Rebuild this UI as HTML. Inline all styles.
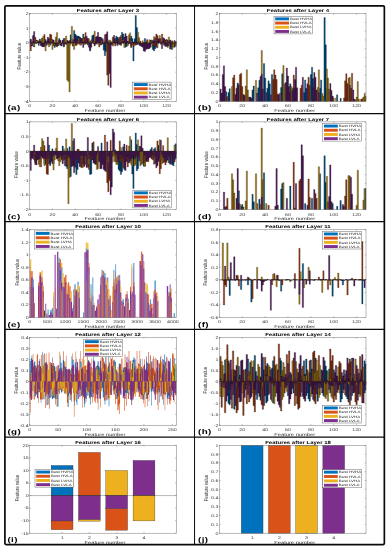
<!DOCTYPE html><html><head><meta charset="utf-8"><title>Features after layers</title>
<style>html,body{margin:0;padding:0;background:#fff}svg{display:block}text{font-family:'Liberation Sans',Arial,Helvetica,sans-serif;text-rendering:geometricPrecision}</style></head><body>
<svg width="390" height="550" viewBox="0 0 390 550">
<rect width="390" height="550" fill="#fff"/>
<g>
<path d="M30.1 42.9V39.9H31.4V42.9ZM31.2 42.9V45.4H32.5V42.9ZM32.4 42.9V42.4H33.7V42.9ZM33.5 42.9V47.0H34.8V42.9ZM34.7 42.9V42.1H36.0V42.9ZM35.8 42.9V40.0H37.1V42.9ZM36.9 42.9V42.4H38.2V42.9ZM38.1 42.9V45.4H39.4V42.9ZM39.2 42.9V38.9H40.5V42.9ZM40.4 42.9V41.3H41.7V42.9ZM41.5 42.9V38.2H42.8V42.9ZM42.6 42.9V43.5H44.0V42.9ZM43.8 42.9V41.2H45.1V42.9ZM44.9 42.9V39.5H46.2V42.9ZM46.1 42.9V41.2H47.4V42.9ZM47.2 42.9V41.5H48.5V42.9ZM48.3 42.9V44.6H49.7V42.9ZM49.5 42.9V45.2H50.8V42.9ZM50.6 42.9V39.4H51.9V42.9ZM51.8 42.9V44.0H53.1V42.9ZM52.9 42.9V42.5H54.2V42.9ZM54.1 42.9V47.5H55.4V42.9ZM55.2 42.9V45.8H56.5V42.9ZM56.3 42.9V45.8H57.7V42.9ZM57.5 42.9V45.5H58.8V42.9ZM58.6 42.9V38.4H59.9V42.9ZM59.8 42.9V45.6H61.1V42.9ZM60.9 42.9V46.0H62.2V42.9ZM62.0 42.9V41.2H63.4V42.9ZM63.2 42.9V38.2H64.5V42.9ZM64.3 42.9V43.0H65.6V42.9ZM65.5 42.9V42.5H66.8V42.9ZM66.6 42.9V40.3H67.9V42.9ZM67.8 42.9V41.3H69.1V42.9ZM68.9 42.9V43.5H70.2V42.9ZM70.0 42.9V34.8H71.4V42.9ZM71.2 42.9V39.0H72.5V42.9ZM72.3 42.9V46.3H73.6V42.9ZM73.5 42.9V30.4H74.8V42.9ZM74.6 42.9V34.1H75.9V42.9ZM75.7 42.9V35.5H77.1V42.9ZM76.9 42.9V36.3H78.2V42.9ZM78.0 42.9V36.1H79.3V42.9ZM79.2 42.9V37.0H80.5V42.9ZM80.3 42.9V43.0H81.6V42.9ZM81.5 42.9V42.4H82.8V42.9ZM82.6 42.9V34.1H83.9V42.9ZM83.7 42.9V43.7H85.0V42.9ZM84.9 42.9V41.9H86.2V42.9ZM86.0 42.9V40.1H87.3V42.9ZM87.2 42.9V45.0H88.5V42.9ZM88.3 42.9V42.2H89.6V42.9ZM89.4 42.9V51.1H90.8V42.9ZM90.6 42.9V40.9H91.9V42.9ZM91.7 42.9V35.5H93.0V42.9ZM92.9 42.9V34.8H94.2V42.9ZM94.0 42.9V42.7H95.3V42.9ZM95.2 42.9V43.9H96.5V42.9ZM96.3 42.9V38.2H97.6V42.9ZM97.4 42.9V42.3H98.7V42.9ZM98.6 42.9V41.8H99.9V42.9ZM99.7 42.9V42.4H101.0V42.9ZM100.9 42.9V37.7H102.2V42.9ZM102.0 42.9V40.6H103.3V42.9ZM103.1 42.9V50.2H104.5V42.9ZM104.3 42.9V55.7H105.6V42.9ZM105.4 42.9V51.6H106.7V42.9ZM106.6 42.9V42.7H107.9V42.9ZM107.7 42.9V47.3H109.0V42.9ZM108.9 42.9V42.9H110.2V42.9ZM110.0 42.9V42.5H111.3V42.9ZM111.1 42.9V45.0H112.4V42.9ZM112.3 42.9V37.6H113.6V42.9ZM113.4 42.9V42.2H114.7V42.9ZM114.6 42.9V44.2H115.9V42.9ZM115.7 42.9V36.3H117.0V42.9ZM116.8 42.9V37.0H118.2V42.9ZM118.0 42.9V40.7H119.3V42.9ZM119.1 42.9V44.7H120.4V42.9ZM120.3 42.9V44.4H121.6V42.9ZM121.4 42.9V32.2H122.7V42.9ZM122.5 42.9V34.1H123.9V42.9ZM123.7 42.9V43.9H125.0V42.9ZM124.8 42.9V47.3H126.1V42.9ZM126.0 42.9V46.5H127.3V42.9ZM127.1 42.9V42.0H128.4V42.9ZM128.3 42.9V41.2H129.6V42.9ZM129.4 42.9V42.4H130.7V42.9ZM130.5 42.9V36.1H131.9V42.9ZM131.7 42.9V38.5H133.0V42.9ZM132.8 42.9V61.0H134.1V42.9ZM134.0 42.9V38.7H135.3V42.9ZM135.1 42.9V15.4H136.4V42.9ZM136.2 42.9V27.5H137.6V42.9ZM137.4 42.9V43.6H138.7V42.9ZM138.5 42.9V41.6H139.8V42.9ZM139.7 42.9V45.5H141.0V42.9ZM140.8 42.9V45.6H142.1V42.9ZM142.0 42.9V44.3H143.3V42.9ZM143.1 42.9V44.5H144.4V42.9ZM144.2 42.9V38.5H145.6V42.9ZM145.4 42.9V42.0H146.7V42.9ZM146.5 42.9V40.7H147.8V42.9ZM147.7 42.9V44.5H149.0V42.9ZM148.8 42.9V43.1H150.1V42.9ZM149.9 42.9V39.9H151.3V42.9ZM151.1 42.9V42.3H152.4V42.9ZM152.2 42.9V49.5H153.5V42.9ZM153.4 42.9V50.9H154.7V42.9ZM154.5 42.9V48.7H155.8V42.9ZM155.7 42.9V41.6H157.0V42.9ZM156.8 42.9V44.8H158.1V42.9ZM157.9 42.9V40.6H159.2V42.9ZM159.1 42.9V41.8H160.4V42.9ZM160.2 42.9V41.7H161.5V42.9ZM161.4 42.9V41.4H162.7V42.9ZM162.5 42.9V41.3H163.8V42.9ZM163.6 42.9V45.1H165.0V42.9ZM164.8 42.9V43.5H166.1V42.9ZM167.1 42.9V40.0H168.4V42.9ZM168.2 42.9V42.5H169.5V42.9ZM169.4 42.9V48.9H170.7V42.9ZM170.5 42.9V47.3H171.8V42.9ZM171.6 42.9V41.1H172.9V42.9ZM172.8 42.9V45.1H174.1V42.9ZM173.9 42.9V47.3H175.2V42.9ZM175.1 42.9V42.1H176.4V42.9Z" fill="#005084"/>
<path d="M30.1 42.9V39.9H31.4V42.9M31.2 42.9V45.4H32.5V42.9M32.4 42.9V42.4H33.7V42.9M33.5 42.9V47.0H34.8V42.9M34.7 42.9V42.1H36.0V42.9M35.8 42.9V40.0H37.1V42.9M36.9 42.9V42.4H38.2V42.9M38.1 42.9V45.4H39.4V42.9M39.2 42.9V38.9H40.5V42.9M40.4 42.9V41.3H41.7V42.9M41.5 42.9V38.2H42.8V42.9M42.6 42.9V43.5H44.0V42.9M43.8 42.9V41.2H45.1V42.9M44.9 42.9V39.5H46.2V42.9M46.1 42.9V41.2H47.4V42.9M47.2 42.9V41.5H48.5V42.9M48.3 42.9V44.6H49.7V42.9M49.5 42.9V45.2H50.8V42.9M50.6 42.9V39.4H51.9V42.9M51.8 42.9V44.0H53.1V42.9M52.9 42.9V42.5H54.2V42.9M54.1 42.9V47.5H55.4V42.9M55.2 42.9V45.8H56.5V42.9M56.3 42.9V45.8H57.7V42.9M57.5 42.9V45.5H58.8V42.9M58.6 42.9V38.4H59.9V42.9M59.8 42.9V45.6H61.1V42.9M60.9 42.9V46.0H62.2V42.9M62.0 42.9V41.2H63.4V42.9M63.2 42.9V38.2H64.5V42.9M64.3 42.9V43.0H65.6V42.9M65.5 42.9V42.5H66.8V42.9M66.6 42.9V40.3H67.9V42.9M67.8 42.9V41.3H69.1V42.9M68.9 42.9V43.5H70.2V42.9M70.0 42.9V34.8H71.4V42.9M71.2 42.9V39.0H72.5V42.9M72.3 42.9V46.3H73.6V42.9M73.5 42.9V30.4H74.8V42.9M74.6 42.9V34.1H75.9V42.9M75.7 42.9V35.5H77.1V42.9M76.9 42.9V36.3H78.2V42.9M78.0 42.9V36.1H79.3V42.9M79.2 42.9V37.0H80.5V42.9M80.3 42.9V43.0H81.6V42.9M81.5 42.9V42.4H82.8V42.9M82.6 42.9V34.1H83.9V42.9M83.7 42.9V43.7H85.0V42.9M84.9 42.9V41.9H86.2V42.9M86.0 42.9V40.1H87.3V42.9M87.2 42.9V45.0H88.5V42.9M88.3 42.9V42.2H89.6V42.9M89.4 42.9V51.1H90.8V42.9M90.6 42.9V40.9H91.9V42.9M91.7 42.9V35.5H93.0V42.9M92.9 42.9V34.8H94.2V42.9M94.0 42.9V42.7H95.3V42.9M95.2 42.9V43.9H96.5V42.9M96.3 42.9V38.2H97.6V42.9M97.4 42.9V42.3H98.7V42.9M98.6 42.9V41.8H99.9V42.9M99.7 42.9V42.4H101.0V42.9M100.9 42.9V37.7H102.2V42.9M102.0 42.9V40.6H103.3V42.9M103.1 42.9V50.2H104.5V42.9M104.3 42.9V55.7H105.6V42.9M105.4 42.9V51.6H106.7V42.9M106.6 42.9V42.7H107.9V42.9M107.7 42.9V47.3H109.0V42.9M108.9 42.9V42.9H110.2V42.9M110.0 42.9V42.5H111.3V42.9M111.1 42.9V45.0H112.4V42.9M112.3 42.9V37.6H113.6V42.9M113.4 42.9V42.2H114.7V42.9M114.6 42.9V44.2H115.9V42.9M115.7 42.9V36.3H117.0V42.9M116.8 42.9V37.0H118.2V42.9M118.0 42.9V40.7H119.3V42.9M119.1 42.9V44.7H120.4V42.9M120.3 42.9V44.4H121.6V42.9M121.4 42.9V32.2H122.7V42.9M122.5 42.9V34.1H123.9V42.9M123.7 42.9V43.9H125.0V42.9M124.8 42.9V47.3H126.1V42.9M126.0 42.9V46.5H127.3V42.9M127.1 42.9V42.0H128.4V42.9M128.3 42.9V41.2H129.6V42.9M129.4 42.9V42.4H130.7V42.9M130.5 42.9V36.1H131.9V42.9M131.7 42.9V38.5H133.0V42.9M132.8 42.9V61.0H134.1V42.9M134.0 42.9V38.7H135.3V42.9M135.1 42.9V15.4H136.4V42.9M136.2 42.9V27.5H137.6V42.9M137.4 42.9V43.6H138.7V42.9M138.5 42.9V41.6H139.8V42.9M139.7 42.9V45.5H141.0V42.9M140.8 42.9V45.6H142.1V42.9M142.0 42.9V44.3H143.3V42.9M143.1 42.9V44.5H144.4V42.9M144.2 42.9V38.5H145.6V42.9M145.4 42.9V42.0H146.7V42.9M146.5 42.9V40.7H147.8V42.9M147.7 42.9V44.5H149.0V42.9M148.8 42.9V43.1H150.1V42.9M149.9 42.9V39.9H151.3V42.9M151.1 42.9V42.3H152.4V42.9M152.2 42.9V49.5H153.5V42.9M153.4 42.9V50.9H154.7V42.9M154.5 42.9V48.7H155.8V42.9M155.7 42.9V41.6H157.0V42.9M156.8 42.9V44.8H158.1V42.9M157.9 42.9V40.6H159.2V42.9M159.1 42.9V41.8H160.4V42.9M160.2 42.9V41.7H161.5V42.9M161.4 42.9V41.4H162.7V42.9M162.5 42.9V41.3H163.8V42.9M163.6 42.9V45.1H165.0V42.9M164.8 42.9V43.5H166.1V42.9M167.1 42.9V40.0H168.4V42.9M168.2 42.9V42.5H169.5V42.9M169.4 42.9V48.9H170.7V42.9M170.5 42.9V47.3H171.8V42.9M171.6 42.9V41.1H172.9V42.9M172.8 42.9V45.1H174.1V42.9M173.9 42.9V47.3H175.2V42.9M175.1 42.9V42.1H176.4V42.9" fill="none" stroke="#000" stroke-opacity="0.55" stroke-width="0.4"/>
<path d="M30.1 42.9V50.9H31.4V42.9ZM31.2 42.9V42.8H32.5V42.9ZM32.4 42.9V42.6H33.7V42.9ZM33.5 42.9V43.0H34.8V42.9ZM34.7 42.9V37.3H36.0V42.9ZM35.8 42.9V42.4H37.1V42.9ZM36.9 42.9V40.5H38.2V42.9ZM38.1 42.9V41.8H39.4V42.9ZM39.2 42.9V40.3H40.5V42.9ZM40.4 42.9V45.4H41.7V42.9ZM41.5 42.9V43.1H42.8V42.9ZM42.6 42.9V46.5H44.0V42.9ZM43.8 42.9V34.4H45.1V42.9ZM44.9 42.9V45.9H46.2V42.9ZM46.1 42.9V42.5H47.4V42.9ZM47.2 42.9V40.3H48.5V42.9ZM48.3 42.9V41.1H49.7V42.9ZM49.5 42.9V34.1H50.8V42.9ZM50.6 42.9V34.8H51.9V42.9ZM51.8 42.9V42.0H53.1V42.9ZM52.9 42.9V45.8H54.2V42.9ZM54.1 42.9V43.4H55.4V42.9ZM55.2 42.9V39.9H56.5V42.9ZM56.3 42.9V47.1H57.7V42.9ZM57.5 42.9V45.5H58.8V42.9ZM58.6 42.9V41.2H59.9V42.9ZM59.8 42.9V42.9H61.1V42.9ZM60.9 42.9V43.7H62.2V42.9ZM62.0 42.9V42.6H63.4V42.9ZM63.2 42.9V46.1H64.5V42.9ZM64.3 42.9V38.4H65.6V42.9ZM65.5 42.9V42.8H66.8V42.9ZM66.6 42.9V40.8H67.9V42.9ZM67.8 42.9V47.3H69.1V42.9ZM68.9 42.9V45.4H70.2V42.9ZM70.0 42.9V42.5H71.4V42.9ZM71.2 42.9V39.7H72.5V42.9ZM72.3 42.9V45.5H73.6V42.9ZM73.5 42.9V39.9H74.8V42.9ZM74.6 42.9V45.5H75.9V42.9ZM75.7 42.9V45.6H77.1V42.9ZM76.9 42.9V41.0H78.2V42.9ZM78.0 42.9V42.2H79.3V42.9ZM79.2 42.9V38.5H80.5V42.9ZM80.3 42.9V45.3H81.6V42.9ZM81.5 42.9V43.3H82.8V42.9ZM82.6 42.9V43.5H83.9V42.9ZM83.7 42.9V37.0H85.0V42.9ZM84.9 42.9V32.6H86.2V42.9ZM86.0 42.9V40.8H87.3V42.9ZM87.2 42.9V38.6H88.5V42.9ZM88.3 42.9V40.9H89.6V42.9ZM89.4 42.9V41.5H90.8V42.9ZM90.6 42.9V43.8H91.9V42.9ZM91.7 42.9V42.2H93.0V42.9ZM92.9 42.9V42.1H94.2V42.9ZM94.0 42.9V46.0H95.3V42.9ZM95.2 42.9V41.2H96.5V42.9ZM96.3 42.9V44.3H97.6V42.9ZM97.4 42.9V42.5H98.7V42.9ZM98.6 42.9V47.1H99.9V42.9ZM99.7 42.9V45.1H101.0V42.9ZM100.9 42.9V42.0H102.2V42.9ZM102.0 42.9V44.0H103.3V42.9ZM103.1 42.9V43.2H104.5V42.9ZM104.3 42.9V34.8H105.6V42.9ZM105.4 42.9V43.0H106.7V42.9ZM106.6 42.9V75.1H107.9V42.9ZM107.7 42.9V85.3H109.0V42.9ZM108.9 42.9V40.2H110.2V42.9ZM110.0 42.9V42.8H111.3V42.9ZM111.1 42.9V44.3H112.4V42.9ZM112.3 42.9V46.1H113.6V42.9ZM113.4 42.9V39.7H114.7V42.9ZM114.6 42.9V46.1H115.9V42.9ZM115.7 42.9V41.2H117.0V42.9ZM116.8 42.9V43.1H118.2V42.9ZM118.0 42.9V43.7H119.3V42.9ZM119.1 42.9V37.0H120.4V42.9ZM120.3 42.9V35.5H121.6V42.9ZM121.4 42.9V42.4H122.7V42.9ZM122.5 42.9V43.2H123.9V42.9ZM123.7 42.9V38.9H125.0V42.9ZM124.8 42.9V40.6H126.1V42.9ZM126.0 42.9V43.3H127.3V42.9ZM127.1 42.9V44.7H128.4V42.9ZM128.3 42.9V43.8H129.6V42.9ZM129.4 42.9V43.2H130.7V42.9ZM130.5 42.9V47.7H131.9V42.9ZM131.7 42.9V44.2H133.0V42.9ZM132.8 42.9V46.3H134.1V42.9ZM134.0 42.9V43.8H135.3V42.9ZM135.1 42.9V44.9H136.4V42.9ZM136.2 42.9V42.3H137.6V42.9ZM137.4 42.9V43.2H138.7V42.9ZM138.5 42.9V41.6H139.8V42.9ZM139.7 42.9V41.0H141.0V42.9ZM140.8 42.9V43.4H142.1V42.9ZM142.0 42.9V46.4H143.3V42.9ZM143.1 42.9V42.6H144.4V42.9ZM144.2 42.9V45.8H145.6V42.9ZM145.4 42.9V42.6H146.7V42.9ZM146.5 42.9V39.5H147.8V42.9ZM147.7 42.9V47.1H149.0V42.9ZM148.8 42.9V46.0H150.1V42.9ZM149.9 42.9V43.6H151.3V42.9ZM151.1 42.9V39.9H152.4V42.9ZM152.2 42.9V46.2H153.5V42.9ZM153.4 42.9V39.6H154.7V42.9ZM154.5 42.9V45.9H155.8V42.9ZM155.7 42.9V34.1H157.0V42.9ZM156.8 42.9V35.5H158.1V42.9ZM157.9 42.9V43.3H159.2V42.9ZM159.1 42.9V41.1H160.4V42.9ZM160.2 42.9V43.2H161.5V42.9ZM161.4 42.9V34.1H162.7V42.9ZM162.5 42.9V42.8H163.8V42.9ZM163.6 42.9V45.2H165.0V42.9ZM164.8 42.9V40.0H166.1V42.9ZM165.9 42.9V39.3H167.2V42.9ZM167.1 42.9V43.4H168.4V42.9ZM168.2 42.9V45.9H169.5V42.9ZM169.4 42.9V40.2H170.7V42.9ZM170.5 42.9V44.6H171.8V42.9ZM171.6 42.9V40.8H172.9V42.9ZM172.8 42.9V42.9H174.1V42.9ZM173.9 42.9V42.0H175.2V42.9ZM175.1 42.9V46.3H176.4V42.9Z" fill="#983a12"/>
<path d="M30.1 42.9V50.9H31.4V42.9M31.2 42.9V42.8H32.5V42.9M32.4 42.9V42.6H33.7V42.9M33.5 42.9V43.0H34.8V42.9M34.7 42.9V37.3H36.0V42.9M35.8 42.9V42.4H37.1V42.9M36.9 42.9V40.5H38.2V42.9M38.1 42.9V41.8H39.4V42.9M39.2 42.9V40.3H40.5V42.9M40.4 42.9V45.4H41.7V42.9M41.5 42.9V43.1H42.8V42.9M42.6 42.9V46.5H44.0V42.9M43.8 42.9V34.4H45.1V42.9M44.9 42.9V45.9H46.2V42.9M46.1 42.9V42.5H47.4V42.9M47.2 42.9V40.3H48.5V42.9M48.3 42.9V41.1H49.7V42.9M49.5 42.9V34.1H50.8V42.9M50.6 42.9V34.8H51.9V42.9M51.8 42.9V42.0H53.1V42.9M52.9 42.9V45.8H54.2V42.9M54.1 42.9V43.4H55.4V42.9M55.2 42.9V39.9H56.5V42.9M56.3 42.9V47.1H57.7V42.9M57.5 42.9V45.5H58.8V42.9M58.6 42.9V41.2H59.9V42.9M59.8 42.9V42.9H61.1V42.9M60.9 42.9V43.7H62.2V42.9M62.0 42.9V42.6H63.4V42.9M63.2 42.9V46.1H64.5V42.9M64.3 42.9V38.4H65.6V42.9M65.5 42.9V42.8H66.8V42.9M66.6 42.9V40.8H67.9V42.9M67.8 42.9V47.3H69.1V42.9M68.9 42.9V45.4H70.2V42.9M70.0 42.9V42.5H71.4V42.9M71.2 42.9V39.7H72.5V42.9M72.3 42.9V45.5H73.6V42.9M73.5 42.9V39.9H74.8V42.9M74.6 42.9V45.5H75.9V42.9M75.7 42.9V45.6H77.1V42.9M76.9 42.9V41.0H78.2V42.9M78.0 42.9V42.2H79.3V42.9M79.2 42.9V38.5H80.5V42.9M80.3 42.9V45.3H81.6V42.9M81.5 42.9V43.3H82.8V42.9M82.6 42.9V43.5H83.9V42.9M83.7 42.9V37.0H85.0V42.9M84.9 42.9V32.6H86.2V42.9M86.0 42.9V40.8H87.3V42.9M87.2 42.9V38.6H88.5V42.9M88.3 42.9V40.9H89.6V42.9M89.4 42.9V41.5H90.8V42.9M90.6 42.9V43.8H91.9V42.9M91.7 42.9V42.2H93.0V42.9M92.9 42.9V42.1H94.2V42.9M94.0 42.9V46.0H95.3V42.9M95.2 42.9V41.2H96.5V42.9M96.3 42.9V44.3H97.6V42.9M97.4 42.9V42.5H98.7V42.9M98.6 42.9V47.1H99.9V42.9M99.7 42.9V45.1H101.0V42.9M100.9 42.9V42.0H102.2V42.9M102.0 42.9V44.0H103.3V42.9M103.1 42.9V43.2H104.5V42.9M104.3 42.9V34.8H105.6V42.9M105.4 42.9V43.0H106.7V42.9M106.6 42.9V75.1H107.9V42.9M107.7 42.9V85.3H109.0V42.9M108.9 42.9V40.2H110.2V42.9M110.0 42.9V42.8H111.3V42.9M111.1 42.9V44.3H112.4V42.9M112.3 42.9V46.1H113.6V42.9M113.4 42.9V39.7H114.7V42.9M114.6 42.9V46.1H115.9V42.9M115.7 42.9V41.2H117.0V42.9M116.8 42.9V43.1H118.2V42.9M118.0 42.9V43.7H119.3V42.9M119.1 42.9V37.0H120.4V42.9M120.3 42.9V35.5H121.6V42.9M121.4 42.9V42.4H122.7V42.9M122.5 42.9V43.2H123.9V42.9M123.7 42.9V38.9H125.0V42.9M124.8 42.9V40.6H126.1V42.9M126.0 42.9V43.3H127.3V42.9M127.1 42.9V44.7H128.4V42.9M128.3 42.9V43.8H129.6V42.9M129.4 42.9V43.2H130.7V42.9M130.5 42.9V47.7H131.9V42.9M131.7 42.9V44.2H133.0V42.9M132.8 42.9V46.3H134.1V42.9M134.0 42.9V43.8H135.3V42.9M135.1 42.9V44.9H136.4V42.9M136.2 42.9V42.3H137.6V42.9M137.4 42.9V43.2H138.7V42.9M138.5 42.9V41.6H139.8V42.9M139.7 42.9V41.0H141.0V42.9M140.8 42.9V43.4H142.1V42.9M142.0 42.9V46.4H143.3V42.9M143.1 42.9V42.6H144.4V42.9M144.2 42.9V45.8H145.6V42.9M145.4 42.9V42.6H146.7V42.9M146.5 42.9V39.5H147.8V42.9M147.7 42.9V47.1H149.0V42.9M148.8 42.9V46.0H150.1V42.9M149.9 42.9V43.6H151.3V42.9M151.1 42.9V39.9H152.4V42.9M152.2 42.9V46.2H153.5V42.9M153.4 42.9V39.6H154.7V42.9M154.5 42.9V45.9H155.8V42.9M155.7 42.9V34.1H157.0V42.9M156.8 42.9V35.5H158.1V42.9M157.9 42.9V43.3H159.2V42.9M159.1 42.9V41.1H160.4V42.9M160.2 42.9V43.2H161.5V42.9M161.4 42.9V34.1H162.7V42.9M162.5 42.9V42.8H163.8V42.9M163.6 42.9V45.2H165.0V42.9M164.8 42.9V40.0H166.1V42.9M165.9 42.9V39.3H167.2V42.9M167.1 42.9V43.4H168.4V42.9M168.2 42.9V45.9H169.5V42.9M169.4 42.9V40.2H170.7V42.9M170.5 42.9V44.6H171.8V42.9M171.6 42.9V40.8H172.9V42.9M172.8 42.9V42.9H174.1V42.9M173.9 42.9V42.0H175.2V42.9M175.1 42.9V46.3H176.4V42.9" fill="none" stroke="#000" stroke-opacity="0.55" stroke-width="0.4"/>
<path d="M30.1 42.9V42.7H31.4V42.9ZM31.2 42.9V45.3H32.5V42.9ZM32.4 42.9V41.6H33.7V42.9ZM33.5 42.9V46.4H34.8V42.9ZM34.7 42.9V42.4H36.0V42.9ZM35.8 42.9V40.7H37.1V42.9ZM36.9 42.9V41.2H38.2V42.9ZM38.1 42.9V42.7H39.4V42.9ZM39.2 42.9V43.0H40.5V42.9ZM40.4 42.9V43.8H41.7V42.9ZM41.5 42.9V38.5H42.8V42.9ZM42.6 42.9V36.3H44.0V42.9ZM43.8 42.9V43.9H45.1V42.9ZM44.9 42.9V50.9H46.2V42.9ZM46.1 42.9V42.2H47.4V42.9ZM47.2 42.9V43.9H48.5V42.9ZM48.3 42.9V46.9H49.7V42.9ZM49.5 42.9V43.4H50.8V42.9ZM50.6 42.9V39.7H51.9V42.9ZM51.8 42.9V49.5H53.1V42.9ZM52.9 42.9V41.8H54.2V42.9ZM54.1 42.9V45.2H55.4V42.9ZM55.2 42.9V37.0H56.5V42.9ZM56.3 42.9V32.6H57.7V42.9ZM57.5 42.9V45.2H58.8V42.9ZM58.6 42.9V44.3H59.9V42.9ZM59.8 42.9V44.2H61.1V42.9ZM60.9 42.9V44.8H62.2V42.9ZM62.0 42.9V41.5H63.4V42.9ZM63.2 42.9V41.6H64.5V42.9ZM64.3 42.9V43.3H65.6V42.9ZM65.5 42.9V36.1H66.8V42.9ZM66.6 42.9V80.2H67.9V42.9ZM67.8 42.9V81.6H69.1V42.9ZM68.9 42.9V91.9H70.2V42.9ZM70.0 42.9V44.2H71.4V42.9ZM71.2 42.9V26.3H72.5V42.9ZM72.3 42.9V42.4H73.6V42.9ZM73.5 42.9V49.6H74.8V42.9ZM74.6 42.9V41.7H75.9V42.9ZM75.7 42.9V42.3H77.1V42.9ZM76.9 42.9V44.3H78.2V42.9ZM78.0 42.9V38.2H79.3V42.9ZM79.2 42.9V44.9H80.5V42.9ZM81.5 42.9V40.3H82.8V42.9ZM82.6 42.9V38.6H83.9V42.9ZM83.7 42.9V44.4H85.0V42.9ZM84.9 42.9V44.3H86.2V42.9ZM86.0 42.9V43.7H87.3V42.9ZM87.2 42.9V42.5H88.5V42.9ZM88.3 42.9V38.8H89.6V42.9ZM89.4 42.9V44.9H90.8V42.9ZM90.6 42.9V40.2H91.9V42.9ZM91.7 42.9V42.5H93.0V42.9ZM92.9 42.9V41.5H94.2V42.9ZM94.0 42.9V31.2H95.3V42.9ZM95.2 42.9V40.7H96.5V42.9ZM96.3 42.9V40.9H97.6V42.9ZM97.4 42.9V38.7H98.7V42.9ZM98.6 42.9V44.6H99.9V42.9ZM99.7 42.9V44.4H101.0V42.9ZM100.9 42.9V40.5H102.2V42.9ZM102.0 42.9V43.6H103.3V42.9ZM103.1 42.9V43.4H104.5V42.9ZM104.3 42.9V41.2H105.6V42.9ZM105.4 42.9V41.8H106.7V42.9ZM106.6 42.9V38.8H107.9V42.9ZM107.7 42.9V41.2H109.0V42.9ZM108.9 42.9V40.1H110.2V42.9ZM110.0 42.9V40.9H111.3V42.9ZM111.1 42.9V43.2H112.4V42.9ZM112.3 42.9V37.0H113.6V42.9ZM113.4 42.9V40.0H114.7V42.9ZM114.6 42.9V43.0H115.9V42.9ZM115.7 42.9V41.2H117.0V42.9ZM116.8 42.9V44.8H118.2V42.9ZM118.0 42.9V43.6H119.3V42.9ZM119.1 42.9V41.3H120.4V42.9ZM120.3 42.9V45.6H121.6V42.9ZM121.4 42.9V42.8H122.7V42.9ZM122.5 42.9V39.9H123.9V42.9ZM123.7 42.9V47.5H125.0V42.9ZM124.8 42.9V42.6H126.1V42.9ZM126.0 42.9V41.8H127.3V42.9ZM127.1 42.9V45.8H128.4V42.9ZM128.3 42.9V34.8H129.6V42.9ZM129.4 42.9V32.8H130.7V42.9ZM130.5 42.9V40.8H131.9V42.9ZM131.7 42.9V44.1H133.0V42.9ZM134.0 42.9V45.7H135.3V42.9ZM135.1 42.9V44.6H136.4V42.9ZM136.2 42.9V44.3H137.6V42.9ZM137.4 42.9V32.2H138.7V42.9ZM138.5 42.9V37.7H139.8V42.9ZM139.7 42.9V42.8H141.0V42.9ZM140.8 42.9V44.4H142.1V42.9ZM142.0 42.9V40.7H143.3V42.9ZM143.1 42.9V45.4H144.4V42.9ZM144.2 42.9V43.4H145.6V42.9ZM145.4 42.9V47.7H146.7V42.9ZM146.5 42.9V41.4H147.8V42.9ZM147.7 42.9V45.4H149.0V42.9ZM148.8 42.9V39.8H150.1V42.9ZM149.9 42.9V42.1H151.3V42.9ZM151.1 42.9V42.8H152.4V42.9ZM152.2 42.9V44.5H153.5V42.9ZM153.4 42.9V36.5H154.7V42.9ZM154.5 42.9V43.4H155.8V42.9ZM155.7 42.9V42.1H157.0V42.9ZM156.8 42.9V47.9H158.1V42.9ZM157.9 42.9V42.1H159.2V42.9ZM159.1 42.9V35.5H160.4V42.9ZM160.2 42.9V38.5H161.5V42.9ZM161.4 42.9V42.8H162.7V42.9ZM162.5 42.9V43.3H163.8V42.9ZM163.6 42.9V42.1H165.0V42.9ZM164.8 42.9V43.3H166.1V42.9ZM165.9 42.9V41.8H167.2V42.9ZM167.1 42.9V47.5H168.4V42.9ZM168.2 42.9V36.9H169.5V42.9ZM169.4 42.9V40.0H170.7V42.9ZM170.5 42.9V42.4H171.8V42.9ZM171.6 42.9V49.6H172.9V42.9ZM172.8 42.9V47.3H174.1V42.9ZM173.9 42.9V43.7H175.2V42.9ZM175.1 42.9V41.4H176.4V42.9Z" fill="#a67c16"/>
<path d="M30.1 42.9V42.7H31.4V42.9M31.2 42.9V45.3H32.5V42.9M32.4 42.9V41.6H33.7V42.9M33.5 42.9V46.4H34.8V42.9M34.7 42.9V42.4H36.0V42.9M35.8 42.9V40.7H37.1V42.9M36.9 42.9V41.2H38.2V42.9M38.1 42.9V42.7H39.4V42.9M39.2 42.9V43.0H40.5V42.9M40.4 42.9V43.8H41.7V42.9M41.5 42.9V38.5H42.8V42.9M42.6 42.9V36.3H44.0V42.9M43.8 42.9V43.9H45.1V42.9M44.9 42.9V50.9H46.2V42.9M46.1 42.9V42.2H47.4V42.9M47.2 42.9V43.9H48.5V42.9M48.3 42.9V46.9H49.7V42.9M49.5 42.9V43.4H50.8V42.9M50.6 42.9V39.7H51.9V42.9M51.8 42.9V49.5H53.1V42.9M52.9 42.9V41.8H54.2V42.9M54.1 42.9V45.2H55.4V42.9M55.2 42.9V37.0H56.5V42.9M56.3 42.9V32.6H57.7V42.9M57.5 42.9V45.2H58.8V42.9M58.6 42.9V44.3H59.9V42.9M59.8 42.9V44.2H61.1V42.9M60.9 42.9V44.8H62.2V42.9M62.0 42.9V41.5H63.4V42.9M63.2 42.9V41.6H64.5V42.9M64.3 42.9V43.3H65.6V42.9M65.5 42.9V36.1H66.8V42.9M66.6 42.9V80.2H67.9V42.9M67.8 42.9V81.6H69.1V42.9M68.9 42.9V91.9H70.2V42.9M70.0 42.9V44.2H71.4V42.9M71.2 42.9V26.3H72.5V42.9M72.3 42.9V42.4H73.6V42.9M73.5 42.9V49.6H74.8V42.9M74.6 42.9V41.7H75.9V42.9M75.7 42.9V42.3H77.1V42.9M76.9 42.9V44.3H78.2V42.9M78.0 42.9V38.2H79.3V42.9M79.2 42.9V44.9H80.5V42.9M81.5 42.9V40.3H82.8V42.9M82.6 42.9V38.6H83.9V42.9M83.7 42.9V44.4H85.0V42.9M84.9 42.9V44.3H86.2V42.9M86.0 42.9V43.7H87.3V42.9M87.2 42.9V42.5H88.5V42.9M88.3 42.9V38.8H89.6V42.9M89.4 42.9V44.9H90.8V42.9M90.6 42.9V40.2H91.9V42.9M91.7 42.9V42.5H93.0V42.9M92.9 42.9V41.5H94.2V42.9M94.0 42.9V31.2H95.3V42.9M95.2 42.9V40.7H96.5V42.9M96.3 42.9V40.9H97.6V42.9M97.4 42.9V38.7H98.7V42.9M98.6 42.9V44.6H99.9V42.9M99.7 42.9V44.4H101.0V42.9M100.9 42.9V40.5H102.2V42.9M102.0 42.9V43.6H103.3V42.9M103.1 42.9V43.4H104.5V42.9M104.3 42.9V41.2H105.6V42.9M105.4 42.9V41.8H106.7V42.9M106.6 42.9V38.8H107.9V42.9M107.7 42.9V41.2H109.0V42.9M108.9 42.9V40.1H110.2V42.9M110.0 42.9V40.9H111.3V42.9M111.1 42.9V43.2H112.4V42.9M112.3 42.9V37.0H113.6V42.9M113.4 42.9V40.0H114.7V42.9M114.6 42.9V43.0H115.9V42.9M115.7 42.9V41.2H117.0V42.9M116.8 42.9V44.8H118.2V42.9M118.0 42.9V43.6H119.3V42.9M119.1 42.9V41.3H120.4V42.9M120.3 42.9V45.6H121.6V42.9M121.4 42.9V42.8H122.7V42.9M122.5 42.9V39.9H123.9V42.9M123.7 42.9V47.5H125.0V42.9M124.8 42.9V42.6H126.1V42.9M126.0 42.9V41.8H127.3V42.9M127.1 42.9V45.8H128.4V42.9M128.3 42.9V34.8H129.6V42.9M129.4 42.9V32.8H130.7V42.9M130.5 42.9V40.8H131.9V42.9M131.7 42.9V44.1H133.0V42.9M134.0 42.9V45.7H135.3V42.9M135.1 42.9V44.6H136.4V42.9M136.2 42.9V44.3H137.6V42.9M137.4 42.9V32.2H138.7V42.9M138.5 42.9V37.7H139.8V42.9M139.7 42.9V42.8H141.0V42.9M140.8 42.9V44.4H142.1V42.9M142.0 42.9V40.7H143.3V42.9M143.1 42.9V45.4H144.4V42.9M144.2 42.9V43.4H145.6V42.9M145.4 42.9V47.7H146.7V42.9M146.5 42.9V41.4H147.8V42.9M147.7 42.9V45.4H149.0V42.9M148.8 42.9V39.8H150.1V42.9M149.9 42.9V42.1H151.3V42.9M151.1 42.9V42.8H152.4V42.9M152.2 42.9V44.5H153.5V42.9M153.4 42.9V36.5H154.7V42.9M154.5 42.9V43.4H155.8V42.9M155.7 42.9V42.1H157.0V42.9M156.8 42.9V47.9H158.1V42.9M157.9 42.9V42.1H159.2V42.9M159.1 42.9V35.5H160.4V42.9M160.2 42.9V38.5H161.5V42.9M161.4 42.9V42.8H162.7V42.9M162.5 42.9V43.3H163.8V42.9M163.6 42.9V42.1H165.0V42.9M164.8 42.9V43.3H166.1V42.9M165.9 42.9V41.8H167.2V42.9M167.1 42.9V47.5H168.4V42.9M168.2 42.9V36.9H169.5V42.9M169.4 42.9V40.0H170.7V42.9M170.5 42.9V42.4H171.8V42.9M171.6 42.9V49.6H172.9V42.9M172.8 42.9V47.3H174.1V42.9M173.9 42.9V43.7H175.2V42.9M175.1 42.9V41.4H176.4V42.9" fill="none" stroke="#000" stroke-opacity="0.55" stroke-width="0.4"/>
<path d="M30.1 42.9V38.9H31.4V42.9ZM31.2 42.9V46.2H32.5V42.9ZM32.4 42.9V35.5H33.7V42.9ZM33.5 42.9V31.5H34.8V42.9ZM34.7 42.9V43.2H36.0V42.9ZM35.8 42.9V43.7H37.1V42.9ZM36.9 42.9V42.6H38.2V42.9ZM38.1 42.9V41.2H39.4V42.9ZM39.2 42.9V42.4H40.5V42.9ZM40.4 42.9V45.8H41.7V42.9ZM41.5 42.9V46.5H42.8V42.9ZM42.6 42.9V47.0H44.0V42.9ZM43.8 42.9V46.5H45.1V42.9ZM44.9 42.9V43.0H46.2V42.9ZM46.1 42.9V45.2H47.4V42.9ZM47.2 42.9V37.0H48.5V42.9ZM48.3 42.9V38.5H49.7V42.9ZM49.5 42.9V42.8H50.8V42.9ZM50.6 42.9V43.2H51.9V42.9ZM51.8 42.9V39.5H53.1V42.9ZM52.9 42.9V39.9H54.2V42.9ZM54.1 42.9V44.1H55.4V42.9ZM55.2 42.9V42.9H56.5V42.9ZM56.3 42.9V45.4H57.7V42.9ZM57.5 42.9V43.8H58.8V42.9ZM58.6 42.9V39.9H59.9V42.9ZM59.8 42.9V40.2H61.1V42.9ZM60.9 42.9V44.5H62.2V42.9ZM62.0 42.9V40.1H63.4V42.9ZM63.2 42.9V47.0H64.5V42.9ZM64.3 42.9V43.7H65.6V42.9ZM65.5 42.9V44.6H66.8V42.9ZM66.6 42.9V42.1H67.9V42.9ZM67.8 42.9V41.2H69.1V42.9ZM68.9 42.9V40.5H70.2V42.9ZM70.0 42.9V42.1H71.4V42.9ZM71.2 42.9V43.0H72.5V42.9ZM72.3 42.9V42.8H73.6V42.9ZM73.5 42.9V39.8H74.8V42.9ZM74.6 42.9V36.6H75.9V42.9ZM75.7 42.9V39.5H77.1V42.9ZM76.9 42.9V39.9H78.2V42.9ZM78.0 42.9V43.8H79.3V42.9ZM79.2 42.9V37.7H80.5V42.9ZM80.3 42.9V38.2H81.6V42.9ZM81.5 42.9V38.5H82.8V42.9ZM82.6 42.9V47.5H83.9V42.9ZM83.7 42.9V41.4H85.0V42.9ZM84.9 42.9V42.2H86.2V42.9ZM86.0 42.9V36.3H87.3V42.9ZM87.2 42.9V38.5H88.5V42.9ZM88.3 42.9V47.3H89.6V42.9ZM89.4 42.9V49.5H90.8V42.9ZM90.6 42.9V47.3H91.9V42.9ZM91.7 42.9V39.1H93.0V42.9ZM92.9 42.9V43.7H94.2V42.9ZM94.0 42.9V44.8H95.3V42.9ZM95.2 42.9V37.0H96.5V42.9ZM96.3 42.9V36.3H97.6V42.9ZM97.4 42.9V32.2H98.7V42.9ZM98.6 42.9V37.0H99.9V42.9ZM99.7 42.9V37.0H101.0V42.9ZM100.9 42.9V44.8H102.2V42.9ZM102.0 42.9V38.8H103.3V42.9ZM103.1 42.9V43.8H104.5V42.9ZM104.3 42.9V42.4H105.6V42.9ZM105.4 42.9V34.1H106.7V42.9ZM106.6 42.9V31.7H107.9V42.9ZM107.7 42.9V43.9H109.0V42.9ZM108.9 42.9V73.6H110.2V42.9ZM110.0 42.9V87.5H111.3V42.9ZM111.1 42.9V42.1H112.4V42.9ZM112.3 42.9V43.1H113.6V42.9ZM113.4 42.9V35.3H114.7V42.9ZM114.6 42.9V38.5H115.9V42.9ZM115.7 42.9V41.9H117.0V42.9ZM116.8 42.9V45.6H118.2V42.9ZM118.0 42.9V38.5H119.3V42.9ZM119.1 42.9V44.1H120.4V42.9ZM120.3 42.9V44.4H121.6V42.9ZM121.4 42.9V42.0H122.7V42.9ZM122.5 42.9V41.4H123.9V42.9ZM123.7 42.9V37.0H125.0V42.9ZM124.8 42.9V33.5H126.1V42.9ZM126.0 42.9V36.1H127.3V42.9ZM127.1 42.9V41.1H128.4V42.9ZM128.3 42.9V43.7H129.6V42.9ZM129.4 42.9V38.2H130.7V42.9ZM130.5 42.9V46.1H131.9V42.9ZM131.7 42.9V42.3H133.0V42.9ZM132.8 42.9V42.0H134.1V42.9ZM134.0 42.9V43.8H135.3V42.9ZM135.1 42.9V41.6H136.4V42.9ZM136.2 42.9V44.8H137.6V42.9ZM137.4 42.9V41.9H138.7V42.9ZM138.5 42.9V44.9H139.8V42.9ZM139.7 42.9V45.8H141.0V42.9ZM140.8 42.9V46.5H142.1V42.9ZM142.0 42.9V47.3H143.3V42.9ZM143.1 42.9V50.9H144.4V42.9ZM144.2 42.9V51.6H145.6V42.9ZM145.4 42.9V49.5H146.7V42.9ZM146.5 42.9V48.7H147.8V42.9ZM147.7 42.9V49.0H149.0V42.9ZM148.8 42.9V48.4H150.1V42.9ZM149.9 42.9V47.3H151.3V42.9ZM151.1 42.9V43.6H152.4V42.9ZM152.2 42.9V40.6H153.5V42.9ZM153.4 42.9V41.2H154.7V42.9ZM154.5 42.9V37.7H155.8V42.9ZM155.7 42.9V47.3H157.0V42.9ZM156.8 42.9V41.1H158.1V42.9ZM157.9 42.9V38.5H159.2V42.9ZM159.1 42.9V39.2H160.4V42.9ZM160.2 42.9V44.3H161.5V42.9ZM161.4 42.9V48.7H162.7V42.9ZM162.5 42.9V37.7H163.8V42.9ZM163.6 42.9V38.5H165.0V42.9ZM164.8 42.9V46.5H166.1V42.9ZM165.9 42.9V46.5H167.2V42.9ZM167.1 42.9V45.8H168.4V42.9ZM168.2 42.9V41.6H169.5V42.9ZM169.4 42.9V40.2H170.7V42.9ZM170.5 42.9V49.2H171.8V42.9ZM171.6 42.9V43.8H172.9V42.9ZM173.9 42.9V40.6H175.2V42.9ZM175.1 42.9V42.7H176.4V42.9Z" fill="#582163"/>
<path d="M30.1 42.9V38.9H31.4V42.9M31.2 42.9V46.2H32.5V42.9M32.4 42.9V35.5H33.7V42.9M33.5 42.9V31.5H34.8V42.9M34.7 42.9V43.2H36.0V42.9M35.8 42.9V43.7H37.1V42.9M36.9 42.9V42.6H38.2V42.9M38.1 42.9V41.2H39.4V42.9M39.2 42.9V42.4H40.5V42.9M40.4 42.9V45.8H41.7V42.9M41.5 42.9V46.5H42.8V42.9M42.6 42.9V47.0H44.0V42.9M43.8 42.9V46.5H45.1V42.9M44.9 42.9V43.0H46.2V42.9M46.1 42.9V45.2H47.4V42.9M47.2 42.9V37.0H48.5V42.9M48.3 42.9V38.5H49.7V42.9M49.5 42.9V42.8H50.8V42.9M50.6 42.9V43.2H51.9V42.9M51.8 42.9V39.5H53.1V42.9M52.9 42.9V39.9H54.2V42.9M54.1 42.9V44.1H55.4V42.9M55.2 42.9V42.9H56.5V42.9M56.3 42.9V45.4H57.7V42.9M57.5 42.9V43.8H58.8V42.9M58.6 42.9V39.9H59.9V42.9M59.8 42.9V40.2H61.1V42.9M60.9 42.9V44.5H62.2V42.9M62.0 42.9V40.1H63.4V42.9M63.2 42.9V47.0H64.5V42.9M64.3 42.9V43.7H65.6V42.9M65.5 42.9V44.6H66.8V42.9M66.6 42.9V42.1H67.9V42.9M67.8 42.9V41.2H69.1V42.9M68.9 42.9V40.5H70.2V42.9M70.0 42.9V42.1H71.4V42.9M71.2 42.9V43.0H72.5V42.9M72.3 42.9V42.8H73.6V42.9M73.5 42.9V39.8H74.8V42.9M74.6 42.9V36.6H75.9V42.9M75.7 42.9V39.5H77.1V42.9M76.9 42.9V39.9H78.2V42.9M78.0 42.9V43.8H79.3V42.9M79.2 42.9V37.7H80.5V42.9M80.3 42.9V38.2H81.6V42.9M81.5 42.9V38.5H82.8V42.9M82.6 42.9V47.5H83.9V42.9M83.7 42.9V41.4H85.0V42.9M84.9 42.9V42.2H86.2V42.9M86.0 42.9V36.3H87.3V42.9M87.2 42.9V38.5H88.5V42.9M88.3 42.9V47.3H89.6V42.9M89.4 42.9V49.5H90.8V42.9M90.6 42.9V47.3H91.9V42.9M91.7 42.9V39.1H93.0V42.9M92.9 42.9V43.7H94.2V42.9M94.0 42.9V44.8H95.3V42.9M95.2 42.9V37.0H96.5V42.9M96.3 42.9V36.3H97.6V42.9M97.4 42.9V32.2H98.7V42.9M98.6 42.9V37.0H99.9V42.9M99.7 42.9V37.0H101.0V42.9M100.9 42.9V44.8H102.2V42.9M102.0 42.9V38.8H103.3V42.9M103.1 42.9V43.8H104.5V42.9M104.3 42.9V42.4H105.6V42.9M105.4 42.9V34.1H106.7V42.9M106.6 42.9V31.7H107.9V42.9M107.7 42.9V43.9H109.0V42.9M108.9 42.9V73.6H110.2V42.9M110.0 42.9V87.5H111.3V42.9M111.1 42.9V42.1H112.4V42.9M112.3 42.9V43.1H113.6V42.9M113.4 42.9V35.3H114.7V42.9M114.6 42.9V38.5H115.9V42.9M115.7 42.9V41.9H117.0V42.9M116.8 42.9V45.6H118.2V42.9M118.0 42.9V38.5H119.3V42.9M119.1 42.9V44.1H120.4V42.9M120.3 42.9V44.4H121.6V42.9M121.4 42.9V42.0H122.7V42.9M122.5 42.9V41.4H123.9V42.9M123.7 42.9V37.0H125.0V42.9M124.8 42.9V33.5H126.1V42.9M126.0 42.9V36.1H127.3V42.9M127.1 42.9V41.1H128.4V42.9M128.3 42.9V43.7H129.6V42.9M129.4 42.9V38.2H130.7V42.9M130.5 42.9V46.1H131.9V42.9M131.7 42.9V42.3H133.0V42.9M132.8 42.9V42.0H134.1V42.9M134.0 42.9V43.8H135.3V42.9M135.1 42.9V41.6H136.4V42.9M136.2 42.9V44.8H137.6V42.9M137.4 42.9V41.9H138.7V42.9M138.5 42.9V44.9H139.8V42.9M139.7 42.9V45.8H141.0V42.9M140.8 42.9V46.5H142.1V42.9M142.0 42.9V47.3H143.3V42.9M143.1 42.9V50.9H144.4V42.9M144.2 42.9V51.6H145.6V42.9M145.4 42.9V49.5H146.7V42.9M146.5 42.9V48.7H147.8V42.9M147.7 42.9V49.0H149.0V42.9M148.8 42.9V48.4H150.1V42.9M149.9 42.9V47.3H151.3V42.9M151.1 42.9V43.6H152.4V42.9M152.2 42.9V40.6H153.5V42.9M153.4 42.9V41.2H154.7V42.9M154.5 42.9V37.7H155.8V42.9M155.7 42.9V47.3H157.0V42.9M156.8 42.9V41.1H158.1V42.9M157.9 42.9V38.5H159.2V42.9M159.1 42.9V39.2H160.4V42.9M160.2 42.9V44.3H161.5V42.9M161.4 42.9V48.7H162.7V42.9M162.5 42.9V37.7H163.8V42.9M163.6 42.9V38.5H165.0V42.9M164.8 42.9V46.5H166.1V42.9M165.9 42.9V46.5H167.2V42.9M167.1 42.9V45.8H168.4V42.9M168.2 42.9V41.6H169.5V42.9M169.4 42.9V40.2H170.7V42.9M170.5 42.9V49.2H171.8V42.9M171.6 42.9V43.8H172.9V42.9M173.9 42.9V40.6H175.2V42.9M175.1 42.9V42.7H176.4V42.9" fill="none" stroke="#000" stroke-opacity="0.55" stroke-width="0.4"/>
</g>
<line x1="29.6" x2="176.4" y1="42.87" y2="42.87" stroke="#111" stroke-width="0.35"/>
<rect x="29.6" y="13.6" width="146.80" height="87.80" fill="none" stroke="#666" stroke-width="0.45"/>
<path d="M29.60 101.39999999999999v-1.2M29.60 13.6v1.2" stroke="#555" stroke-width="0.4"/>
<text transform="translate(29.60 107.30) scale(1.32 1)" font-size="4.0" text-anchor="middle" font-weight="normal" fill="#383838">0</text>
<path d="M52.43 101.39999999999999v-1.2M52.43 13.6v1.2" stroke="#555" stroke-width="0.4"/>
<text transform="translate(52.43 107.30) scale(1.32 1)" font-size="4.0" text-anchor="middle" font-weight="normal" fill="#383838">20</text>
<path d="M75.26 101.39999999999999v-1.2M75.26 13.6v1.2" stroke="#555" stroke-width="0.4"/>
<text transform="translate(75.26 107.30) scale(1.32 1)" font-size="4.0" text-anchor="middle" font-weight="normal" fill="#383838">40</text>
<path d="M98.09 101.39999999999999v-1.2M98.09 13.6v1.2" stroke="#555" stroke-width="0.4"/>
<text transform="translate(98.09 107.30) scale(1.32 1)" font-size="4.0" text-anchor="middle" font-weight="normal" fill="#383838">60</text>
<path d="M120.92 101.39999999999999v-1.2M120.92 13.6v1.2" stroke="#555" stroke-width="0.4"/>
<text transform="translate(120.92 107.30) scale(1.32 1)" font-size="4.0" text-anchor="middle" font-weight="normal" fill="#383838">80</text>
<path d="M143.75 101.39999999999999v-1.2M143.75 13.6v1.2" stroke="#555" stroke-width="0.4"/>
<text transform="translate(143.75 107.30) scale(1.32 1)" font-size="4.0" text-anchor="middle" font-weight="normal" fill="#383838">100</text>
<path d="M166.58 101.39999999999999v-1.2M166.58 13.6v1.2" stroke="#555" stroke-width="0.4"/>
<text transform="translate(166.58 107.30) scale(1.32 1)" font-size="4.0" text-anchor="middle" font-weight="normal" fill="#383838">120</text>
<path d="M29.6 101.40h1.2M176.4 101.40h-1.2" stroke="#555" stroke-width="0.4"/>
<text transform="translate(28.60 102.75) scale(1.32 1)" font-size="4.0" text-anchor="end" font-weight="normal" fill="#383838">-4</text>
<path d="M29.6 86.77h1.2M176.4 86.77h-1.2" stroke="#555" stroke-width="0.4"/>
<text transform="translate(28.60 88.12) scale(1.32 1)" font-size="4.0" text-anchor="end" font-weight="normal" fill="#383838">-3</text>
<path d="M29.6 72.13h1.2M176.4 72.13h-1.2" stroke="#555" stroke-width="0.4"/>
<text transform="translate(28.60 73.48) scale(1.32 1)" font-size="4.0" text-anchor="end" font-weight="normal" fill="#383838">-2</text>
<path d="M29.6 57.50h1.2M176.4 57.50h-1.2" stroke="#555" stroke-width="0.4"/>
<text transform="translate(28.60 58.85) scale(1.32 1)" font-size="4.0" text-anchor="end" font-weight="normal" fill="#383838">-1</text>
<path d="M29.6 42.87h1.2M176.4 42.87h-1.2" stroke="#555" stroke-width="0.4"/>
<text transform="translate(28.60 44.22) scale(1.32 1)" font-size="4.0" text-anchor="end" font-weight="normal" fill="#383838">0</text>
<path d="M29.6 28.23h1.2M176.4 28.23h-1.2" stroke="#555" stroke-width="0.4"/>
<text transform="translate(28.60 29.58) scale(1.32 1)" font-size="4.0" text-anchor="end" font-weight="normal" fill="#383838">1</text>
<path d="M29.6 13.60h1.2M176.4 13.60h-1.2" stroke="#555" stroke-width="0.4"/>
<text transform="translate(28.60 14.95) scale(1.32 1)" font-size="4.0" text-anchor="end" font-weight="normal" fill="#383838">2</text>
<text transform="translate(105.00 112.00) scale(1.32 1)" font-size="4.35" text-anchor="middle" font-weight="normal" fill="#333">Feature number</text>
<text transform="translate(21.40 56.20) rotate(-90) scale(1 1.32)" font-size="4.35" text-anchor="middle" font-weight="normal" fill="#333">Feature value</text>
<text transform="translate(108.00 12.30) scale(1.32 1)" font-size="4.55" text-anchor="middle" font-weight="bold" fill="#000">Features after Layer 3</text>
<text transform="translate(7.40 110.45) scale(1.4 1)" font-size="7.0" text-anchor="start" font-weight="bold" fill="#000" font-family="'DejaVu Sans','Liberation Sans',sans-serif" letter-spacing="0.3">(a)</text>
<rect x="132.7" y="82.1" width="38.4" height="17.5" fill="#fff" stroke="#444" stroke-width="0.4"/>
<rect x="133.89999999999998" y="83.10" width="13.8" height="2.9" fill="#0072bd"/>
<text transform="translate(148.60 85.75) scale(1.32 1)" font-size="3.4" text-anchor="start" font-weight="normal" fill="#222">Best HVHA</text>
<rect x="133.89999999999998" y="87.30" width="13.8" height="2.9" fill="#d95319"/>
<text transform="translate(148.60 89.95) scale(1.32 1)" font-size="3.4" text-anchor="start" font-weight="normal" fill="#222">Best HVLA</text>
<rect x="133.89999999999998" y="91.50" width="13.8" height="2.9" fill="#edb120"/>
<text transform="translate(148.60 94.15) scale(1.32 1)" font-size="3.4" text-anchor="start" font-weight="normal" fill="#222">Best LVHA</text>
<rect x="133.89999999999998" y="95.70" width="13.8" height="2.9" fill="#7e2f8e"/>
<text transform="translate(148.60 98.35) scale(1.32 1)" font-size="3.4" text-anchor="start" font-weight="normal" fill="#222">Best LVLA</text>
<g>
<path d="M225.6 101.4V91.7H226.9V101.4ZM227.9 101.4V92.6H229.2V101.4ZM229.0 101.4V88.7H230.3V101.4ZM237.0 101.4V83.0H238.4V101.4ZM238.2 101.4V84.7H239.5V101.4ZM251.9 101.4V90.0H253.2V101.4ZM253.0 101.4V86.0H254.4V101.4ZM257.6 101.4V87.8H258.9V101.4ZM258.8 101.4V80.3H260.1V101.4ZM263.3 101.4V63.6H264.7V101.4ZM264.5 101.4V78.1H265.8V101.4ZM266.8 101.4V88.2H268.1V101.4ZM267.9 101.4V80.8H269.2V101.4ZM269.1 101.4V83.8H270.4V101.4ZM271.3 101.4V74.6H272.7V101.4ZM280.5 101.4V87.4H281.8V101.4ZM281.6 101.4V73.7H283.0V101.4ZM289.6 101.4V83.8H291.0V101.4ZM303.4 101.4V92.6H304.7V101.4ZM304.5 101.4V79.9H305.8V101.4ZM305.7 101.4V88.2H307.0V101.4ZM310.2 101.4V74.6H311.5V101.4ZM311.4 101.4V67.2H312.7V101.4ZM312.5 101.4V78.6H313.8V101.4ZM319.4 101.4V88.2H320.7V101.4ZM320.5 101.4V79.9H321.8V101.4ZM323.9 101.4V17.6H325.3V101.4ZM325.1 101.4V44.8H326.4V101.4ZM326.2 101.4V88.2H327.5V101.4ZM336.5 101.4V94.8H337.8V101.4ZM340.0 101.4V98.3H341.3V101.4Z" fill="#005084"/>
<path d="M225.6 101.4V91.7H226.9V101.4M227.9 101.4V92.6H229.2V101.4M229.0 101.4V88.7H230.3V101.4M237.0 101.4V83.0H238.4V101.4M238.2 101.4V84.7H239.5V101.4M251.9 101.4V90.0H253.2V101.4M253.0 101.4V86.0H254.4V101.4M257.6 101.4V87.8H258.9V101.4M258.8 101.4V80.3H260.1V101.4M263.3 101.4V63.6H264.7V101.4M264.5 101.4V78.1H265.8V101.4M266.8 101.4V88.2H268.1V101.4M267.9 101.4V80.8H269.2V101.4M269.1 101.4V83.8H270.4V101.4M271.3 101.4V74.6H272.7V101.4M280.5 101.4V87.4H281.8V101.4M281.6 101.4V73.7H283.0V101.4M289.6 101.4V83.8H291.0V101.4M303.4 101.4V92.6H304.7V101.4M304.5 101.4V79.9H305.8V101.4M305.7 101.4V88.2H307.0V101.4M310.2 101.4V74.6H311.5V101.4M311.4 101.4V67.2H312.7V101.4M312.5 101.4V78.6H313.8V101.4M319.4 101.4V88.2H320.7V101.4M320.5 101.4V79.9H321.8V101.4M323.9 101.4V17.6H325.3V101.4M325.1 101.4V44.8H326.4V101.4M326.2 101.4V88.2H327.5V101.4M336.5 101.4V94.8H337.8V101.4M340.0 101.4V98.3H341.3V101.4" fill="none" stroke="#000" stroke-opacity="0.55" stroke-width="0.4"/>
<path d="M226.7 101.4V96.6H228.1V101.4ZM232.5 101.4V77.7H233.8V101.4ZM233.6 101.4V75.1H234.9V101.4ZM239.3 101.4V74.6H240.6V101.4ZM240.5 101.4V73.3H241.8V101.4ZM241.6 101.4V86.5H242.9V101.4ZM272.5 101.4V79.4H273.8V101.4ZM273.6 101.4V69.8H274.9V101.4ZM274.8 101.4V75.1H276.1V101.4ZM275.9 101.4V79.4H277.2V101.4ZM279.3 101.4V93.1H280.7V101.4ZM293.1 101.4V75.1H294.4V101.4ZM299.9 101.4V88.2H301.2V101.4ZM301.1 101.4V85.2H302.4V101.4ZM307.9 101.4V77.3H309.3V101.4ZM309.1 101.4V85.2H310.4V101.4ZM343.4 101.4V97.9H344.7V101.4ZM344.5 101.4V80.8H345.8V101.4ZM345.7 101.4V73.7H347.0V101.4ZM346.8 101.4V83.4H348.1V101.4ZM350.2 101.4V88.2H351.6V101.4ZM351.4 101.4V73.3H352.7V101.4ZM360.5 101.4V99.2H361.9V101.4ZM361.7 101.4V98.8H363.0V101.4Z" fill="#983a12"/>
<path d="M226.7 101.4V96.6H228.1V101.4M232.5 101.4V77.7H233.8V101.4M233.6 101.4V75.1H234.9V101.4M239.3 101.4V74.6H240.6V101.4M240.5 101.4V73.3H241.8V101.4M241.6 101.4V86.5H242.9V101.4M272.5 101.4V79.4H273.8V101.4M273.6 101.4V69.8H274.9V101.4M274.8 101.4V75.1H276.1V101.4M275.9 101.4V79.4H277.2V101.4M279.3 101.4V93.1H280.7V101.4M293.1 101.4V75.1H294.4V101.4M299.9 101.4V88.2H301.2V101.4M301.1 101.4V85.2H302.4V101.4M307.9 101.4V77.3H309.3V101.4M309.1 101.4V85.2H310.4V101.4M343.4 101.4V97.9H344.7V101.4M344.5 101.4V80.8H345.8V101.4M345.7 101.4V73.7H347.0V101.4M346.8 101.4V83.4H348.1V101.4M350.2 101.4V88.2H351.6V101.4M351.4 101.4V73.3H352.7V101.4M360.5 101.4V99.2H361.9V101.4M361.7 101.4V98.8H363.0V101.4" fill="none" stroke="#000" stroke-opacity="0.55" stroke-width="0.4"/>
<path d="M231.3 101.4V86.5H232.6V101.4ZM245.0 101.4V86.0H246.4V101.4ZM246.2 101.4V69.8H247.5V101.4ZM247.3 101.4V90.0H248.6V101.4ZM255.3 101.4V80.3H256.7V101.4ZM261.1 101.4V50.5H262.4V101.4ZM282.8 101.4V65.4H284.1V101.4ZM283.9 101.4V83.8H285.2V101.4ZM290.8 101.4V86.5H292.1V101.4ZM291.9 101.4V88.2H293.2V101.4ZM317.1 101.4V87.4H318.4V101.4ZM318.2 101.4V69.8H319.5V101.4ZM321.7 101.4V93.5H323.0V101.4ZM322.8 101.4V96.1H324.1V101.4ZM326.2 101.4V68.9H327.5V101.4ZM327.4 101.4V78.1H328.7V101.4ZM328.5 101.4V89.1H329.8V101.4ZM333.1 101.4V97.9H334.4V101.4ZM335.4 101.4V97.9H336.7V101.4ZM348.0 101.4V78.1H349.3V101.4ZM349.1 101.4V77.3H350.4V101.4ZM354.8 101.4V99.6H356.1V101.4ZM356.0 101.4V97.0H357.3V101.4ZM357.1 101.4V81.6H358.4V101.4ZM358.3 101.4V99.2H359.6V101.4ZM362.8 101.4V97.0H364.1V101.4ZM364.0 101.4V93.5H365.3V101.4ZM365.1 101.4V96.1H366.0V101.4Z" fill="#a67c16"/>
<path d="M231.3 101.4V86.5H232.6V101.4M245.0 101.4V86.0H246.4V101.4M246.2 101.4V69.8H247.5V101.4M247.3 101.4V90.0H248.6V101.4M255.3 101.4V80.3H256.7V101.4M261.1 101.4V50.5H262.4V101.4M282.8 101.4V65.4H284.1V101.4M283.9 101.4V83.8H285.2V101.4M290.8 101.4V86.5H292.1V101.4M291.9 101.4V88.2H293.2V101.4M317.1 101.4V87.4H318.4V101.4M318.2 101.4V69.8H319.5V101.4M321.7 101.4V93.5H323.0V101.4M322.8 101.4V96.1H324.1V101.4M326.2 101.4V68.9H327.5V101.4M327.4 101.4V78.1H328.7V101.4M328.5 101.4V89.1H329.8V101.4M333.1 101.4V97.9H334.4V101.4M335.4 101.4V97.9H336.7V101.4M348.0 101.4V78.1H349.3V101.4M349.1 101.4V77.3H350.4V101.4M354.8 101.4V99.6H356.1V101.4M356.0 101.4V97.0H357.3V101.4M357.1 101.4V81.6H358.4V101.4M358.3 101.4V99.2H359.6V101.4M362.8 101.4V97.0H364.1V101.4M364.0 101.4V93.5H365.3V101.4M365.1 101.4V96.1H366.0V101.4" fill="none" stroke="#000" stroke-opacity="0.55" stroke-width="0.4"/>
<path d="M219.9 101.4V89.1H221.2V101.4ZM221.0 101.4V93.1H222.3V101.4ZM222.2 101.4V74.6H223.5V101.4ZM223.3 101.4V65.8H224.6V101.4ZM224.5 101.4V86.5H225.8V101.4ZM234.8 101.4V94.4H236.1V101.4ZM235.9 101.4V88.2H237.2V101.4ZM237.0 101.4V86.0H238.4V101.4ZM242.8 101.4V94.4H244.1V101.4ZM243.9 101.4V95.3H245.2V101.4ZM248.5 101.4V97.0H249.8V101.4ZM249.6 101.4V97.0H250.9V101.4ZM250.8 101.4V97.9H252.1V101.4ZM256.5 101.4V93.1H257.8V101.4ZM259.9 101.4V76.4H261.2V101.4ZM261.1 101.4V74.2H262.4V101.4ZM262.2 101.4V89.1H263.5V101.4ZM265.6 101.4V92.6H266.9V101.4ZM270.2 101.4V94.8H271.5V101.4ZM277.1 101.4V93.9H278.4V101.4ZM278.2 101.4V94.8H279.5V101.4ZM285.1 101.4V82.5H286.4V101.4ZM286.2 101.4V68.0H287.5V101.4ZM287.4 101.4V75.9H288.7V101.4ZM288.5 101.4V86.5H289.8V101.4ZM289.6 101.4V92.6H291.0V101.4ZM291.9 101.4V90.4H293.2V101.4ZM293.1 101.4V88.2H294.4V101.4ZM294.2 101.4V79.4H295.5V101.4ZM295.4 101.4V67.2H296.7V101.4ZM296.5 101.4V87.8H297.8V101.4ZM302.2 101.4V77.3H303.5V101.4ZM306.8 101.4V83.8H308.1V101.4ZM312.5 101.4V88.2H313.8V101.4ZM313.7 101.4V72.4H315.0V101.4ZM314.8 101.4V77.3H316.1V101.4ZM315.9 101.4V90.0H317.3V101.4ZM318.2 101.4V92.6H319.5V101.4ZM329.7 101.4V83.4H331.0V101.4ZM330.8 101.4V90.4H332.1V101.4ZM332.0 101.4V96.1H333.3V101.4ZM349.1 101.4V85.2H350.4V101.4ZM352.5 101.4V90.0H353.9V101.4ZM353.7 101.4V99.2H355.0V101.4Z" fill="#582163"/>
<path d="M219.9 101.4V89.1H221.2V101.4M221.0 101.4V93.1H222.3V101.4M222.2 101.4V74.6H223.5V101.4M223.3 101.4V65.8H224.6V101.4M224.5 101.4V86.5H225.8V101.4M234.8 101.4V94.4H236.1V101.4M235.9 101.4V88.2H237.2V101.4M237.0 101.4V86.0H238.4V101.4M242.8 101.4V94.4H244.1V101.4M243.9 101.4V95.3H245.2V101.4M248.5 101.4V97.0H249.8V101.4M249.6 101.4V97.0H250.9V101.4M250.8 101.4V97.9H252.1V101.4M256.5 101.4V93.1H257.8V101.4M259.9 101.4V76.4H261.2V101.4M261.1 101.4V74.2H262.4V101.4M262.2 101.4V89.1H263.5V101.4M265.6 101.4V92.6H266.9V101.4M270.2 101.4V94.8H271.5V101.4M277.1 101.4V93.9H278.4V101.4M278.2 101.4V94.8H279.5V101.4M285.1 101.4V82.5H286.4V101.4M286.2 101.4V68.0H287.5V101.4M287.4 101.4V75.9H288.7V101.4M288.5 101.4V86.5H289.8V101.4M289.6 101.4V92.6H291.0V101.4M291.9 101.4V90.4H293.2V101.4M293.1 101.4V88.2H294.4V101.4M294.2 101.4V79.4H295.5V101.4M295.4 101.4V67.2H296.7V101.4M296.5 101.4V87.8H297.8V101.4M302.2 101.4V77.3H303.5V101.4M306.8 101.4V83.8H308.1V101.4M312.5 101.4V88.2H313.8V101.4M313.7 101.4V72.4H315.0V101.4M314.8 101.4V77.3H316.1V101.4M315.9 101.4V90.0H317.3V101.4M318.2 101.4V92.6H319.5V101.4M329.7 101.4V83.4H331.0V101.4M330.8 101.4V90.4H332.1V101.4M332.0 101.4V96.1H333.3V101.4M349.1 101.4V85.2H350.4V101.4M352.5 101.4V90.0H353.9V101.4M353.7 101.4V99.2H355.0V101.4" fill="none" stroke="#000" stroke-opacity="0.55" stroke-width="0.4"/>
</g>
<rect x="219.4" y="13.6" width="146.60" height="87.80" fill="none" stroke="#666" stroke-width="0.45"/>
<path d="M219.40 101.39999999999999v-1.2M219.40 13.6v1.2" stroke="#555" stroke-width="0.4"/>
<text transform="translate(219.40 107.30) scale(1.32 1)" font-size="4.0" text-anchor="middle" font-weight="normal" fill="#383838">0</text>
<path d="M242.27 101.39999999999999v-1.2M242.27 13.6v1.2" stroke="#555" stroke-width="0.4"/>
<text transform="translate(242.27 107.30) scale(1.32 1)" font-size="4.0" text-anchor="middle" font-weight="normal" fill="#383838">20</text>
<path d="M265.14 101.39999999999999v-1.2M265.14 13.6v1.2" stroke="#555" stroke-width="0.4"/>
<text transform="translate(265.14 107.30) scale(1.32 1)" font-size="4.0" text-anchor="middle" font-weight="normal" fill="#383838">40</text>
<path d="M288.01 101.39999999999999v-1.2M288.01 13.6v1.2" stroke="#555" stroke-width="0.4"/>
<text transform="translate(288.01 107.30) scale(1.32 1)" font-size="4.0" text-anchor="middle" font-weight="normal" fill="#383838">60</text>
<path d="M310.88 101.39999999999999v-1.2M310.88 13.6v1.2" stroke="#555" stroke-width="0.4"/>
<text transform="translate(310.88 107.30) scale(1.32 1)" font-size="4.0" text-anchor="middle" font-weight="normal" fill="#383838">80</text>
<path d="M333.75 101.39999999999999v-1.2M333.75 13.6v1.2" stroke="#555" stroke-width="0.4"/>
<text transform="translate(333.75 107.30) scale(1.32 1)" font-size="4.0" text-anchor="middle" font-weight="normal" fill="#383838">100</text>
<path d="M356.62 101.39999999999999v-1.2M356.62 13.6v1.2" stroke="#555" stroke-width="0.4"/>
<text transform="translate(356.62 107.30) scale(1.32 1)" font-size="4.0" text-anchor="middle" font-weight="normal" fill="#383838">120</text>
<path d="M219.4 101.40h1.2M366.0 101.40h-1.2" stroke="#555" stroke-width="0.4"/>
<text transform="translate(218.40 102.75) scale(1.32 1)" font-size="4.0" text-anchor="end" font-weight="normal" fill="#383838">0</text>
<path d="M219.4 92.62h1.2M366.0 92.62h-1.2" stroke="#555" stroke-width="0.4"/>
<text transform="translate(218.40 93.97) scale(1.32 1)" font-size="4.0" text-anchor="end" font-weight="normal" fill="#383838">0.2</text>
<path d="M219.4 83.84h1.2M366.0 83.84h-1.2" stroke="#555" stroke-width="0.4"/>
<text transform="translate(218.40 85.19) scale(1.32 1)" font-size="4.0" text-anchor="end" font-weight="normal" fill="#383838">0.4</text>
<path d="M219.4 75.06h1.2M366.0 75.06h-1.2" stroke="#555" stroke-width="0.4"/>
<text transform="translate(218.40 76.41) scale(1.32 1)" font-size="4.0" text-anchor="end" font-weight="normal" fill="#383838">0.6</text>
<path d="M219.4 66.28h1.2M366.0 66.28h-1.2" stroke="#555" stroke-width="0.4"/>
<text transform="translate(218.40 67.63) scale(1.32 1)" font-size="4.0" text-anchor="end" font-weight="normal" fill="#383838">0.8</text>
<path d="M219.4 57.50h1.2M366.0 57.50h-1.2" stroke="#555" stroke-width="0.4"/>
<text transform="translate(218.40 58.85) scale(1.32 1)" font-size="4.0" text-anchor="end" font-weight="normal" fill="#383838">1</text>
<path d="M219.4 48.72h1.2M366.0 48.72h-1.2" stroke="#555" stroke-width="0.4"/>
<text transform="translate(218.40 50.07) scale(1.32 1)" font-size="4.0" text-anchor="end" font-weight="normal" fill="#383838">1.2</text>
<path d="M219.4 39.94h1.2M366.0 39.94h-1.2" stroke="#555" stroke-width="0.4"/>
<text transform="translate(218.40 41.29) scale(1.32 1)" font-size="4.0" text-anchor="end" font-weight="normal" fill="#383838">1.4</text>
<path d="M219.4 31.16h1.2M366.0 31.16h-1.2" stroke="#555" stroke-width="0.4"/>
<text transform="translate(218.40 32.51) scale(1.32 1)" font-size="4.0" text-anchor="end" font-weight="normal" fill="#383838">1.6</text>
<path d="M219.4 22.38h1.2M366.0 22.38h-1.2" stroke="#555" stroke-width="0.4"/>
<text transform="translate(218.40 23.73) scale(1.32 1)" font-size="4.0" text-anchor="end" font-weight="normal" fill="#383838">1.8</text>
<path d="M219.4 13.60h1.2M366.0 13.60h-1.2" stroke="#555" stroke-width="0.4"/>
<text transform="translate(218.40 14.95) scale(1.32 1)" font-size="4.0" text-anchor="end" font-weight="normal" fill="#383838">2</text>
<text transform="translate(294.70 112.00) scale(1.32 1)" font-size="4.35" text-anchor="middle" font-weight="normal" fill="#333">Feature number</text>
<text transform="translate(208.10 56.20) rotate(-90) scale(1 1.32)" font-size="4.35" text-anchor="middle" font-weight="normal" fill="#333">Feature value</text>
<text transform="translate(298.00 12.30) scale(1.32 1)" font-size="4.55" text-anchor="middle" font-weight="bold" fill="#000">Features after Layer 4</text>
<text transform="translate(198.00 110.45) scale(1.4 1)" font-size="7.0" text-anchor="start" font-weight="bold" fill="#000" font-family="'DejaVu Sans','Liberation Sans',sans-serif" letter-spacing="0.3">(b)</text>
<rect x="274.0" y="16.4" width="38.4" height="17.5" fill="#fff" stroke="#444" stroke-width="0.4"/>
<rect x="275.2" y="17.40" width="13.8" height="2.9" fill="#0072bd"/>
<text transform="translate(289.90 20.05) scale(1.32 1)" font-size="3.4" text-anchor="start" font-weight="normal" fill="#222">Best HVHA</text>
<rect x="275.2" y="21.60" width="13.8" height="2.9" fill="#d95319"/>
<text transform="translate(289.90 24.25) scale(1.32 1)" font-size="3.4" text-anchor="start" font-weight="normal" fill="#222">Best HVLA</text>
<rect x="275.2" y="25.80" width="13.8" height="2.9" fill="#edb120"/>
<text transform="translate(289.90 28.45) scale(1.32 1)" font-size="3.4" text-anchor="start" font-weight="normal" fill="#222">Best LVHA</text>
<rect x="275.2" y="30.00" width="13.8" height="2.9" fill="#7e2f8e"/>
<text transform="translate(289.90 32.65) scale(1.32 1)" font-size="3.4" text-anchor="start" font-weight="normal" fill="#222">Best LVLA</text>
<g>
<path d="M30.1 151.2V155.5H31.4V151.2ZM31.2 151.2V151.8H32.5V151.2ZM32.4 151.2V156.0H33.7V151.2ZM33.5 151.2V156.0H34.8V151.2ZM34.7 151.2V161.3H36.0V151.2ZM35.8 151.2V156.8H37.1V151.2ZM36.9 151.2V156.2H38.2V151.2ZM38.1 151.2V159.3H39.4V151.2ZM39.2 151.2V161.7H40.5V151.2ZM40.4 151.2V152.6H41.7V151.2ZM41.5 151.2V151.6H42.8V151.2ZM42.6 151.2V158.3H44.0V151.2ZM43.8 151.2V163.5H45.1V151.2ZM44.9 151.2V164.4H46.2V151.2ZM47.2 151.2V158.8H48.5V151.2ZM48.3 151.2V145.0H49.7V151.2ZM48.3 151.2V163.8H49.7V151.2ZM49.5 151.2V165.7H50.8V151.2ZM50.6 151.2V157.8H51.9V151.2ZM51.8 151.2V148.8H53.1V151.2ZM54.1 151.2V156.4H55.4V151.2ZM55.2 151.2V154.5H56.5V151.2ZM56.3 151.2V158.5H57.7V151.2ZM57.5 151.2V157.6H58.8V151.2ZM58.6 151.2V154.6H59.9V151.2ZM59.8 151.2V159.7H61.1V151.2ZM60.9 151.2V158.5H62.2V151.2ZM62.0 151.2V145.9H63.4V151.2ZM63.2 151.2V153.1H64.5V151.2ZM64.3 151.2V159.0H65.6V151.2ZM65.5 151.2V166.4H66.8V151.2ZM66.6 151.2V168.7H67.9V151.2ZM66.6 151.2V148.2H67.9V151.2ZM67.8 151.2V151.3H69.1V151.2ZM68.9 151.2V146.8H70.2V151.2ZM70.0 151.2V176.6H71.4V151.2ZM71.2 151.2V156.9H72.5V151.2ZM72.3 151.2V140.9H73.6V151.2ZM73.5 151.2V157.5H74.8V151.2ZM74.6 151.2V159.7H75.9V151.2ZM75.7 151.2V174.6H77.1V151.2ZM76.9 151.2V169.6H78.2V151.2ZM78.0 151.2V154.5H79.3V151.2ZM79.2 151.2V164.3H80.5V151.2ZM80.3 151.2V155.0H81.6V151.2ZM81.5 151.2V152.3H82.8V151.2ZM83.7 151.2V164.1H85.0V151.2ZM84.9 151.2V156.1H86.2V151.2ZM86.0 151.2V160.1H87.3V151.2ZM87.2 151.2V158.7H88.5V151.2ZM88.3 151.2V157.0H89.6V151.2ZM89.4 151.2V174.6H90.8V151.2ZM90.6 151.2V174.0H91.9V151.2ZM91.7 151.2V143.0H93.0V151.2ZM92.9 151.2V158.3H94.2V151.2ZM94.0 151.2V157.5H95.3V151.2ZM95.2 151.2V157.5H96.5V151.2ZM96.3 151.2V155.6H97.6V151.2ZM97.4 151.2V161.8H98.7V151.2ZM98.6 151.2V160.0H99.9V151.2ZM99.7 151.2V156.1H101.0V151.2ZM100.9 151.2V143.0H102.2V151.2ZM102.0 151.2V153.4H103.3V151.2ZM103.1 151.2V159.2H104.5V151.2ZM104.3 151.2V152.4H105.6V151.2ZM105.4 151.2V153.6H106.7V151.2ZM106.6 151.2V151.9H107.9V151.2ZM107.7 151.2V159.4H109.0V151.2ZM108.9 151.2V155.7H110.2V151.2ZM110.0 151.2V162.0H111.3V151.2ZM111.1 151.2V154.0H112.4V151.2ZM113.4 151.2V151.3H114.7V151.2ZM114.6 151.2V149.7H115.9V151.2ZM115.7 151.2V161.1H117.0V151.2ZM116.8 151.2V155.7H118.2V151.2ZM118.0 151.2V169.6H119.3V151.2ZM119.1 151.2V171.1H120.4V151.2ZM120.3 151.2V174.6H121.6V151.2ZM121.4 151.2V171.7H122.7V151.2ZM122.5 151.2V146.8H123.9V151.2ZM123.7 151.2V162.9H125.0V151.2ZM124.8 151.2V153.3H126.1V151.2ZM126.0 151.2V158.6H127.3V151.2ZM127.1 151.2V162.9H128.4V151.2ZM128.3 151.2V155.9H129.6V151.2ZM129.4 151.2V162.3H130.7V151.2ZM130.5 151.2V139.8H131.9V151.2ZM131.7 151.2V174.0H133.0V151.2ZM132.8 151.2V188.6H134.1V151.2ZM135.1 151.2V133.0H136.4V151.2ZM136.2 151.2V144.4H137.6V151.2ZM136.2 151.2V170.8H137.6V151.2ZM137.4 151.2V168.7H138.7V151.2ZM138.5 151.2V145.9H139.8V151.2ZM139.7 151.2V161.3H141.0V151.2ZM140.8 151.2V154.3H142.1V151.2ZM142.0 151.2V153.3H143.3V151.2ZM143.1 151.2V166.2H144.4V151.2ZM144.2 151.2V160.5H145.6V151.2ZM145.4 151.2V158.3H146.7V151.2ZM149.9 151.2V149.4H151.3V151.2ZM151.1 151.2V147.4H152.4V151.2ZM151.1 151.2V156.4H152.4V151.2ZM153.4 151.2V156.8H154.7V151.2ZM154.5 151.2V163.8H155.8V151.2ZM154.5 151.2V147.7H155.8V151.2ZM155.7 151.2V154.9H157.0V151.2ZM157.9 151.2V145.3H159.2V151.2ZM159.1 151.2V156.3H160.4V151.2ZM160.2 151.2V158.2H161.5V151.2ZM161.4 151.2V160.4H162.7V151.2ZM162.5 151.2V153.8H163.8V151.2ZM164.8 151.2V156.8H166.1V151.2ZM165.9 151.2V153.1H167.2V151.2ZM167.1 151.2V156.2H168.4V151.2ZM168.2 151.2V162.9H169.5V151.2ZM169.4 151.2V157.9H170.7V151.2ZM170.5 151.2V157.7H171.8V151.2ZM171.6 151.2V164.9H172.9V151.2ZM172.8 151.2V165.8H174.1V151.2ZM173.9 151.2V153.1H175.2V151.2ZM175.1 151.2V143.8H176.4V151.2Z" fill="#005084"/>
<path d="M30.1 151.2V155.5H31.4V151.2M31.2 151.2V151.8H32.5V151.2M32.4 151.2V156.0H33.7V151.2M33.5 151.2V156.0H34.8V151.2M34.7 151.2V161.3H36.0V151.2M35.8 151.2V156.8H37.1V151.2M36.9 151.2V156.2H38.2V151.2M38.1 151.2V159.3H39.4V151.2M39.2 151.2V161.7H40.5V151.2M40.4 151.2V152.6H41.7V151.2M41.5 151.2V151.6H42.8V151.2M42.6 151.2V158.3H44.0V151.2M43.8 151.2V163.5H45.1V151.2M44.9 151.2V164.4H46.2V151.2M47.2 151.2V158.8H48.5V151.2M48.3 151.2V145.0H49.7V151.2M48.3 151.2V163.8H49.7V151.2M49.5 151.2V165.7H50.8V151.2M50.6 151.2V157.8H51.9V151.2M51.8 151.2V148.8H53.1V151.2M54.1 151.2V156.4H55.4V151.2M55.2 151.2V154.5H56.5V151.2M56.3 151.2V158.5H57.7V151.2M57.5 151.2V157.6H58.8V151.2M58.6 151.2V154.6H59.9V151.2M59.8 151.2V159.7H61.1V151.2M60.9 151.2V158.5H62.2V151.2M62.0 151.2V145.9H63.4V151.2M63.2 151.2V153.1H64.5V151.2M64.3 151.2V159.0H65.6V151.2M65.5 151.2V166.4H66.8V151.2M66.6 151.2V168.7H67.9V151.2M66.6 151.2V148.2H67.9V151.2M67.8 151.2V151.3H69.1V151.2M68.9 151.2V146.8H70.2V151.2M70.0 151.2V176.6H71.4V151.2M71.2 151.2V156.9H72.5V151.2M72.3 151.2V140.9H73.6V151.2M73.5 151.2V157.5H74.8V151.2M74.6 151.2V159.7H75.9V151.2M75.7 151.2V174.6H77.1V151.2M76.9 151.2V169.6H78.2V151.2M78.0 151.2V154.5H79.3V151.2M79.2 151.2V164.3H80.5V151.2M80.3 151.2V155.0H81.6V151.2M81.5 151.2V152.3H82.8V151.2M83.7 151.2V164.1H85.0V151.2M84.9 151.2V156.1H86.2V151.2M86.0 151.2V160.1H87.3V151.2M87.2 151.2V158.7H88.5V151.2M88.3 151.2V157.0H89.6V151.2M89.4 151.2V174.6H90.8V151.2M90.6 151.2V174.0H91.9V151.2M91.7 151.2V143.0H93.0V151.2M92.9 151.2V158.3H94.2V151.2M94.0 151.2V157.5H95.3V151.2M95.2 151.2V157.5H96.5V151.2M96.3 151.2V155.6H97.6V151.2M97.4 151.2V161.8H98.7V151.2M98.6 151.2V160.0H99.9V151.2M99.7 151.2V156.1H101.0V151.2M100.9 151.2V143.0H102.2V151.2M102.0 151.2V153.4H103.3V151.2M103.1 151.2V159.2H104.5V151.2M104.3 151.2V152.4H105.6V151.2M105.4 151.2V153.6H106.7V151.2M106.6 151.2V151.9H107.9V151.2M107.7 151.2V159.4H109.0V151.2M108.9 151.2V155.7H110.2V151.2M110.0 151.2V162.0H111.3V151.2M111.1 151.2V154.0H112.4V151.2M113.4 151.2V151.3H114.7V151.2M114.6 151.2V149.7H115.9V151.2M115.7 151.2V161.1H117.0V151.2M116.8 151.2V155.7H118.2V151.2M118.0 151.2V169.6H119.3V151.2M119.1 151.2V171.1H120.4V151.2M120.3 151.2V174.6H121.6V151.2M121.4 151.2V171.7H122.7V151.2M122.5 151.2V146.8H123.9V151.2M123.7 151.2V162.9H125.0V151.2M124.8 151.2V153.3H126.1V151.2M126.0 151.2V158.6H127.3V151.2M127.1 151.2V162.9H128.4V151.2M128.3 151.2V155.9H129.6V151.2M129.4 151.2V162.3H130.7V151.2M130.5 151.2V139.8H131.9V151.2M131.7 151.2V174.0H133.0V151.2M132.8 151.2V188.6H134.1V151.2M135.1 151.2V133.0H136.4V151.2M136.2 151.2V144.4H137.6V151.2M136.2 151.2V170.8H137.6V151.2M137.4 151.2V168.7H138.7V151.2M138.5 151.2V145.9H139.8V151.2M139.7 151.2V161.3H141.0V151.2M140.8 151.2V154.3H142.1V151.2M142.0 151.2V153.3H143.3V151.2M143.1 151.2V166.2H144.4V151.2M144.2 151.2V160.5H145.6V151.2M145.4 151.2V158.3H146.7V151.2M149.9 151.2V149.4H151.3V151.2M151.1 151.2V147.4H152.4V151.2M151.1 151.2V156.4H152.4V151.2M153.4 151.2V156.8H154.7V151.2M154.5 151.2V163.8H155.8V151.2M154.5 151.2V147.7H155.8V151.2M155.7 151.2V154.9H157.0V151.2M157.9 151.2V145.3H159.2V151.2M159.1 151.2V156.3H160.4V151.2M160.2 151.2V158.2H161.5V151.2M161.4 151.2V160.4H162.7V151.2M162.5 151.2V153.8H163.8V151.2M164.8 151.2V156.8H166.1V151.2M165.9 151.2V153.1H167.2V151.2M167.1 151.2V156.2H168.4V151.2M168.2 151.2V162.9H169.5V151.2M169.4 151.2V157.9H170.7V151.2M170.5 151.2V157.7H171.8V151.2M171.6 151.2V164.9H172.9V151.2M172.8 151.2V165.8H174.1V151.2M173.9 151.2V153.1H175.2V151.2M175.1 151.2V143.8H176.4V151.2" fill="none" stroke="#000" stroke-opacity="0.55" stroke-width="0.4"/>
<path d="M31.2 151.2V155.2H32.5V151.2ZM32.4 151.2V152.9H33.7V151.2ZM33.5 151.2V159.9H34.8V151.2ZM34.7 151.2V162.0H36.0V151.2ZM36.9 151.2V154.9H38.2V151.2ZM39.2 151.2V151.3H40.5V151.2ZM40.4 151.2V167.0H41.7V151.2ZM40.4 151.2V147.1H41.7V151.2ZM41.5 151.2V156.8H42.8V151.2ZM42.6 151.2V158.7H44.0V151.2ZM43.8 151.2V145.6H45.1V151.2ZM46.1 151.2V174.0H47.4V151.2ZM47.2 151.2V174.6H48.5V151.2ZM48.3 151.2V154.4H49.7V151.2ZM49.5 151.2V154.5H50.8V151.2ZM52.9 151.2V163.7H54.2V151.2ZM55.2 151.2V151.9H56.5V151.2ZM56.3 151.2V153.5H57.7V151.2ZM57.5 151.2V158.3H58.8V151.2ZM58.6 151.2V160.2H59.9V151.2ZM59.8 151.2V157.6H61.1V151.2ZM60.9 151.2V159.4H62.2V151.2ZM62.0 151.2V156.0H63.4V151.2ZM63.2 151.2V159.9H64.5V151.2ZM64.3 151.2V159.1H65.6V151.2ZM65.5 151.2V155.9H66.8V151.2ZM66.6 151.2V165.3H67.9V151.2ZM67.8 151.2V157.5H69.1V151.2ZM68.9 151.2V151.8H70.2V151.2ZM71.2 151.2V153.1H72.5V151.2ZM72.3 151.2V161.7H73.6V151.2ZM73.5 151.2V152.5H74.8V151.2ZM74.6 151.2V154.0H75.9V151.2ZM75.7 151.2V158.8H77.1V151.2ZM76.9 151.2V149.1H78.2V151.2ZM78.0 151.2V149.4H79.3V151.2ZM79.2 151.2V157.1H80.5V151.2ZM80.3 151.2V167.3H81.6V151.2ZM81.5 151.2V167.8H82.8V151.2ZM82.6 151.2V155.6H83.9V151.2ZM84.9 151.2V163.6H86.2V151.2ZM86.0 151.2V157.4H87.3V151.2ZM87.2 151.2V167.3H88.5V151.2ZM88.3 151.2V169.6H89.6V151.2ZM89.4 151.2V159.0H90.8V151.2ZM90.6 151.2V157.7H91.9V151.2ZM92.9 151.2V141.8H94.2V151.2ZM94.0 151.2V153.7H95.3V151.2ZM95.2 151.2V153.5H96.5V151.2ZM96.3 151.2V156.3H97.6V151.2ZM97.4 151.2V156.3H98.7V151.2ZM98.6 151.2V153.7H99.9V151.2ZM99.7 151.2V154.4H101.0V151.2ZM100.9 151.2V157.1H102.2V151.2ZM102.0 151.2V157.4H103.3V151.2ZM103.1 151.2V157.9H104.5V151.2ZM104.3 151.2V135.1H105.6V151.2ZM105.4 151.2V154.6H106.7V151.2ZM106.6 151.2V182.8H107.9V151.2ZM107.7 151.2V191.8H109.0V151.2ZM108.9 151.2V180.4H110.2V151.2ZM110.0 151.2V140.3H111.3V151.2ZM112.3 151.2V155.6H113.6V151.2ZM113.4 151.2V155.6H114.7V151.2ZM114.6 151.2V161.7H115.9V151.2ZM115.7 151.2V156.2H117.0V151.2ZM116.8 151.2V157.1H118.2V151.2ZM118.0 151.2V155.5H119.3V151.2ZM119.1 151.2V140.9H120.4V151.2ZM120.3 151.2V162.3H121.6V151.2ZM121.4 151.2V160.7H122.7V151.2ZM122.5 151.2V167.8H123.9V151.2ZM123.7 151.2V158.9H125.0V151.2ZM124.8 151.2V161.0H126.1V151.2ZM126.0 151.2V145.3H127.3V151.2ZM127.1 151.2V166.9H128.4V151.2ZM128.3 151.2V158.3H129.6V151.2ZM129.4 151.2V160.5H130.7V151.2ZM130.5 151.2V157.2H131.9V151.2ZM131.7 151.2V160.3H133.0V151.2ZM132.8 151.2V152.9H134.1V151.2ZM134.0 151.2V155.2H135.3V151.2ZM136.2 151.2V156.2H137.6V151.2ZM137.4 151.2V155.3H138.7V151.2ZM138.5 151.2V155.5H139.8V151.2ZM139.7 151.2V155.1H141.0V151.2ZM140.8 151.2V160.2H142.1V151.2ZM142.0 151.2V159.1H143.3V151.2ZM143.1 151.2V155.5H144.4V151.2ZM144.2 151.2V166.4H145.6V151.2ZM145.4 151.2V161.7H146.7V151.2ZM146.5 151.2V161.4H147.8V151.2ZM147.7 151.2V161.7H149.0V151.2ZM148.8 151.2V151.6H150.1V151.2ZM149.9 151.2V156.1H151.3V151.2ZM151.1 151.2V154.0H152.4V151.2ZM152.2 151.2V159.8H153.5V151.2ZM153.4 151.2V164.3H154.7V151.2ZM155.7 151.2V162.7H157.0V151.2ZM156.8 151.2V140.9H158.1V151.2ZM157.9 151.2V157.3H159.2V151.2ZM159.1 151.2V173.7H160.4V151.2ZM160.2 151.2V168.7H161.5V151.2ZM161.4 151.2V151.2H162.7V151.2ZM162.5 151.2V145.6H163.8V151.2ZM163.6 151.2V161.4H165.0V151.2ZM164.8 151.2V164.9H166.1V151.2ZM165.9 151.2V162.3H167.2V151.2ZM167.1 151.2V151.8H168.4V151.2ZM168.2 151.2V155.7H169.5V151.2ZM169.4 151.2V152.2H170.7V151.2ZM170.5 151.2V154.7H171.8V151.2ZM171.6 151.2V154.7H172.9V151.2ZM172.8 151.2V154.3H174.1V151.2ZM173.9 151.2V162.1H175.2V151.2ZM175.1 151.2V154.1H176.4V151.2Z" fill="#983a12"/>
<path d="M31.2 151.2V155.2H32.5V151.2M32.4 151.2V152.9H33.7V151.2M33.5 151.2V159.9H34.8V151.2M34.7 151.2V162.0H36.0V151.2M36.9 151.2V154.9H38.2V151.2M39.2 151.2V151.3H40.5V151.2M40.4 151.2V167.0H41.7V151.2M40.4 151.2V147.1H41.7V151.2M41.5 151.2V156.8H42.8V151.2M42.6 151.2V158.7H44.0V151.2M43.8 151.2V145.6H45.1V151.2M46.1 151.2V174.0H47.4V151.2M47.2 151.2V174.6H48.5V151.2M48.3 151.2V154.4H49.7V151.2M49.5 151.2V154.5H50.8V151.2M52.9 151.2V163.7H54.2V151.2M55.2 151.2V151.9H56.5V151.2M56.3 151.2V153.5H57.7V151.2M57.5 151.2V158.3H58.8V151.2M58.6 151.2V160.2H59.9V151.2M59.8 151.2V157.6H61.1V151.2M60.9 151.2V159.4H62.2V151.2M62.0 151.2V156.0H63.4V151.2M63.2 151.2V159.9H64.5V151.2M64.3 151.2V159.1H65.6V151.2M65.5 151.2V155.9H66.8V151.2M66.6 151.2V165.3H67.9V151.2M67.8 151.2V157.5H69.1V151.2M68.9 151.2V151.8H70.2V151.2M71.2 151.2V153.1H72.5V151.2M72.3 151.2V161.7H73.6V151.2M73.5 151.2V152.5H74.8V151.2M74.6 151.2V154.0H75.9V151.2M75.7 151.2V158.8H77.1V151.2M76.9 151.2V149.1H78.2V151.2M78.0 151.2V149.4H79.3V151.2M79.2 151.2V157.1H80.5V151.2M80.3 151.2V167.3H81.6V151.2M81.5 151.2V167.8H82.8V151.2M82.6 151.2V155.6H83.9V151.2M84.9 151.2V163.6H86.2V151.2M86.0 151.2V157.4H87.3V151.2M87.2 151.2V167.3H88.5V151.2M88.3 151.2V169.6H89.6V151.2M89.4 151.2V159.0H90.8V151.2M90.6 151.2V157.7H91.9V151.2M92.9 151.2V141.8H94.2V151.2M94.0 151.2V153.7H95.3V151.2M95.2 151.2V153.5H96.5V151.2M96.3 151.2V156.3H97.6V151.2M97.4 151.2V156.3H98.7V151.2M98.6 151.2V153.7H99.9V151.2M99.7 151.2V154.4H101.0V151.2M100.9 151.2V157.1H102.2V151.2M102.0 151.2V157.4H103.3V151.2M103.1 151.2V157.9H104.5V151.2M104.3 151.2V135.1H105.6V151.2M105.4 151.2V154.6H106.7V151.2M106.6 151.2V182.8H107.9V151.2M107.7 151.2V191.8H109.0V151.2M108.9 151.2V180.4H110.2V151.2M110.0 151.2V140.3H111.3V151.2M112.3 151.2V155.6H113.6V151.2M113.4 151.2V155.6H114.7V151.2M114.6 151.2V161.7H115.9V151.2M115.7 151.2V156.2H117.0V151.2M116.8 151.2V157.1H118.2V151.2M118.0 151.2V155.5H119.3V151.2M119.1 151.2V140.9H120.4V151.2M120.3 151.2V162.3H121.6V151.2M121.4 151.2V160.7H122.7V151.2M122.5 151.2V167.8H123.9V151.2M123.7 151.2V158.9H125.0V151.2M124.8 151.2V161.0H126.1V151.2M126.0 151.2V145.3H127.3V151.2M127.1 151.2V166.9H128.4V151.2M128.3 151.2V158.3H129.6V151.2M129.4 151.2V160.5H130.7V151.2M130.5 151.2V157.2H131.9V151.2M131.7 151.2V160.3H133.0V151.2M132.8 151.2V152.9H134.1V151.2M134.0 151.2V155.2H135.3V151.2M136.2 151.2V156.2H137.6V151.2M137.4 151.2V155.3H138.7V151.2M138.5 151.2V155.5H139.8V151.2M139.7 151.2V155.1H141.0V151.2M140.8 151.2V160.2H142.1V151.2M142.0 151.2V159.1H143.3V151.2M143.1 151.2V155.5H144.4V151.2M144.2 151.2V166.4H145.6V151.2M145.4 151.2V161.7H146.7V151.2M146.5 151.2V161.4H147.8V151.2M147.7 151.2V161.7H149.0V151.2M148.8 151.2V151.6H150.1V151.2M149.9 151.2V156.1H151.3V151.2M151.1 151.2V154.0H152.4V151.2M152.2 151.2V159.8H153.5V151.2M153.4 151.2V164.3H154.7V151.2M155.7 151.2V162.7H157.0V151.2M156.8 151.2V140.9H158.1V151.2M157.9 151.2V157.3H159.2V151.2M159.1 151.2V173.7H160.4V151.2M160.2 151.2V168.7H161.5V151.2M161.4 151.2V151.2H162.7V151.2M162.5 151.2V145.6H163.8V151.2M163.6 151.2V161.4H165.0V151.2M164.8 151.2V164.9H166.1V151.2M165.9 151.2V162.3H167.2V151.2M167.1 151.2V151.8H168.4V151.2M168.2 151.2V155.7H169.5V151.2M169.4 151.2V152.2H170.7V151.2M170.5 151.2V154.7H171.8V151.2M171.6 151.2V154.7H172.9V151.2M172.8 151.2V154.3H174.1V151.2M173.9 151.2V162.1H175.2V151.2M175.1 151.2V154.1H176.4V151.2" fill="none" stroke="#000" stroke-opacity="0.55" stroke-width="0.4"/>
<path d="M30.1 151.2V159.7H31.4V151.2ZM31.2 151.2V155.6H32.5V151.2ZM32.4 151.2V151.2H33.7V151.2ZM33.5 151.2V155.0H34.8V151.2ZM34.7 151.2V162.5H36.0V151.2ZM35.8 151.2V153.1H37.1V151.2ZM36.9 151.2V152.8H38.2V151.2ZM38.1 151.2V164.6H39.4V151.2ZM39.2 151.2V166.7H40.5V151.2ZM40.4 151.2V154.6H41.7V151.2ZM41.5 151.2V138.6H42.8V151.2ZM42.6 151.2V140.9H44.0V151.2ZM43.8 151.2V165.8H45.1V151.2ZM44.9 151.2V156.2H46.2V151.2ZM46.1 151.2V151.5H47.4V151.2ZM49.5 151.2V159.9H50.8V151.2ZM50.6 151.2V155.0H51.9V151.2ZM51.8 151.2V154.0H53.1V151.2ZM52.9 151.2V169.9H54.2V151.2ZM54.1 151.2V159.9H55.4V151.2ZM55.2 151.2V148.2H56.5V151.2ZM56.3 151.2V138.0H57.7V151.2ZM57.5 151.2V160.7H58.8V151.2ZM58.6 151.2V165.8H59.9V151.2ZM59.8 151.2V161.8H61.1V151.2ZM62.0 151.2V160.5H63.4V151.2ZM63.2 151.2V148.8H64.5V151.2ZM64.3 151.2V157.5H65.6V151.2ZM65.5 151.2V138.9H66.8V151.2ZM66.6 151.2V155.9H67.9V151.2ZM67.8 151.2V203.8H69.1V151.2ZM68.9 151.2V177.5H70.2V151.2ZM70.0 151.2V155.0H71.4V151.2ZM71.2 151.2V123.4H72.5V151.2ZM72.3 151.2V153.3H73.6V151.2ZM73.5 151.2V165.8H74.8V151.2ZM74.6 151.2V152.6H75.9V151.2ZM75.7 151.2V155.5H77.1V151.2ZM78.0 151.2V153.8H79.3V151.2ZM79.2 151.2V154.1H80.5V151.2ZM80.3 151.2V158.3H81.6V151.2ZM82.6 151.2V167.3H83.9V151.2ZM83.7 151.2V158.7H85.0V151.2ZM84.9 151.2V164.3H86.2V151.2ZM86.0 151.2V165.8H87.3V151.2ZM87.2 151.2V155.4H88.5V151.2ZM88.3 151.2V164.6H89.6V151.2ZM91.7 151.2V158.7H93.0V151.2ZM92.9 151.2V159.4H94.2V151.2ZM94.0 151.2V163.2H95.3V151.2ZM95.2 151.2V164.8H96.5V151.2ZM96.3 151.2V169.6H97.6V151.2ZM97.4 151.2V168.7H98.7V151.2ZM98.6 151.2V155.8H99.9V151.2ZM99.7 151.2V154.3H101.0V151.2ZM100.9 151.2V151.7H102.2V151.2ZM102.0 151.2V152.3H103.3V151.2ZM103.1 151.2V154.5H104.5V151.2ZM104.3 151.2V158.1H105.6V151.2ZM105.4 151.2V159.8H106.7V151.2ZM107.7 151.2V162.2H109.0V151.2ZM108.9 151.2V160.1H110.2V151.2ZM110.0 151.2V152.0H111.3V151.2ZM111.1 151.2V162.4H112.4V151.2ZM112.3 151.2V156.2H113.6V151.2ZM113.4 151.2V161.4H114.7V151.2ZM114.6 151.2V156.4H115.9V151.2ZM115.7 151.2V164.3H117.0V151.2ZM116.8 151.2V164.6H118.2V151.2ZM118.0 151.2V155.0H119.3V151.2ZM119.1 151.2V159.5H120.4V151.2ZM120.3 151.2V147.7H121.6V151.2ZM121.4 151.2V156.3H122.7V151.2ZM122.5 151.2V156.4H123.9V151.2ZM123.7 151.2V155.7H125.0V151.2ZM124.8 151.2V160.4H126.1V151.2ZM126.0 151.2V158.4H127.3V151.2ZM127.1 151.2V155.9H128.4V151.2ZM128.3 151.2V145.9H129.6V151.2ZM129.4 151.2V136.5H130.7V151.2ZM130.5 151.2V164.3H131.9V151.2ZM131.7 151.2V165.8H133.0V151.2ZM132.8 151.2V154.1H134.1V151.2ZM134.0 151.2V165.8H135.3V151.2ZM135.1 151.2V164.6H136.4V151.2ZM136.2 151.2V153.0H137.6V151.2ZM137.4 151.2V139.8H138.7V151.2ZM138.5 151.2V158.1H139.8V151.2ZM139.7 151.2V165.8H141.0V151.2ZM140.8 151.2V164.6H142.1V151.2ZM142.0 151.2V163.8H143.3V151.2ZM143.1 151.2V152.9H144.4V151.2ZM144.2 151.2V165.8H145.6V151.2ZM145.4 151.2V153.2H146.7V151.2ZM146.5 151.2V156.1H147.8V151.2ZM147.7 151.2V152.8H149.0V151.2ZM148.8 151.2V156.8H150.1V151.2ZM149.9 151.2V156.3H151.3V151.2ZM151.1 151.2V154.5H152.4V151.2ZM152.2 151.2V154.1H153.5V151.2ZM155.7 151.2V157.6H157.0V151.2ZM156.8 151.2V158.9H158.1V151.2ZM157.9 151.2V157.8H159.2V151.2ZM159.1 151.2V139.8H160.4V151.2ZM160.2 151.2V159.4H161.5V151.2ZM161.4 151.2V163.8H162.7V151.2ZM162.5 151.2V162.9H163.8V151.2ZM163.6 151.2V157.9H165.0V151.2ZM165.9 151.2V157.6H167.2V151.2ZM167.1 151.2V137.7H168.4V151.2ZM169.4 151.2V162.7H170.7V151.2ZM170.5 151.2V157.5H171.8V151.2ZM171.6 151.2V154.7H172.9V151.2ZM172.8 151.2V151.9H174.1V151.2ZM173.9 151.2V145.0H175.2V151.2Z" fill="#a67c16"/>
<path d="M30.1 151.2V159.7H31.4V151.2M31.2 151.2V155.6H32.5V151.2M32.4 151.2V151.2H33.7V151.2M33.5 151.2V155.0H34.8V151.2M34.7 151.2V162.5H36.0V151.2M35.8 151.2V153.1H37.1V151.2M36.9 151.2V152.8H38.2V151.2M38.1 151.2V164.6H39.4V151.2M39.2 151.2V166.7H40.5V151.2M40.4 151.2V154.6H41.7V151.2M41.5 151.2V138.6H42.8V151.2M42.6 151.2V140.9H44.0V151.2M43.8 151.2V165.8H45.1V151.2M44.9 151.2V156.2H46.2V151.2M46.1 151.2V151.5H47.4V151.2M49.5 151.2V159.9H50.8V151.2M50.6 151.2V155.0H51.9V151.2M51.8 151.2V154.0H53.1V151.2M52.9 151.2V169.9H54.2V151.2M54.1 151.2V159.9H55.4V151.2M55.2 151.2V148.2H56.5V151.2M56.3 151.2V138.0H57.7V151.2M57.5 151.2V160.7H58.8V151.2M58.6 151.2V165.8H59.9V151.2M59.8 151.2V161.8H61.1V151.2M62.0 151.2V160.5H63.4V151.2M63.2 151.2V148.8H64.5V151.2M64.3 151.2V157.5H65.6V151.2M65.5 151.2V138.9H66.8V151.2M66.6 151.2V155.9H67.9V151.2M67.8 151.2V203.8H69.1V151.2M68.9 151.2V177.5H70.2V151.2M70.0 151.2V155.0H71.4V151.2M71.2 151.2V123.4H72.5V151.2M72.3 151.2V153.3H73.6V151.2M73.5 151.2V165.8H74.8V151.2M74.6 151.2V152.6H75.9V151.2M75.7 151.2V155.5H77.1V151.2M78.0 151.2V153.8H79.3V151.2M79.2 151.2V154.1H80.5V151.2M80.3 151.2V158.3H81.6V151.2M82.6 151.2V167.3H83.9V151.2M83.7 151.2V158.7H85.0V151.2M84.9 151.2V164.3H86.2V151.2M86.0 151.2V165.8H87.3V151.2M87.2 151.2V155.4H88.5V151.2M88.3 151.2V164.6H89.6V151.2M91.7 151.2V158.7H93.0V151.2M92.9 151.2V159.4H94.2V151.2M94.0 151.2V163.2H95.3V151.2M95.2 151.2V164.8H96.5V151.2M96.3 151.2V169.6H97.6V151.2M97.4 151.2V168.7H98.7V151.2M98.6 151.2V155.8H99.9V151.2M99.7 151.2V154.3H101.0V151.2M100.9 151.2V151.7H102.2V151.2M102.0 151.2V152.3H103.3V151.2M103.1 151.2V154.5H104.5V151.2M104.3 151.2V158.1H105.6V151.2M105.4 151.2V159.8H106.7V151.2M107.7 151.2V162.2H109.0V151.2M108.9 151.2V160.1H110.2V151.2M110.0 151.2V152.0H111.3V151.2M111.1 151.2V162.4H112.4V151.2M112.3 151.2V156.2H113.6V151.2M113.4 151.2V161.4H114.7V151.2M114.6 151.2V156.4H115.9V151.2M115.7 151.2V164.3H117.0V151.2M116.8 151.2V164.6H118.2V151.2M118.0 151.2V155.0H119.3V151.2M119.1 151.2V159.5H120.4V151.2M120.3 151.2V147.7H121.6V151.2M121.4 151.2V156.3H122.7V151.2M122.5 151.2V156.4H123.9V151.2M123.7 151.2V155.7H125.0V151.2M124.8 151.2V160.4H126.1V151.2M126.0 151.2V158.4H127.3V151.2M127.1 151.2V155.9H128.4V151.2M128.3 151.2V145.9H129.6V151.2M129.4 151.2V136.5H130.7V151.2M130.5 151.2V164.3H131.9V151.2M131.7 151.2V165.8H133.0V151.2M132.8 151.2V154.1H134.1V151.2M134.0 151.2V165.8H135.3V151.2M135.1 151.2V164.6H136.4V151.2M136.2 151.2V153.0H137.6V151.2M137.4 151.2V139.8H138.7V151.2M138.5 151.2V158.1H139.8V151.2M139.7 151.2V165.8H141.0V151.2M140.8 151.2V164.6H142.1V151.2M142.0 151.2V163.8H143.3V151.2M143.1 151.2V152.9H144.4V151.2M144.2 151.2V165.8H145.6V151.2M145.4 151.2V153.2H146.7V151.2M146.5 151.2V156.1H147.8V151.2M147.7 151.2V152.8H149.0V151.2M148.8 151.2V156.8H150.1V151.2M149.9 151.2V156.3H151.3V151.2M151.1 151.2V154.5H152.4V151.2M152.2 151.2V154.1H153.5V151.2M155.7 151.2V157.6H157.0V151.2M156.8 151.2V158.9H158.1V151.2M157.9 151.2V157.8H159.2V151.2M159.1 151.2V139.8H160.4V151.2M160.2 151.2V159.4H161.5V151.2M161.4 151.2V163.8H162.7V151.2M162.5 151.2V162.9H163.8V151.2M163.6 151.2V157.9H165.0V151.2M165.9 151.2V157.6H167.2V151.2M167.1 151.2V137.7H168.4V151.2M169.4 151.2V162.7H170.7V151.2M170.5 151.2V157.5H171.8V151.2M171.6 151.2V154.7H172.9V151.2M172.8 151.2V151.9H174.1V151.2M173.9 151.2V145.0H175.2V151.2" fill="none" stroke="#000" stroke-opacity="0.55" stroke-width="0.4"/>
<path d="M30.1 151.2V170.5H31.4V151.2ZM31.2 151.2V158.2H32.5V151.2ZM32.4 151.2V158.8H33.7V151.2ZM33.5 151.2V145.0H34.8V151.2ZM34.7 151.2V164.6H36.0V151.2ZM35.8 151.2V164.9H37.1V151.2ZM36.9 151.2V159.9H38.2V151.2ZM38.1 151.2V158.9H39.4V151.2ZM39.2 151.2V158.7H40.5V151.2ZM40.4 151.2V155.2H41.7V151.2ZM41.5 151.2V156.8H42.8V151.2ZM42.6 151.2V157.2H44.0V151.2ZM43.8 151.2V158.6H45.1V151.2ZM44.9 151.2V159.9H46.2V151.2ZM46.1 151.2V157.9H47.4V151.2ZM47.2 151.2V137.1H48.5V151.2ZM48.3 151.2V154.6H49.7V151.2ZM49.5 151.2V163.8H50.8V151.2ZM50.6 151.2V161.4H51.9V151.2ZM51.8 151.2V163.8H53.1V151.2ZM52.9 151.2V155.7H54.2V151.2ZM54.1 151.2V154.3H55.4V151.2ZM55.2 151.2V154.3H56.5V151.2ZM56.3 151.2V159.1H57.7V151.2ZM57.5 151.2V157.5H58.8V151.2ZM58.6 151.2V157.4H59.9V151.2ZM59.8 151.2V155.3H61.1V151.2ZM60.9 151.2V156.8H62.2V151.2ZM62.0 151.2V163.8H63.4V151.2ZM63.2 151.2V154.4H64.5V151.2ZM64.3 151.2V165.8H65.6V151.2ZM65.5 151.2V154.4H66.8V151.2ZM66.6 151.2V157.2H67.9V151.2ZM67.8 151.2V155.7H69.1V151.2ZM68.9 151.2V158.2H70.2V151.2ZM70.0 151.2V165.8H71.4V151.2ZM71.2 151.2V166.7H72.5V151.2ZM72.3 151.2V165.8H73.6V151.2ZM73.5 151.2V138.6H74.8V151.2ZM73.5 151.2V172.8H74.8V151.2ZM74.6 151.2V167.3H75.9V151.2ZM75.7 151.2V156.9H77.1V151.2ZM76.9 151.2V158.5H78.2V151.2ZM78.0 151.2V162.9H79.3V151.2ZM79.2 151.2V166.7H80.5V151.2ZM80.3 151.2V156.3H81.6V151.2ZM81.5 151.2V154.9H82.8V151.2ZM82.6 151.2V164.3H83.9V151.2ZM83.7 151.2V166.4H85.0V151.2ZM84.9 151.2V155.6H86.2V151.2ZM86.0 151.2V167.6H87.3V151.2ZM87.2 151.2V137.4H88.5V151.2ZM88.3 151.2V158.8H89.6V151.2ZM89.4 151.2V155.0H90.8V151.2ZM90.6 151.2V156.9H91.9V151.2ZM91.7 151.2V159.9H93.0V151.2ZM92.9 151.2V162.9H94.2V151.2ZM94.0 151.2V163.8H95.3V151.2ZM95.2 151.2V163.8H96.5V151.2ZM96.3 151.2V154.4H97.6V151.2ZM97.4 151.2V146.5H98.7V151.2ZM98.6 151.2V161.7H99.9V151.2ZM99.7 151.2V168.7H101.0V151.2ZM100.9 151.2V168.7H102.2V151.2ZM102.0 151.2V164.6H103.3V151.2ZM103.1 151.2V169.6H104.5V151.2ZM104.3 151.2V170.8H105.6V151.2ZM105.4 151.2V171.7H106.7V151.2ZM106.6 151.2V141.8H107.9V151.2ZM107.7 151.2V156.3H109.0V151.2ZM108.9 151.2V177.5H110.2V151.2ZM110.0 151.2V194.8H111.3V151.2ZM111.1 151.2V186.9H112.4V151.2ZM112.3 151.2V128.9H113.6V151.2ZM113.4 151.2V132.4H114.7V151.2ZM114.6 151.2V154.1H115.9V151.2ZM115.7 151.2V154.8H117.0V151.2ZM116.8 151.2V161.7H118.2V151.2ZM118.0 151.2V158.5H119.3V151.2ZM119.1 151.2V159.1H120.4V151.2ZM120.3 151.2V154.3H121.6V151.2ZM121.4 151.2V158.0H122.7V151.2ZM122.5 151.2V155.8H123.9V151.2ZM123.7 151.2V144.1H125.0V151.2ZM123.7 151.2V169.6H125.0V151.2ZM124.8 151.2V170.5H126.1V151.2ZM126.0 151.2V161.4H127.3V151.2ZM127.1 151.2V156.3H128.4V151.2ZM128.3 151.2V162.9H129.6V151.2ZM129.4 151.2V160.5H130.7V151.2ZM130.5 151.2V158.9H131.9V151.2ZM131.7 151.2V157.9H133.0V151.2ZM132.8 151.2V155.8H134.1V151.2ZM134.0 151.2V159.1H135.3V151.2ZM135.1 151.2V157.2H136.4V151.2ZM136.2 151.2V154.2H137.6V151.2ZM137.4 151.2V155.8H138.7V151.2ZM138.5 151.2V160.8H139.8V151.2ZM139.7 151.2V146.5H141.0V151.2ZM140.8 151.2V135.7H142.1V151.2ZM142.0 151.2V148.2H143.3V151.2ZM143.1 151.2V162.9H144.4V151.2ZM144.2 151.2V155.1H145.6V151.2ZM145.4 151.2V160.8H146.7V151.2ZM146.5 151.2V159.9H147.8V151.2ZM147.7 151.2V158.5H149.0V151.2ZM148.8 151.2V157.6H150.1V151.2ZM149.9 151.2V157.6H151.3V151.2ZM151.1 151.2V159.1H152.4V151.2ZM152.2 151.2V154.1H153.5V151.2ZM153.4 151.2V149.1H154.7V151.2ZM154.5 151.2V156.1H155.8V151.2ZM155.7 151.2V167.8H157.0V151.2ZM156.8 151.2V165.8H158.1V151.2ZM157.9 151.2V161.4H159.2V151.2ZM159.1 151.2V157.7H160.4V151.2ZM160.2 151.2V140.3H161.5V151.2ZM161.4 151.2V154.7H162.7V151.2ZM162.5 151.2V157.2H163.8V151.2ZM163.6 151.2V162.3H165.0V151.2ZM164.8 151.2V158.1H166.1V151.2ZM165.9 151.2V160.5H167.2V151.2ZM167.1 151.2V159.9H168.4V151.2ZM168.2 151.2V156.0H169.5V151.2ZM169.4 151.2V164.3H170.7V151.2ZM170.5 151.2V163.8H171.8V151.2ZM171.6 151.2V155.1H172.9V151.2ZM172.8 151.2V161.7H174.1V151.2ZM173.9 151.2V159.9H175.2V151.2ZM175.1 151.2V158.5H176.4V151.2Z" fill="#582163"/>
<path d="M30.1 151.2V170.5H31.4V151.2M31.2 151.2V158.2H32.5V151.2M32.4 151.2V158.8H33.7V151.2M33.5 151.2V145.0H34.8V151.2M34.7 151.2V164.6H36.0V151.2M35.8 151.2V164.9H37.1V151.2M36.9 151.2V159.9H38.2V151.2M38.1 151.2V158.9H39.4V151.2M39.2 151.2V158.7H40.5V151.2M40.4 151.2V155.2H41.7V151.2M41.5 151.2V156.8H42.8V151.2M42.6 151.2V157.2H44.0V151.2M43.8 151.2V158.6H45.1V151.2M44.9 151.2V159.9H46.2V151.2M46.1 151.2V157.9H47.4V151.2M47.2 151.2V137.1H48.5V151.2M48.3 151.2V154.6H49.7V151.2M49.5 151.2V163.8H50.8V151.2M50.6 151.2V161.4H51.9V151.2M51.8 151.2V163.8H53.1V151.2M52.9 151.2V155.7H54.2V151.2M54.1 151.2V154.3H55.4V151.2M55.2 151.2V154.3H56.5V151.2M56.3 151.2V159.1H57.7V151.2M57.5 151.2V157.5H58.8V151.2M58.6 151.2V157.4H59.9V151.2M59.8 151.2V155.3H61.1V151.2M60.9 151.2V156.8H62.2V151.2M62.0 151.2V163.8H63.4V151.2M63.2 151.2V154.4H64.5V151.2M64.3 151.2V165.8H65.6V151.2M65.5 151.2V154.4H66.8V151.2M66.6 151.2V157.2H67.9V151.2M67.8 151.2V155.7H69.1V151.2M68.9 151.2V158.2H70.2V151.2M70.0 151.2V165.8H71.4V151.2M71.2 151.2V166.7H72.5V151.2M72.3 151.2V165.8H73.6V151.2M73.5 151.2V138.6H74.8V151.2M73.5 151.2V172.8H74.8V151.2M74.6 151.2V167.3H75.9V151.2M75.7 151.2V156.9H77.1V151.2M76.9 151.2V158.5H78.2V151.2M78.0 151.2V162.9H79.3V151.2M79.2 151.2V166.7H80.5V151.2M80.3 151.2V156.3H81.6V151.2M81.5 151.2V154.9H82.8V151.2M82.6 151.2V164.3H83.9V151.2M83.7 151.2V166.4H85.0V151.2M84.9 151.2V155.6H86.2V151.2M86.0 151.2V167.6H87.3V151.2M87.2 151.2V137.4H88.5V151.2M88.3 151.2V158.8H89.6V151.2M89.4 151.2V155.0H90.8V151.2M90.6 151.2V156.9H91.9V151.2M91.7 151.2V159.9H93.0V151.2M92.9 151.2V162.9H94.2V151.2M94.0 151.2V163.8H95.3V151.2M95.2 151.2V163.8H96.5V151.2M96.3 151.2V154.4H97.6V151.2M97.4 151.2V146.5H98.7V151.2M98.6 151.2V161.7H99.9V151.2M99.7 151.2V168.7H101.0V151.2M100.9 151.2V168.7H102.2V151.2M102.0 151.2V164.6H103.3V151.2M103.1 151.2V169.6H104.5V151.2M104.3 151.2V170.8H105.6V151.2M105.4 151.2V171.7H106.7V151.2M106.6 151.2V141.8H107.9V151.2M107.7 151.2V156.3H109.0V151.2M108.9 151.2V177.5H110.2V151.2M110.0 151.2V194.8H111.3V151.2M111.1 151.2V186.9H112.4V151.2M112.3 151.2V128.9H113.6V151.2M113.4 151.2V132.4H114.7V151.2M114.6 151.2V154.1H115.9V151.2M115.7 151.2V154.8H117.0V151.2M116.8 151.2V161.7H118.2V151.2M118.0 151.2V158.5H119.3V151.2M119.1 151.2V159.1H120.4V151.2M120.3 151.2V154.3H121.6V151.2M121.4 151.2V158.0H122.7V151.2M122.5 151.2V155.8H123.9V151.2M123.7 151.2V144.1H125.0V151.2M123.7 151.2V169.6H125.0V151.2M124.8 151.2V170.5H126.1V151.2M126.0 151.2V161.4H127.3V151.2M127.1 151.2V156.3H128.4V151.2M128.3 151.2V162.9H129.6V151.2M129.4 151.2V160.5H130.7V151.2M130.5 151.2V158.9H131.9V151.2M131.7 151.2V157.9H133.0V151.2M132.8 151.2V155.8H134.1V151.2M134.0 151.2V159.1H135.3V151.2M135.1 151.2V157.2H136.4V151.2M136.2 151.2V154.2H137.6V151.2M137.4 151.2V155.8H138.7V151.2M138.5 151.2V160.8H139.8V151.2M139.7 151.2V146.5H141.0V151.2M140.8 151.2V135.7H142.1V151.2M142.0 151.2V148.2H143.3V151.2M143.1 151.2V162.9H144.4V151.2M144.2 151.2V155.1H145.6V151.2M145.4 151.2V160.8H146.7V151.2M146.5 151.2V159.9H147.8V151.2M147.7 151.2V158.5H149.0V151.2M148.8 151.2V157.6H150.1V151.2M149.9 151.2V157.6H151.3V151.2M151.1 151.2V159.1H152.4V151.2M152.2 151.2V154.1H153.5V151.2M153.4 151.2V149.1H154.7V151.2M154.5 151.2V156.1H155.8V151.2M155.7 151.2V167.8H157.0V151.2M156.8 151.2V165.8H158.1V151.2M157.9 151.2V161.4H159.2V151.2M159.1 151.2V157.7H160.4V151.2M160.2 151.2V140.3H161.5V151.2M161.4 151.2V154.7H162.7V151.2M162.5 151.2V157.2H163.8V151.2M163.6 151.2V162.3H165.0V151.2M164.8 151.2V158.1H166.1V151.2M165.9 151.2V160.5H167.2V151.2M167.1 151.2V159.9H168.4V151.2M168.2 151.2V156.0H169.5V151.2M169.4 151.2V164.3H170.7V151.2M170.5 151.2V163.8H171.8V151.2M171.6 151.2V155.1H172.9V151.2M172.8 151.2V161.7H174.1V151.2M173.9 151.2V159.9H175.2V151.2M175.1 151.2V158.5H176.4V151.2" fill="none" stroke="#000" stroke-opacity="0.55" stroke-width="0.4"/>
</g>
<line x1="29.6" x2="176.4" y1="151.17" y2="151.17" stroke="#111" stroke-width="0.35"/>
<rect x="29.6" y="121.9" width="146.80" height="87.80" fill="none" stroke="#666" stroke-width="0.45"/>
<path d="M29.60 209.7v-1.2M29.60 121.9v1.2" stroke="#555" stroke-width="0.4"/>
<text transform="translate(29.60 215.60) scale(1.32 1)" font-size="4.0" text-anchor="middle" font-weight="normal" fill="#383838">0</text>
<path d="M52.43 209.7v-1.2M52.43 121.9v1.2" stroke="#555" stroke-width="0.4"/>
<text transform="translate(52.43 215.60) scale(1.32 1)" font-size="4.0" text-anchor="middle" font-weight="normal" fill="#383838">20</text>
<path d="M75.26 209.7v-1.2M75.26 121.9v1.2" stroke="#555" stroke-width="0.4"/>
<text transform="translate(75.26 215.60) scale(1.32 1)" font-size="4.0" text-anchor="middle" font-weight="normal" fill="#383838">40</text>
<path d="M98.09 209.7v-1.2M98.09 121.9v1.2" stroke="#555" stroke-width="0.4"/>
<text transform="translate(98.09 215.60) scale(1.32 1)" font-size="4.0" text-anchor="middle" font-weight="normal" fill="#383838">60</text>
<path d="M120.92 209.7v-1.2M120.92 121.9v1.2" stroke="#555" stroke-width="0.4"/>
<text transform="translate(120.92 215.60) scale(1.32 1)" font-size="4.0" text-anchor="middle" font-weight="normal" fill="#383838">80</text>
<path d="M143.75 209.7v-1.2M143.75 121.9v1.2" stroke="#555" stroke-width="0.4"/>
<text transform="translate(143.75 215.60) scale(1.32 1)" font-size="4.0" text-anchor="middle" font-weight="normal" fill="#383838">100</text>
<path d="M166.58 209.7v-1.2M166.58 121.9v1.2" stroke="#555" stroke-width="0.4"/>
<text transform="translate(166.58 215.60) scale(1.32 1)" font-size="4.0" text-anchor="middle" font-weight="normal" fill="#383838">120</text>
<path d="M29.6 209.70h1.2M176.4 209.70h-1.2" stroke="#555" stroke-width="0.4"/>
<text transform="translate(28.60 211.05) scale(1.32 1)" font-size="4.0" text-anchor="end" font-weight="normal" fill="#383838">-2</text>
<path d="M29.6 195.07h1.2M176.4 195.07h-1.2" stroke="#555" stroke-width="0.4"/>
<text transform="translate(28.60 196.42) scale(1.32 1)" font-size="4.0" text-anchor="end" font-weight="normal" fill="#383838">-1.5</text>
<path d="M29.6 180.43h1.2M176.4 180.43h-1.2" stroke="#555" stroke-width="0.4"/>
<text transform="translate(28.60 181.78) scale(1.32 1)" font-size="4.0" text-anchor="end" font-weight="normal" fill="#383838">-1</text>
<path d="M29.6 165.80h1.2M176.4 165.80h-1.2" stroke="#555" stroke-width="0.4"/>
<text transform="translate(28.60 167.15) scale(1.32 1)" font-size="4.0" text-anchor="end" font-weight="normal" fill="#383838">-0.5</text>
<path d="M29.6 151.17h1.2M176.4 151.17h-1.2" stroke="#555" stroke-width="0.4"/>
<text transform="translate(28.60 152.52) scale(1.32 1)" font-size="4.0" text-anchor="end" font-weight="normal" fill="#383838">0</text>
<path d="M29.6 136.53h1.2M176.4 136.53h-1.2" stroke="#555" stroke-width="0.4"/>
<text transform="translate(28.60 137.88) scale(1.32 1)" font-size="4.0" text-anchor="end" font-weight="normal" fill="#383838">0.5</text>
<path d="M29.6 121.90h1.2M176.4 121.90h-1.2" stroke="#555" stroke-width="0.4"/>
<text transform="translate(28.60 123.25) scale(1.32 1)" font-size="4.0" text-anchor="end" font-weight="normal" fill="#383838">1</text>
<text transform="translate(105.00 220.30) scale(1.32 1)" font-size="4.35" text-anchor="middle" font-weight="normal" fill="#333">Feature number</text>
<text transform="translate(17.60 164.50) rotate(-90) scale(1 1.32)" font-size="4.35" text-anchor="middle" font-weight="normal" fill="#333">Feature value</text>
<text transform="translate(108.00 120.60) scale(1.32 1)" font-size="4.55" text-anchor="middle" font-weight="bold" fill="#000">Features after Layer 6</text>
<text transform="translate(7.40 218.75) scale(1.4 1)" font-size="7.0" text-anchor="start" font-weight="bold" fill="#000" font-family="'DejaVu Sans','Liberation Sans',sans-serif" letter-spacing="0.3">(c)</text>
<rect x="132.9" y="190.4" width="38.4" height="17.5" fill="#fff" stroke="#444" stroke-width="0.4"/>
<rect x="134.1" y="191.40" width="13.8" height="2.9" fill="#0072bd"/>
<text transform="translate(148.80 194.05) scale(1.32 1)" font-size="3.4" text-anchor="start" font-weight="normal" fill="#222">Best HVHA</text>
<rect x="134.1" y="195.60" width="13.8" height="2.9" fill="#d95319"/>
<text transform="translate(148.80 198.25) scale(1.32 1)" font-size="3.4" text-anchor="start" font-weight="normal" fill="#222">Best HVLA</text>
<rect x="134.1" y="199.80" width="13.8" height="2.9" fill="#edb120"/>
<text transform="translate(148.80 202.45) scale(1.32 1)" font-size="3.4" text-anchor="start" font-weight="normal" fill="#222">Best LVHA</text>
<rect x="134.1" y="204.00" width="13.8" height="2.9" fill="#7e2f8e"/>
<text transform="translate(148.80 206.65) scale(1.32 1)" font-size="3.4" text-anchor="start" font-weight="normal" fill="#222">Best LVLA</text>
<g>
<path d="M238.2 209.7V190.8H239.5V209.7ZM240.4 209.7V206.2H241.8V209.7ZM241.6 209.7V204.4H243.0V209.7ZM251.9 209.7V194.3H253.2V209.7ZM253.0 209.7V201.8H254.4V209.7ZM258.7 209.7V199.2H260.1V209.7ZM263.3 209.7V172.8H264.7V209.7ZM280.5 209.7V189.1H281.8V209.7ZM281.6 209.7V183.4H283.0V209.7ZM289.6 209.7V186.0H291.0V209.7ZM304.5 209.7V203.6H305.9V209.7ZM311.3 209.7V198.3H312.7V209.7ZM319.3 209.7V173.7H320.7V209.7ZM323.9 209.7V155.7H325.3V209.7ZM325.1 209.7V182.5H326.4V209.7ZM331.9 209.7V203.6H333.3V209.7ZM336.5 209.7V206.2H337.9V209.7ZM339.9 209.7V200.5H341.3V209.7ZM365.1 209.7V188.6H366.0V209.7Z" fill="#005084"/>
<path d="M238.2 209.7V190.8H239.5V209.7M240.4 209.7V206.2H241.8V209.7M241.6 209.7V204.4H243.0V209.7M251.9 209.7V194.3H253.2V209.7M253.0 209.7V201.8H254.4V209.7M258.7 209.7V199.2H260.1V209.7M263.3 209.7V172.8H264.7V209.7M280.5 209.7V189.1H281.8V209.7M281.6 209.7V183.4H283.0V209.7M289.6 209.7V186.0H291.0V209.7M304.5 209.7V203.6H305.9V209.7M311.3 209.7V198.3H312.7V209.7M319.3 209.7V173.7H320.7V209.7M323.9 209.7V155.7H325.3V209.7M325.1 209.7V182.5H326.4V209.7M331.9 209.7V203.6H333.3V209.7M336.5 209.7V206.2H337.9V209.7M339.9 209.7V200.5H341.3V209.7M365.1 209.7V188.6H366.0V209.7" fill="none" stroke="#000" stroke-opacity="0.55" stroke-width="0.4"/>
<path d="M225.6 209.7V206.2H226.9V209.7ZM226.7 209.7V198.3H228.1V209.7ZM242.7 209.7V207.1H244.1V209.7ZM256.5 209.7V203.6H257.8V209.7ZM267.9 209.7V205.3H269.3V209.7ZM293.0 209.7V162.3H294.4V209.7ZM294.2 209.7V207.9H295.6V209.7ZM298.8 209.7V180.7H300.1V209.7ZM299.9 209.7V179.0H301.3V209.7ZM307.9 209.7V179.0H309.3V209.7ZM309.1 209.7V197.4H310.4V209.7ZM314.8 209.7V193.5H316.1V209.7ZM315.9 209.7V198.3H317.3V209.7ZM344.5 209.7V196.1H345.9V209.7ZM345.6 209.7V179.8H347.0V209.7Z" fill="#983a12"/>
<path d="M225.6 209.7V206.2H226.9V209.7M226.7 209.7V198.3H228.1V209.7M242.7 209.7V207.1H244.1V209.7M256.5 209.7V203.6H257.8V209.7M267.9 209.7V205.3H269.3V209.7M293.0 209.7V162.3H294.4V209.7M294.2 209.7V207.9H295.6V209.7M298.8 209.7V180.7H300.1V209.7M299.9 209.7V179.0H301.3V209.7M307.9 209.7V179.0H309.3V209.7M309.1 209.7V197.4H310.4V209.7M314.8 209.7V193.5H316.1V209.7M315.9 209.7V198.3H317.3V209.7M344.5 209.7V196.1H345.9V209.7M345.6 209.7V179.8H347.0V209.7" fill="none" stroke="#000" stroke-opacity="0.55" stroke-width="0.4"/>
<path d="M231.3 209.7V173.7H232.7V209.7ZM232.4 209.7V179.8H233.8V209.7ZM233.6 209.7V193.0H235.0V209.7ZM239.3 209.7V204.0H240.7V209.7ZM245.0 209.7V200.9H246.4V209.7ZM246.2 209.7V171.1H247.5V209.7ZM255.3 209.7V173.7H256.7V209.7ZM259.9 209.7V204.4H261.3V209.7ZM261.0 209.7V128.0H262.4V209.7ZM262.2 209.7V179.8H263.5V209.7ZM265.6 209.7V203.6H267.0V209.7ZM282.8 209.7V182.5H284.1V209.7ZM318.2 209.7V166.7H319.6V209.7ZM326.2 209.7V176.3H327.6V209.7ZM327.3 209.7V201.8H328.7V209.7ZM347.9 209.7V175.5H349.3V209.7ZM349.1 209.7V175.9H350.4V209.7ZM355.9 209.7V205.3H357.3V209.7ZM357.1 209.7V170.2H358.5V209.7ZM362.8 209.7V200.0H364.2V209.7ZM363.9 209.7V188.6H365.3V209.7Z" fill="#a67c16"/>
<path d="M231.3 209.7V173.7H232.7V209.7M232.4 209.7V179.8H233.8V209.7M233.6 209.7V193.0H235.0V209.7M239.3 209.7V204.0H240.7V209.7M245.0 209.7V200.9H246.4V209.7M246.2 209.7V171.1H247.5V209.7M255.3 209.7V173.7H256.7V209.7M259.9 209.7V204.4H261.3V209.7M261.0 209.7V128.0H262.4V209.7M262.2 209.7V179.8H263.5V209.7M265.6 209.7V203.6H267.0V209.7M282.8 209.7V182.5H284.1V209.7M318.2 209.7V166.7H319.6V209.7M326.2 209.7V176.3H327.6V209.7M327.3 209.7V201.8H328.7V209.7M347.9 209.7V175.5H349.3V209.7M349.1 209.7V175.9H350.4V209.7M355.9 209.7V205.3H357.3V209.7M357.1 209.7V170.2H358.5V209.7M362.8 209.7V200.0H364.2V209.7M363.9 209.7V188.6H365.3V209.7" fill="none" stroke="#000" stroke-opacity="0.55" stroke-width="0.4"/>
<path d="M223.3 209.7V192.1H224.7V209.7ZM224.4 209.7V207.1H225.8V209.7ZM235.9 209.7V198.3H237.2V209.7ZM237.0 209.7V168.4H238.4V209.7ZM238.2 209.7V203.6H239.5V209.7ZM261.0 209.7V197.4H262.4V209.7ZM274.7 209.7V206.2H276.1V209.7ZM275.9 209.7V168.4H277.3V209.7ZM277.0 209.7V205.3H278.4V209.7ZM286.2 209.7V198.3H287.6V209.7ZM295.3 209.7V183.4H296.7V209.7ZM301.0 209.7V144.7H302.4V209.7ZM302.2 209.7V155.7H303.6V209.7ZM306.8 209.7V205.3H308.1V209.7ZM313.6 209.7V189.5H315.0V209.7ZM328.5 209.7V196.5H329.9V209.7ZM329.6 209.7V164.9H331.0V209.7ZM330.8 209.7V201.8H332.2V209.7ZM342.2 209.7V204.4H343.6V209.7ZM343.4 209.7V206.2H344.7V209.7ZM350.2 209.7V177.2H351.6V209.7ZM351.4 209.7V194.3H352.7V209.7Z" fill="#582163"/>
<path d="M223.3 209.7V192.1H224.7V209.7M224.4 209.7V207.1H225.8V209.7M235.9 209.7V198.3H237.2V209.7M237.0 209.7V168.4H238.4V209.7M238.2 209.7V203.6H239.5V209.7M261.0 209.7V197.4H262.4V209.7M274.7 209.7V206.2H276.1V209.7M275.9 209.7V168.4H277.3V209.7M277.0 209.7V205.3H278.4V209.7M286.2 209.7V198.3H287.6V209.7M295.3 209.7V183.4H296.7V209.7M301.0 209.7V144.7H302.4V209.7M302.2 209.7V155.7H303.6V209.7M306.8 209.7V205.3H308.1V209.7M313.6 209.7V189.5H315.0V209.7M328.5 209.7V196.5H329.9V209.7M329.6 209.7V164.9H331.0V209.7M330.8 209.7V201.8H332.2V209.7M342.2 209.7V204.4H343.6V209.7M343.4 209.7V206.2H344.7V209.7M350.2 209.7V177.2H351.6V209.7M351.4 209.7V194.3H352.7V209.7" fill="none" stroke="#000" stroke-opacity="0.55" stroke-width="0.4"/>
</g>
<rect x="219.4" y="121.9" width="146.60" height="87.80" fill="none" stroke="#666" stroke-width="0.45"/>
<path d="M219.40 209.7v-1.2M219.40 121.9v1.2" stroke="#555" stroke-width="0.4"/>
<text transform="translate(219.40 215.60) scale(1.32 1)" font-size="4.0" text-anchor="middle" font-weight="normal" fill="#383838">0</text>
<path d="M242.27 209.7v-1.2M242.27 121.9v1.2" stroke="#555" stroke-width="0.4"/>
<text transform="translate(242.27 215.60) scale(1.32 1)" font-size="4.0" text-anchor="middle" font-weight="normal" fill="#383838">20</text>
<path d="M265.14 209.7v-1.2M265.14 121.9v1.2" stroke="#555" stroke-width="0.4"/>
<text transform="translate(265.14 215.60) scale(1.32 1)" font-size="4.0" text-anchor="middle" font-weight="normal" fill="#383838">40</text>
<path d="M288.01 209.7v-1.2M288.01 121.9v1.2" stroke="#555" stroke-width="0.4"/>
<text transform="translate(288.01 215.60) scale(1.32 1)" font-size="4.0" text-anchor="middle" font-weight="normal" fill="#383838">60</text>
<path d="M310.88 209.7v-1.2M310.88 121.9v1.2" stroke="#555" stroke-width="0.4"/>
<text transform="translate(310.88 215.60) scale(1.32 1)" font-size="4.0" text-anchor="middle" font-weight="normal" fill="#383838">80</text>
<path d="M333.75 209.7v-1.2M333.75 121.9v1.2" stroke="#555" stroke-width="0.4"/>
<text transform="translate(333.75 215.60) scale(1.32 1)" font-size="4.0" text-anchor="middle" font-weight="normal" fill="#383838">100</text>
<path d="M356.62 209.7v-1.2M356.62 121.9v1.2" stroke="#555" stroke-width="0.4"/>
<text transform="translate(356.62 215.60) scale(1.32 1)" font-size="4.0" text-anchor="middle" font-weight="normal" fill="#383838">120</text>
<path d="M219.4 209.70h1.2M366.0 209.70h-1.2" stroke="#555" stroke-width="0.4"/>
<text transform="translate(218.40 211.05) scale(1.32 1)" font-size="4.0" text-anchor="end" font-weight="normal" fill="#383838">0</text>
<path d="M219.4 200.92h1.2M366.0 200.92h-1.2" stroke="#555" stroke-width="0.4"/>
<text transform="translate(218.40 202.27) scale(1.32 1)" font-size="4.0" text-anchor="end" font-weight="normal" fill="#383838">0.1</text>
<path d="M219.4 192.14h1.2M366.0 192.14h-1.2" stroke="#555" stroke-width="0.4"/>
<text transform="translate(218.40 193.49) scale(1.32 1)" font-size="4.0" text-anchor="end" font-weight="normal" fill="#383838">0.2</text>
<path d="M219.4 183.36h1.2M366.0 183.36h-1.2" stroke="#555" stroke-width="0.4"/>
<text transform="translate(218.40 184.71) scale(1.32 1)" font-size="4.0" text-anchor="end" font-weight="normal" fill="#383838">0.3</text>
<path d="M219.4 174.58h1.2M366.0 174.58h-1.2" stroke="#555" stroke-width="0.4"/>
<text transform="translate(218.40 175.93) scale(1.32 1)" font-size="4.0" text-anchor="end" font-weight="normal" fill="#383838">0.4</text>
<path d="M219.4 165.80h1.2M366.0 165.80h-1.2" stroke="#555" stroke-width="0.4"/>
<text transform="translate(218.40 167.15) scale(1.32 1)" font-size="4.0" text-anchor="end" font-weight="normal" fill="#383838">0.5</text>
<path d="M219.4 157.02h1.2M366.0 157.02h-1.2" stroke="#555" stroke-width="0.4"/>
<text transform="translate(218.40 158.37) scale(1.32 1)" font-size="4.0" text-anchor="end" font-weight="normal" fill="#383838">0.6</text>
<path d="M219.4 148.24h1.2M366.0 148.24h-1.2" stroke="#555" stroke-width="0.4"/>
<text transform="translate(218.40 149.59) scale(1.32 1)" font-size="4.0" text-anchor="end" font-weight="normal" fill="#383838">0.7</text>
<path d="M219.4 139.46h1.2M366.0 139.46h-1.2" stroke="#555" stroke-width="0.4"/>
<text transform="translate(218.40 140.81) scale(1.32 1)" font-size="4.0" text-anchor="end" font-weight="normal" fill="#383838">0.8</text>
<path d="M219.4 130.68h1.2M366.0 130.68h-1.2" stroke="#555" stroke-width="0.4"/>
<text transform="translate(218.40 132.03) scale(1.32 1)" font-size="4.0" text-anchor="end" font-weight="normal" fill="#383838">0.9</text>
<path d="M219.4 121.90h1.2M366.0 121.90h-1.2" stroke="#555" stroke-width="0.4"/>
<text transform="translate(218.40 123.25) scale(1.32 1)" font-size="4.0" text-anchor="end" font-weight="normal" fill="#383838">1</text>
<text transform="translate(294.70 220.30) scale(1.32 1)" font-size="4.35" text-anchor="middle" font-weight="normal" fill="#333">Feature number</text>
<text transform="translate(207.90 164.50) rotate(-90) scale(1 1.32)" font-size="4.35" text-anchor="middle" font-weight="normal" fill="#333">Feature value</text>
<text transform="translate(298.00 120.60) scale(1.32 1)" font-size="4.55" text-anchor="middle" font-weight="bold" fill="#000">Features after Layer 7</text>
<text transform="translate(198.00 218.75) scale(1.4 1)" font-size="7.0" text-anchor="start" font-weight="bold" fill="#000" font-family="'DejaVu Sans','Liberation Sans',sans-serif" letter-spacing="0.3">(d)</text>
<rect x="322.8" y="123.6" width="38.4" height="17.5" fill="#fff" stroke="#444" stroke-width="0.4"/>
<rect x="324.0" y="124.60" width="13.8" height="2.9" fill="#0072bd"/>
<text transform="translate(338.70 127.25) scale(1.32 1)" font-size="3.4" text-anchor="start" font-weight="normal" fill="#222">Best HVHA</text>
<rect x="324.0" y="128.80" width="13.8" height="2.9" fill="#d95319"/>
<text transform="translate(338.70 131.45) scale(1.32 1)" font-size="3.4" text-anchor="start" font-weight="normal" fill="#222">Best HVLA</text>
<rect x="324.0" y="133.00" width="13.8" height="2.9" fill="#edb120"/>
<text transform="translate(338.70 135.65) scale(1.32 1)" font-size="3.4" text-anchor="start" font-weight="normal" fill="#222">Best LVHA</text>
<rect x="324.0" y="137.20" width="13.8" height="2.9" fill="#7e2f8e"/>
<text transform="translate(338.70 139.85) scale(1.32 1)" font-size="3.4" text-anchor="start" font-weight="normal" fill="#222">Best LVLA</text>
<g>
<path d="" fill="#004775"/>
<path d="" fill="none" stroke="#000" stroke-opacity="0.5" stroke-width="0.3"/>
<path d="" fill="#873310"/>
<path d="" fill="none" stroke="#000" stroke-opacity="0.5" stroke-width="0.3"/>
<path d="" fill="#936e14"/>
<path d="" fill="none" stroke="#000" stroke-opacity="0.5" stroke-width="0.3"/>
<path d="" fill="#4e1d58"/>
<path d="" fill="none" stroke="#000" stroke-opacity="0.5" stroke-width="0.3"/>
</g>
<rect x="29.90" y="259.18" width="1.40" height="58.32" fill="#f3c250"/>
<rect x="29.90" y="271.09" width="1.40" height="46.41" fill="#de6d3a"/>
<rect x="29.90" y="286.14" width="1.40" height="31.36" fill="#83369a"/>
<rect x="31.30" y="271.09" width="1.40" height="46.41" fill="#de6d3a"/>
<rect x="31.30" y="277.36" width="1.40" height="40.14" fill="#83369a"/>
<rect x="32.70" y="279.24" width="1.20" height="38.26" fill="#5a9fd8"/>
<rect x="32.70" y="287.40" width="1.20" height="30.10" fill="#83369a"/>
<rect x="33.90" y="303.08" width="0.80" height="14.42" fill="#83369a"/>
<rect x="38.10" y="282.38" width="1.40" height="35.12" fill="#de6d3a"/>
<rect x="38.10" y="286.14" width="1.40" height="31.36" fill="#83369a"/>
<rect x="39.50" y="272.35" width="1.70" height="45.15" fill="#de6d3a"/>
<rect x="39.50" y="275.48" width="1.70" height="42.02" fill="#83369a"/>
<rect x="41.20" y="270.46" width="1.40" height="47.04" fill="#f3c250"/>
<rect x="41.20" y="277.36" width="1.40" height="40.14" fill="#de6d3a"/>
<rect x="41.20" y="282.38" width="1.40" height="35.12" fill="#83369a"/>
<rect x="42.60" y="284.89" width="1.20" height="32.61" fill="#f3c250"/>
<rect x="42.60" y="291.16" width="1.20" height="26.34" fill="#83369a"/>
<rect x="43.80" y="310.60" width="1.20" height="6.90" fill="#4a4a20"/>
<rect x="45.00" y="303.70" width="1.30" height="13.80" fill="#b07cc0"/>
<rect x="46.30" y="313.74" width="1.20" height="3.76" fill="#83369a"/>
<rect x="47.50" y="309.35" width="1.20" height="8.15" fill="#5a9fd8"/>
<rect x="48.70" y="314.99" width="1.40" height="2.51" fill="#83369a"/>
<rect x="50.10" y="309.97" width="1.70" height="7.53" fill="#5a9fd8"/>
<rect x="50.10" y="312.48" width="1.70" height="5.02" fill="#83369a"/>
<rect x="51.80" y="308.09" width="1.40" height="9.41" fill="#5a9fd8"/>
<rect x="51.80" y="314.36" width="1.40" height="3.14" fill="#83369a"/>
<rect x="53.20" y="291.79" width="1.20" height="25.71" fill="#f3c250"/>
<rect x="54.40" y="254.79" width="1.70" height="62.71" fill="#b07cc0"/>
<rect x="56.10" y="308.72" width="1.00" height="8.78" fill="#83369a"/>
<rect x="57.10" y="251.65" width="1.20" height="65.85" fill="#83369a"/>
<rect x="58.30" y="257.61" width="1.40" height="59.89" fill="#5a9fd8"/>
<rect x="58.30" y="262.94" width="1.40" height="54.56" fill="#83369a"/>
<rect x="59.70" y="259.18" width="1.30" height="58.32" fill="#de6d3a"/>
<rect x="59.70" y="270.46" width="1.30" height="47.04" fill="#83369a"/>
<rect x="61.00" y="262.94" width="1.40" height="54.56" fill="#f3c250"/>
<rect x="61.00" y="267.33" width="1.40" height="50.17" fill="#5a9fd8"/>
<rect x="61.00" y="282.38" width="1.40" height="35.12" fill="#83369a"/>
<rect x="62.40" y="272.97" width="1.40" height="44.53" fill="#f3c250"/>
<rect x="62.40" y="286.77" width="1.40" height="30.73" fill="#83369a"/>
<rect x="63.80" y="277.36" width="1.30" height="40.14" fill="#de6d3a"/>
<rect x="63.80" y="287.40" width="1.30" height="30.10" fill="#83369a"/>
<rect x="65.10" y="274.85" width="1.40" height="42.65" fill="#de6d3a"/>
<rect x="65.10" y="282.38" width="1.40" height="35.12" fill="#83369a"/>
<rect x="66.50" y="284.26" width="1.40" height="33.24" fill="#f3c250"/>
<rect x="66.50" y="294.30" width="1.40" height="23.20" fill="#83369a"/>
<rect x="67.90" y="282.38" width="1.30" height="35.12" fill="#de6d3a"/>
<rect x="67.90" y="294.30" width="1.30" height="23.20" fill="#83369a"/>
<rect x="69.20" y="286.14" width="1.40" height="31.36" fill="#de6d3a"/>
<rect x="69.20" y="298.06" width="1.40" height="19.44" fill="#83369a"/>
<rect x="70.60" y="291.16" width="1.40" height="26.34" fill="#f3c250"/>
<rect x="70.60" y="301.82" width="1.40" height="15.68" fill="#83369a"/>
<rect x="72.00" y="308.09" width="1.20" height="9.41" fill="#5a9fd8"/>
<rect x="72.00" y="311.23" width="1.20" height="6.27" fill="#83369a"/>
<rect x="73.20" y="289.28" width="1.10" height="28.22" fill="#5a9fd8"/>
<rect x="73.20" y="304.96" width="1.10" height="12.54" fill="#83369a"/>
<rect x="74.30" y="284.26" width="1.40" height="33.24" fill="#5a9fd8"/>
<rect x="74.30" y="289.91" width="1.40" height="27.59" fill="#de6d3a"/>
<rect x="74.30" y="295.55" width="1.40" height="21.95" fill="#83369a"/>
<rect x="75.70" y="289.28" width="1.70" height="28.22" fill="#de6d3a"/>
<rect x="75.70" y="291.16" width="1.70" height="26.34" fill="#83369a"/>
<rect x="77.40" y="281.75" width="1.40" height="35.75" fill="#5a9fd8"/>
<rect x="77.40" y="284.89" width="1.40" height="32.61" fill="#f3c250"/>
<rect x="77.40" y="292.41" width="1.40" height="25.09" fill="#83369a"/>
<rect x="78.80" y="286.14" width="1.20" height="31.36" fill="#f3c250"/>
<rect x="78.80" y="298.06" width="1.20" height="19.44" fill="#83369a"/>
<rect x="83.00" y="312.48" width="1.20" height="5.02" fill="#5a9fd8"/>
<rect x="84.40" y="252.28" width="1.40" height="65.22" fill="#83369a"/>
<rect x="85.80" y="242.24" width="1.30" height="75.26" fill="#f3c250"/>
<rect x="85.80" y="248.51" width="1.30" height="68.99" fill="#5a9fd8"/>
<rect x="85.80" y="251.65" width="1.30" height="65.85" fill="#83369a"/>
<rect x="87.10" y="242.87" width="1.40" height="74.63" fill="#f3c250"/>
<rect x="87.10" y="249.77" width="1.40" height="67.73" fill="#83369a"/>
<rect x="88.50" y="262.94" width="1.00" height="54.56" fill="#de6d3a"/>
<rect x="88.50" y="267.33" width="1.00" height="50.17" fill="#83369a"/>
<rect x="89.50" y="298.06" width="1.00" height="19.44" fill="#83369a"/>
<rect x="90.50" y="284.26" width="1.10" height="33.24" fill="#5a9fd8"/>
<rect x="90.50" y="301.19" width="1.10" height="16.31" fill="#83369a"/>
<rect x="91.60" y="294.30" width="0.70" height="23.20" fill="#de6d3a"/>
<rect x="91.60" y="306.21" width="0.70" height="11.29" fill="#83369a"/>
<rect x="92.30" y="277.36" width="1.00" height="40.14" fill="#5a9fd8"/>
<rect x="92.30" y="304.96" width="1.00" height="12.54" fill="#83369a"/>
<rect x="93.30" y="303.08" width="1.30" height="14.42" fill="#f3c250"/>
<rect x="93.30" y="304.96" width="1.30" height="12.54" fill="#83369a"/>
<rect x="94.60" y="310.60" width="1.40" height="6.90" fill="#83369a"/>
<rect x="96.00" y="306.21" width="1.40" height="11.29" fill="#de6d3a"/>
<rect x="96.00" y="308.09" width="1.40" height="9.41" fill="#83369a"/>
<rect x="97.40" y="299.31" width="1.30" height="18.19" fill="#83369a"/>
<rect x="98.70" y="294.30" width="1.40" height="23.20" fill="#b07cc0"/>
<rect x="100.10" y="277.36" width="1.40" height="40.14" fill="#b07cc0"/>
<rect x="100.10" y="284.89" width="1.40" height="32.61" fill="#83369a"/>
<rect x="101.50" y="269.84" width="1.30" height="47.66" fill="#5a9fd8"/>
<rect x="101.50" y="275.48" width="1.30" height="42.02" fill="#83369a"/>
<rect x="102.80" y="271.09" width="1.40" height="46.41" fill="#de6d3a"/>
<rect x="102.80" y="275.48" width="1.40" height="42.02" fill="#83369a"/>
<rect x="104.20" y="272.97" width="1.40" height="44.53" fill="#5a9fd8"/>
<rect x="104.20" y="277.36" width="1.40" height="40.14" fill="#83369a"/>
<rect x="105.60" y="277.99" width="1.30" height="39.51" fill="#f3c250"/>
<rect x="105.60" y="284.89" width="1.30" height="32.61" fill="#83369a"/>
<rect x="106.90" y="277.36" width="1.40" height="40.14" fill="#5a9fd8"/>
<rect x="106.90" y="282.38" width="1.40" height="35.12" fill="#f3c250"/>
<rect x="106.90" y="289.28" width="1.40" height="28.22" fill="#83369a"/>
<rect x="108.30" y="289.28" width="1.30" height="28.22" fill="#f3c250"/>
<rect x="108.30" y="299.31" width="1.30" height="18.19" fill="#83369a"/>
<rect x="109.60" y="295.55" width="1.40" height="21.95" fill="#de6d3a"/>
<rect x="109.60" y="306.21" width="1.40" height="11.29" fill="#83369a"/>
<rect x="111.00" y="309.97" width="1.10" height="7.53" fill="#f3c250"/>
<rect x="112.10" y="286.14" width="1.30" height="31.36" fill="#f3c250"/>
<rect x="112.10" y="301.82" width="1.30" height="15.68" fill="#83369a"/>
<rect x="113.40" y="269.84" width="1.00" height="47.66" fill="#5a9fd8"/>
<rect x="113.40" y="279.24" width="1.00" height="38.26" fill="#de6d3a"/>
<rect x="113.40" y="286.14" width="1.00" height="31.36" fill="#83369a"/>
<rect x="114.40" y="282.38" width="0.80" height="35.12" fill="#de6d3a"/>
<rect x="114.40" y="289.28" width="0.80" height="28.22" fill="#83369a"/>
<rect x="115.20" y="264.19" width="0.90" height="53.31" fill="#5a9fd8"/>
<rect x="115.20" y="289.28" width="0.90" height="28.22" fill="#83369a"/>
<rect x="116.10" y="277.36" width="1.40" height="40.14" fill="#de6d3a"/>
<rect x="116.10" y="284.26" width="1.40" height="33.24" fill="#83369a"/>
<rect x="117.50" y="275.48" width="1.40" height="42.02" fill="#de6d3a"/>
<rect x="117.50" y="280.50" width="1.40" height="37.00" fill="#83369a"/>
<rect x="118.90" y="274.85" width="1.30" height="42.65" fill="#5a9fd8"/>
<rect x="118.90" y="280.50" width="1.30" height="37.00" fill="#83369a"/>
<rect x="120.20" y="286.14" width="1.10" height="31.36" fill="#f3c250"/>
<rect x="120.20" y="292.41" width="1.10" height="25.09" fill="#83369a"/>
<rect x="121.30" y="298.06" width="1.30" height="19.44" fill="#f3c250"/>
<rect x="121.30" y="301.19" width="1.30" height="16.31" fill="#83369a"/>
<rect x="122.60" y="299.31" width="1.40" height="18.19" fill="#5a9fd8"/>
<rect x="122.60" y="303.08" width="1.40" height="14.42" fill="#83369a"/>
<rect x="124.00" y="306.21" width="1.40" height="11.29" fill="#83369a"/>
<rect x="125.40" y="294.30" width="1.30" height="23.20" fill="#de6d3a"/>
<rect x="125.40" y="298.06" width="1.30" height="19.44" fill="#83369a"/>
<rect x="126.70" y="291.16" width="0.80" height="26.34" fill="#de6d3a"/>
<rect x="126.70" y="294.30" width="0.80" height="23.20" fill="#83369a"/>
<rect x="127.50" y="299.31" width="1.40" height="18.19" fill="#de6d3a"/>
<rect x="127.50" y="298.69" width="1.40" height="18.81" fill="#5a9fd8"/>
<rect x="127.50" y="303.08" width="1.40" height="14.42" fill="#83369a"/>
<rect x="128.90" y="309.97" width="1.10" height="7.53" fill="#83369a"/>
<rect x="130.00" y="286.77" width="1.30" height="30.73" fill="#de6d3a"/>
<rect x="130.00" y="291.16" width="1.30" height="26.34" fill="#83369a"/>
<rect x="131.30" y="264.19" width="1.00" height="53.31" fill="#f3c250"/>
<rect x="131.30" y="294.30" width="1.00" height="23.20" fill="#83369a"/>
<rect x="132.30" y="291.79" width="0.90" height="25.71" fill="#83369a"/>
<rect x="133.20" y="262.94" width="1.20" height="54.56" fill="#5a9fd8"/>
<rect x="133.20" y="282.38" width="1.20" height="35.12" fill="#de6d3a"/>
<rect x="133.20" y="286.14" width="1.20" height="31.36" fill="#83369a"/>
<rect x="134.40" y="294.30" width="1.00" height="23.20" fill="#83369a"/>
<rect x="139.50" y="261.06" width="1.40" height="56.44" fill="#83369a"/>
<rect x="140.90" y="251.65" width="1.30" height="65.85" fill="#de6d3a"/>
<rect x="140.90" y="265.45" width="1.30" height="52.05" fill="#83369a"/>
<rect x="142.20" y="254.16" width="1.10" height="63.34" fill="#83369a"/>
<rect x="143.30" y="261.06" width="1.00" height="56.44" fill="#de6d3a"/>
<rect x="143.30" y="268.58" width="1.00" height="48.92" fill="#83369a"/>
<rect x="144.30" y="282.38" width="1.00" height="35.12" fill="#83369a"/>
<rect x="145.30" y="283.01" width="1.40" height="34.49" fill="#f3c250"/>
<rect x="145.30" y="292.41" width="1.40" height="25.09" fill="#83369a"/>
<rect x="146.70" y="284.26" width="1.40" height="33.24" fill="#f3c250"/>
<rect x="146.70" y="294.30" width="1.40" height="23.20" fill="#83369a"/>
<rect x="148.10" y="294.30" width="1.00" height="23.20" fill="#de6d3a"/>
<rect x="148.10" y="303.08" width="1.00" height="14.42" fill="#83369a"/>
<rect x="149.10" y="304.96" width="0.80" height="12.54" fill="#5a9fd8"/>
<rect x="149.10" y="311.23" width="0.80" height="6.27" fill="#83369a"/>
<rect x="149.90" y="299.31" width="1.20" height="18.19" fill="#5a9fd8"/>
<rect x="149.90" y="304.96" width="1.20" height="12.54" fill="#de6d3a"/>
<rect x="149.90" y="309.97" width="1.20" height="7.53" fill="#83369a"/>
<rect x="151.10" y="303.70" width="1.40" height="13.80" fill="#de6d3a"/>
<rect x="151.10" y="308.09" width="1.40" height="9.41" fill="#83369a"/>
<rect x="152.50" y="309.97" width="1.00" height="7.53" fill="#f3c250"/>
<rect x="152.50" y="313.74" width="1.00" height="3.76" fill="#83369a"/>
<rect x="153.50" y="291.16" width="0.90" height="26.34" fill="#de6d3a"/>
<rect x="153.50" y="298.06" width="0.90" height="19.44" fill="#83369a"/>
<rect x="154.40" y="280.50" width="1.50" height="37.00" fill="#5a9fd8"/>
<rect x="154.40" y="289.28" width="1.50" height="28.22" fill="#de6d3a"/>
<rect x="154.40" y="294.30" width="1.50" height="23.20" fill="#83369a"/>
<rect x="155.90" y="292.41" width="1.40" height="25.09" fill="#de6d3a"/>
<rect x="155.90" y="296.18" width="1.40" height="21.32" fill="#83369a"/>
<rect x="157.30" y="296.18" width="1.00" height="21.32" fill="#f3c250"/>
<rect x="157.30" y="301.19" width="1.00" height="16.31" fill="#83369a"/>
<rect x="166.80" y="286.14" width="1.40" height="31.36" fill="#83369a"/>
<rect x="168.20" y="292.41" width="1.40" height="25.09" fill="#de6d3a"/>
<rect x="168.20" y="296.18" width="1.40" height="21.32" fill="#83369a"/>
<rect x="169.60" y="284.26" width="1.30" height="33.24" fill="#b07cc0"/>
<rect x="169.60" y="291.16" width="1.30" height="26.34" fill="#5a9fd8"/>
<rect x="169.60" y="292.41" width="1.30" height="25.09" fill="#83369a"/>
<rect x="170.90" y="288.65" width="1.10" height="28.85" fill="#f3c250"/>
<rect x="170.90" y="298.06" width="1.10" height="19.44" fill="#83369a"/>
<rect x="173.60" y="313.11" width="1.40" height="4.39" fill="#5a9fd8"/>
<rect x="30.16" y="267.14" width="0.49" height="50.36" fill="#e3a040"/>
<rect x="30.64" y="290.37" width="0.39" height="27.13" fill="#5f8fd0"/>
<rect x="31.95" y="293.88" width="0.39" height="23.62" fill="#d0603c"/>
<rect x="33.00" y="288.87" width="0.30" height="28.63" fill="#d0603c"/>
<rect x="34.06" y="304.14" width="0.45" height="13.36" fill="#d0603c"/>
<rect x="38.86" y="299.16" width="0.42" height="18.34" fill="#d0603c"/>
<rect x="39.67" y="292.26" width="0.34" height="25.24" fill="#d0603c"/>
<rect x="42.07" y="288.66" width="0.34" height="28.84" fill="#e3a040"/>
<rect x="43.10" y="286.87" width="0.44" height="30.63" fill="#d0603c"/>
<rect x="43.37" y="297.76" width="0.37" height="19.74" fill="#e3a040"/>
<rect x="45.84" y="310.82" width="0.36" height="6.68" fill="#e3a040"/>
<rect x="53.67" y="296.86" width="0.37" height="20.64" fill="#5f8fd0"/>
<rect x="53.45" y="299.50" width="0.36" height="18.00" fill="#e3a040"/>
<rect x="55.01" y="287.42" width="0.50" height="30.08" fill="#d0603c"/>
<rect x="57.86" y="258.94" width="0.30" height="58.56" fill="#e3a040"/>
<rect x="58.67" y="264.35" width="0.39" height="53.15" fill="#5f8fd0"/>
<rect x="59.86" y="287.64" width="0.35" height="29.86" fill="#d0603c"/>
<rect x="60.44" y="280.81" width="0.37" height="36.69" fill="#e3a040"/>
<rect x="61.25" y="289.88" width="0.45" height="27.62" fill="#e3a040"/>
<rect x="61.80" y="291.91" width="0.49" height="25.59" fill="#e3a040"/>
<rect x="62.61" y="283.32" width="0.48" height="34.18" fill="#5f8fd0"/>
<rect x="64.05" y="288.06" width="0.36" height="29.44" fill="#a060b8"/>
<rect x="65.41" y="284.41" width="0.44" height="33.09" fill="#d0603c"/>
<rect x="67.50" y="290.10" width="0.32" height="27.40" fill="#d0603c"/>
<rect x="68.38" y="301.11" width="0.45" height="16.39" fill="#e3a040"/>
<rect x="68.21" y="293.37" width="0.38" height="24.13" fill="#e3a040"/>
<rect x="70.18" y="302.86" width="0.40" height="14.64" fill="#a060b8"/>
<rect x="70.73" y="297.92" width="0.33" height="19.58" fill="#a060b8"/>
<rect x="73.27" y="299.33" width="0.31" height="18.17" fill="#e3a040"/>
<rect x="74.59" y="286.61" width="0.42" height="30.89" fill="#e3a040"/>
<rect x="76.97" y="290.71" width="0.44" height="26.79" fill="#e3a040"/>
<rect x="77.88" y="292.68" width="0.48" height="24.82" fill="#e3a040"/>
<rect x="79.10" y="287.74" width="0.43" height="29.76" fill="#5f8fd0"/>
<rect x="85.27" y="285.13" width="0.35" height="32.37" fill="#d0603c"/>
<rect x="86.58" y="281.16" width="0.46" height="36.34" fill="#e3a040"/>
<rect x="86.12" y="257.65" width="0.45" height="59.85" fill="#5f8fd0"/>
<rect x="87.66" y="273.02" width="0.40" height="44.48" fill="#a060b8"/>
<rect x="88.93" y="274.51" width="0.42" height="42.99" fill="#e3a040"/>
<rect x="88.51" y="271.00" width="0.37" height="46.50" fill="#5f8fd0"/>
<rect x="89.78" y="302.21" width="0.46" height="15.29" fill="#5f8fd0"/>
<rect x="90.69" y="289.79" width="0.47" height="27.71" fill="#e3a040"/>
<rect x="91.88" y="296.56" width="0.44" height="20.94" fill="#d0603c"/>
<rect x="92.87" y="296.48" width="0.50" height="21.02" fill="#5f8fd0"/>
<rect x="94.05" y="308.89" width="0.32" height="8.61" fill="#e3a040"/>
<rect x="98.06" y="303.48" width="0.49" height="14.02" fill="#d0603c"/>
<rect x="97.86" y="306.45" width="0.41" height="11.05" fill="#e3a040"/>
<rect x="98.97" y="304.70" width="0.42" height="12.80" fill="#d0603c"/>
<rect x="99.32" y="304.42" width="0.44" height="13.08" fill="#d0603c"/>
<rect x="100.82" y="278.99" width="0.33" height="38.51" fill="#e3a040"/>
<rect x="100.99" y="292.81" width="0.34" height="24.69" fill="#d0603c"/>
<rect x="101.99" y="284.52" width="0.38" height="32.98" fill="#e3a040"/>
<rect x="102.87" y="290.88" width="0.48" height="26.62" fill="#d0603c"/>
<rect x="102.80" y="273.64" width="0.47" height="43.86" fill="#e3a040"/>
<rect x="104.89" y="288.81" width="0.31" height="28.69" fill="#5f8fd0"/>
<rect x="105.87" y="288.52" width="0.37" height="28.98" fill="#e3a040"/>
<rect x="106.12" y="282.90" width="0.38" height="34.60" fill="#e3a040"/>
<rect x="107.54" y="289.68" width="0.33" height="27.82" fill="#e3a040"/>
<rect x="107.28" y="279.46" width="0.49" height="38.04" fill="#e3a040"/>
<rect x="108.38" y="304.79" width="0.32" height="12.71" fill="#a060b8"/>
<rect x="108.81" y="296.88" width="0.37" height="20.62" fill="#5f8fd0"/>
<rect x="109.98" y="296.47" width="0.40" height="21.03" fill="#e3a040"/>
<rect x="110.08" y="303.29" width="0.49" height="14.21" fill="#a060b8"/>
<rect x="112.64" y="291.31" width="0.36" height="26.19" fill="#e3a040"/>
<rect x="113.65" y="272.63" width="0.36" height="44.87" fill="#e3a040"/>
<rect x="114.46" y="299.47" width="0.42" height="18.03" fill="#d0603c"/>
<rect x="115.32" y="271.84" width="0.47" height="45.66" fill="#d0603c"/>
<rect x="116.58" y="293.72" width="0.49" height="23.78" fill="#5f8fd0"/>
<rect x="117.75" y="280.15" width="0.44" height="37.35" fill="#e3a040"/>
<rect x="119.16" y="276.30" width="0.40" height="41.20" fill="#5f8fd0"/>
<rect x="120.82" y="303.13" width="0.33" height="14.37" fill="#d0603c"/>
<rect x="120.40" y="297.91" width="0.36" height="19.59" fill="#a060b8"/>
<rect x="121.32" y="305.10" width="0.45" height="12.40" fill="#e3a040"/>
<rect x="121.83" y="308.72" width="0.41" height="8.78" fill="#d0603c"/>
<rect x="123.52" y="304.16" width="0.30" height="13.34" fill="#a060b8"/>
<rect x="123.38" y="303.69" width="0.44" height="13.81" fill="#e3a040"/>
<rect x="125.98" y="301.32" width="0.44" height="16.18" fill="#e3a040"/>
<rect x="126.05" y="301.45" width="0.45" height="16.05" fill="#e3a040"/>
<rect x="127.03" y="294.98" width="0.42" height="22.52" fill="#a060b8"/>
<rect x="128.28" y="307.64" width="0.40" height="9.86" fill="#e3a040"/>
<rect x="128.05" y="299.52" width="0.41" height="17.98" fill="#e3a040"/>
<rect x="130.53" y="302.58" width="0.35" height="14.92" fill="#d0603c"/>
<rect x="131.78" y="267.40" width="0.37" height="50.10" fill="#a060b8"/>
<rect x="132.79" y="296.55" width="0.31" height="20.95" fill="#e3a040"/>
<rect x="133.38" y="269.56" width="0.32" height="47.94" fill="#a060b8"/>
<rect x="135.00" y="295.98" width="0.33" height="21.52" fill="#a060b8"/>
<rect x="139.69" y="290.13" width="0.34" height="27.37" fill="#d0603c"/>
<rect x="140.06" y="280.97" width="0.31" height="36.53" fill="#a060b8"/>
<rect x="141.41" y="262.45" width="0.48" height="55.05" fill="#d0603c"/>
<rect x="142.21" y="278.64" width="0.42" height="38.86" fill="#d0603c"/>
<rect x="143.51" y="281.12" width="0.31" height="36.38" fill="#a060b8"/>
<rect x="144.48" y="290.17" width="0.40" height="27.33" fill="#5f8fd0"/>
<rect x="144.85" y="291.65" width="0.34" height="25.85" fill="#5f8fd0"/>
<rect x="145.85" y="287.04" width="0.36" height="30.46" fill="#e3a040"/>
<rect x="147.51" y="294.71" width="0.38" height="22.79" fill="#e3a040"/>
<rect x="148.53" y="302.94" width="0.41" height="14.56" fill="#a060b8"/>
<rect x="149.97" y="304.53" width="0.39" height="12.97" fill="#d0603c"/>
<rect x="151.98" y="304.38" width="0.32" height="13.12" fill="#e3a040"/>
<rect x="153.51" y="300.38" width="0.47" height="17.12" fill="#a060b8"/>
<rect x="153.97" y="296.32" width="0.34" height="21.18" fill="#e3a040"/>
<rect x="154.49" y="291.39" width="0.34" height="26.11" fill="#a060b8"/>
<rect x="156.52" y="295.31" width="0.36" height="22.19" fill="#e3a040"/>
<rect x="156.83" y="301.66" width="0.38" height="15.84" fill="#a060b8"/>
<rect x="157.73" y="300.72" width="0.46" height="16.78" fill="#e3a040"/>
<rect x="167.76" y="294.95" width="0.42" height="22.55" fill="#e3a040"/>
<rect x="168.41" y="301.05" width="0.32" height="16.45" fill="#d0603c"/>
<rect x="168.23" y="303.66" width="0.40" height="13.84" fill="#d0603c"/>
<rect x="170.20" y="302.54" width="0.39" height="14.96" fill="#e3a040"/>
<rect x="171.55" y="297.53" width="0.32" height="19.97" fill="#e3a040"/>
<rect x="171.01" y="303.45" width="0.47" height="14.05" fill="#d0603c"/>
<rect x="29.6" y="229.7" width="146.80" height="87.80" fill="none" stroke="#666" stroke-width="0.45"/>
<path d="M29.60 317.5v-1.2M29.60 229.7v1.2" stroke="#555" stroke-width="0.4"/>
<text transform="translate(29.60 323.40) scale(1.32 1)" font-size="4.0" text-anchor="middle" font-weight="normal" fill="#383838">0</text>
<path d="M47.52 317.5v-1.2M47.52 229.7v1.2" stroke="#555" stroke-width="0.4"/>
<text transform="translate(47.52 323.40) scale(1.32 1)" font-size="4.0" text-anchor="middle" font-weight="normal" fill="#383838">500</text>
<path d="M65.43 317.5v-1.2M65.43 229.7v1.2" stroke="#555" stroke-width="0.4"/>
<text transform="translate(65.43 323.40) scale(1.32 1)" font-size="4.0" text-anchor="middle" font-weight="normal" fill="#383838">1000</text>
<path d="M83.35 317.5v-1.2M83.35 229.7v1.2" stroke="#555" stroke-width="0.4"/>
<text transform="translate(83.35 323.40) scale(1.32 1)" font-size="4.0" text-anchor="middle" font-weight="normal" fill="#383838">1500</text>
<path d="M101.26 317.5v-1.2M101.26 229.7v1.2" stroke="#555" stroke-width="0.4"/>
<text transform="translate(101.26 323.40) scale(1.32 1)" font-size="4.0" text-anchor="middle" font-weight="normal" fill="#383838">2000</text>
<path d="M119.18 317.5v-1.2M119.18 229.7v1.2" stroke="#555" stroke-width="0.4"/>
<text transform="translate(119.18 323.40) scale(1.32 1)" font-size="4.0" text-anchor="middle" font-weight="normal" fill="#383838">2500</text>
<path d="M137.09 317.5v-1.2M137.09 229.7v1.2" stroke="#555" stroke-width="0.4"/>
<text transform="translate(137.09 323.40) scale(1.32 1)" font-size="4.0" text-anchor="middle" font-weight="normal" fill="#383838">3000</text>
<path d="M155.01 317.5v-1.2M155.01 229.7v1.2" stroke="#555" stroke-width="0.4"/>
<text transform="translate(155.01 323.40) scale(1.32 1)" font-size="4.0" text-anchor="middle" font-weight="normal" fill="#383838">3500</text>
<path d="M172.92 317.5v-1.2M172.92 229.7v1.2" stroke="#555" stroke-width="0.4"/>
<text transform="translate(172.92 323.40) scale(1.32 1)" font-size="4.0" text-anchor="middle" font-weight="normal" fill="#383838">4000</text>
<path d="M29.6 317.50h1.2M176.4 317.50h-1.2" stroke="#555" stroke-width="0.4"/>
<text transform="translate(28.60 318.85) scale(1.32 1)" font-size="4.0" text-anchor="end" font-weight="normal" fill="#383838">0</text>
<path d="M29.6 304.96h1.2M176.4 304.96h-1.2" stroke="#555" stroke-width="0.4"/>
<text transform="translate(28.60 306.31) scale(1.32 1)" font-size="4.0" text-anchor="end" font-weight="normal" fill="#383838">0.2</text>
<path d="M29.6 292.41h1.2M176.4 292.41h-1.2" stroke="#555" stroke-width="0.4"/>
<text transform="translate(28.60 293.76) scale(1.32 1)" font-size="4.0" text-anchor="end" font-weight="normal" fill="#383838">0.4</text>
<path d="M29.6 279.87h1.2M176.4 279.87h-1.2" stroke="#555" stroke-width="0.4"/>
<text transform="translate(28.60 281.22) scale(1.32 1)" font-size="4.0" text-anchor="end" font-weight="normal" fill="#383838">0.6</text>
<path d="M29.6 267.33h1.2M176.4 267.33h-1.2" stroke="#555" stroke-width="0.4"/>
<text transform="translate(28.60 268.68) scale(1.32 1)" font-size="4.0" text-anchor="end" font-weight="normal" fill="#383838">0.8</text>
<path d="M29.6 254.79h1.2M176.4 254.79h-1.2" stroke="#555" stroke-width="0.4"/>
<text transform="translate(28.60 256.14) scale(1.32 1)" font-size="4.0" text-anchor="end" font-weight="normal" fill="#383838">1</text>
<path d="M29.6 242.24h1.2M176.4 242.24h-1.2" stroke="#555" stroke-width="0.4"/>
<text transform="translate(28.60 243.59) scale(1.32 1)" font-size="4.0" text-anchor="end" font-weight="normal" fill="#383838">1.2</text>
<path d="M29.6 229.70h1.2M176.4 229.70h-1.2" stroke="#555" stroke-width="0.4"/>
<text transform="translate(28.60 231.05) scale(1.32 1)" font-size="4.0" text-anchor="end" font-weight="normal" fill="#383838">1.4</text>
<text transform="translate(105.00 328.10) scale(1.32 1)" font-size="4.35" text-anchor="middle" font-weight="normal" fill="#333">Feature number</text>
<text transform="translate(18.90 272.30) rotate(-90) scale(1 1.32)" font-size="4.35" text-anchor="middle" font-weight="normal" fill="#333">Feature value</text>
<text transform="translate(108.00 228.40) scale(1.32 1)" font-size="4.55" text-anchor="middle" font-weight="bold" fill="#000">Features after Layer 10</text>
<text transform="translate(7.40 326.55) scale(1.4 1)" font-size="7.0" text-anchor="start" font-weight="bold" fill="#000" font-family="'DejaVu Sans','Liberation Sans',sans-serif" letter-spacing="0.3">(e)</text>
<rect x="34.6" y="230.9" width="39.2" height="18.1" fill="#fff" stroke="#444" stroke-width="0.4"/>
<rect x="35.800000000000004" y="231.98" width="13.8" height="2.9" fill="#0072bd"/>
<text transform="translate(50.50 234.63) scale(1.32 1)" font-size="3.4" text-anchor="start" font-weight="normal" fill="#222">Best HVHA</text>
<rect x="35.800000000000004" y="236.33" width="13.8" height="2.9" fill="#d95319"/>
<text transform="translate(50.50 238.98) scale(1.32 1)" font-size="3.4" text-anchor="start" font-weight="normal" fill="#222">Best HVLA</text>
<rect x="35.800000000000004" y="240.67" width="13.8" height="2.9" fill="#edb120"/>
<text transform="translate(50.50 243.32) scale(1.32 1)" font-size="3.4" text-anchor="start" font-weight="normal" fill="#222">Best LVHA</text>
<rect x="35.800000000000004" y="245.01" width="13.8" height="2.9" fill="#7e2f8e"/>
<text transform="translate(50.50 247.66) scale(1.32 1)" font-size="3.4" text-anchor="start" font-weight="normal" fill="#222">Best LVLA</text>
<g>
<path d="M224.4 279.9V279.7H225.8V279.9ZM227.9 279.9V280.3H229.2V279.9ZM229.0 279.9V295.6H230.4V279.9ZM230.1 279.9V279.5H231.5V279.9ZM232.4 279.9V279.8H233.8V279.9ZM234.7 279.9V279.6H236.1V279.9ZM237.0 279.9V279.6H238.4V279.9ZM238.2 279.9V280.2H239.5V279.9ZM240.4 279.9V289.6H241.8V279.9ZM241.6 279.9V279.7H243.0V279.9ZM242.7 279.9V279.9H244.1V279.9ZM243.9 279.9V279.5H245.2V279.9ZM245.0 279.9V280.0H246.4V279.9ZM247.3 279.9V284.9H248.7V279.9ZM250.7 279.9V302.1H252.1V279.9ZM256.5 279.9V280.0H257.8V279.9ZM257.6 279.9V279.8H259.0V279.9ZM261.0 279.9V279.2H262.4V279.9ZM263.3 279.9V279.8H264.7V279.9ZM264.5 279.9V279.9H265.8V279.9ZM265.6 279.9V280.2H267.0V279.9ZM266.7 279.9V279.2H268.1V279.9ZM272.5 279.9V279.8H273.8V279.9ZM274.7 279.9V280.0H276.1V279.9ZM275.9 279.9V280.2H277.3V279.9ZM277.0 279.9V279.4H278.4V279.9ZM278.2 279.9V280.3H279.5V279.9ZM280.5 279.9V291.2H281.8V279.9ZM281.6 279.9V279.7H283.0V279.9ZM285.0 279.9V279.8H286.4V279.9ZM286.2 279.9V279.6H287.6V279.9ZM288.5 279.9V279.6H289.8V279.9ZM291.9 279.9V280.1H293.3V279.9ZM294.2 279.9V279.6H295.6V279.9ZM295.3 279.9V279.7H296.7V279.9ZM296.5 279.9V279.9H297.8V279.9ZM298.8 279.9V279.5H300.1V279.9ZM299.9 279.9V279.5H301.3V279.9ZM301.0 279.9V279.4H302.4V279.9ZM302.2 279.9V263.6H303.6V279.9ZM305.6 279.9V279.5H307.0V279.9ZM307.9 279.9V280.1H309.3V279.9ZM309.1 279.9V280.3H310.4V279.9ZM311.3 279.9V280.1H312.7V279.9ZM314.8 279.9V279.5H316.1V279.9ZM317.1 279.9V280.0H318.4V279.9ZM318.2 279.9V279.8H319.6V279.9ZM319.3 279.9V279.6H320.7V279.9ZM320.5 279.9V280.0H321.9V279.9ZM323.9 279.9V279.9H325.3V279.9ZM325.1 279.9V279.5H326.4V279.9ZM326.2 279.9V280.0H327.6V279.9ZM328.5 279.9V280.2H329.9V279.9ZM329.6 279.9V280.0H331.0V279.9ZM331.9 279.9V296.2H333.3V279.9ZM334.2 279.9V279.5H335.6V279.9ZM337.6 279.9V279.5H339.0V279.9ZM338.8 279.9V279.9H340.2V279.9ZM341.1 279.9V280.0H342.4V279.9ZM342.2 279.9V284.9H343.6V279.9ZM345.6 279.9V279.6H347.0V279.9ZM346.8 279.9V279.8H348.2V279.9ZM347.9 279.9V279.9H349.3V279.9ZM349.1 279.9V279.7H350.4V279.9ZM350.2 279.9V279.9H351.6V279.9ZM351.4 279.9V280.0H352.7V279.9ZM358.2 279.9V279.8H359.6V279.9ZM360.5 279.9V279.7H361.9V279.9ZM361.7 279.9V304.0H363.0V279.9ZM362.8 279.9V280.0H364.2V279.9ZM363.9 279.9V279.7H365.3V279.9ZM365.1 279.9V280.0H366.0V279.9Z" fill="#005084"/>
<path d="M224.4 279.9V279.7H225.8V279.9M227.9 279.9V280.3H229.2V279.9M229.0 279.9V295.6H230.4V279.9M230.1 279.9V279.5H231.5V279.9M232.4 279.9V279.8H233.8V279.9M234.7 279.9V279.6H236.1V279.9M237.0 279.9V279.6H238.4V279.9M238.2 279.9V280.2H239.5V279.9M240.4 279.9V289.6H241.8V279.9M241.6 279.9V279.7H243.0V279.9M242.7 279.9V279.9H244.1V279.9M243.9 279.9V279.5H245.2V279.9M245.0 279.9V280.0H246.4V279.9M247.3 279.9V284.9H248.7V279.9M250.7 279.9V302.1H252.1V279.9M256.5 279.9V280.0H257.8V279.9M257.6 279.9V279.8H259.0V279.9M261.0 279.9V279.2H262.4V279.9M263.3 279.9V279.8H264.7V279.9M264.5 279.9V279.9H265.8V279.9M265.6 279.9V280.2H267.0V279.9M266.7 279.9V279.2H268.1V279.9M272.5 279.9V279.8H273.8V279.9M274.7 279.9V280.0H276.1V279.9M275.9 279.9V280.2H277.3V279.9M277.0 279.9V279.4H278.4V279.9M278.2 279.9V280.3H279.5V279.9M280.5 279.9V291.2H281.8V279.9M281.6 279.9V279.7H283.0V279.9M285.0 279.9V279.8H286.4V279.9M286.2 279.9V279.6H287.6V279.9M288.5 279.9V279.6H289.8V279.9M291.9 279.9V280.1H293.3V279.9M294.2 279.9V279.6H295.6V279.9M295.3 279.9V279.7H296.7V279.9M296.5 279.9V279.9H297.8V279.9M298.8 279.9V279.5H300.1V279.9M299.9 279.9V279.5H301.3V279.9M301.0 279.9V279.4H302.4V279.9M302.2 279.9V263.6H303.6V279.9M305.6 279.9V279.5H307.0V279.9M307.9 279.9V280.1H309.3V279.9M309.1 279.9V280.3H310.4V279.9M311.3 279.9V280.1H312.7V279.9M314.8 279.9V279.5H316.1V279.9M317.1 279.9V280.0H318.4V279.9M318.2 279.9V279.8H319.6V279.9M319.3 279.9V279.6H320.7V279.9M320.5 279.9V280.0H321.9V279.9M323.9 279.9V279.9H325.3V279.9M325.1 279.9V279.5H326.4V279.9M326.2 279.9V280.0H327.6V279.9M328.5 279.9V280.2H329.9V279.9M329.6 279.9V280.0H331.0V279.9M331.9 279.9V296.2H333.3V279.9M334.2 279.9V279.5H335.6V279.9M337.6 279.9V279.5H339.0V279.9M338.8 279.9V279.9H340.2V279.9M341.1 279.9V280.0H342.4V279.9M342.2 279.9V284.9H343.6V279.9M345.6 279.9V279.6H347.0V279.9M346.8 279.9V279.8H348.2V279.9M347.9 279.9V279.9H349.3V279.9M349.1 279.9V279.7H350.4V279.9M350.2 279.9V279.9H351.6V279.9M351.4 279.9V280.0H352.7V279.9M358.2 279.9V279.8H359.6V279.9M360.5 279.9V279.7H361.9V279.9M361.7 279.9V304.0H363.0V279.9M362.8 279.9V280.0H364.2V279.9M363.9 279.9V279.7H365.3V279.9M365.1 279.9V280.0H366.0V279.9" fill="none" stroke="#000" stroke-opacity="0.55" stroke-width="0.4"/>
<path d="M222.1 279.9V280.1H223.5V279.9ZM223.3 279.9V305.0H224.7V279.9ZM224.4 279.9V284.9H225.8V279.9ZM225.6 279.9V286.8H226.9V279.9ZM226.7 279.9V280.2H228.1V279.9ZM227.9 279.9V280.1H229.2V279.9ZM230.1 279.9V280.2H231.5V279.9ZM231.3 279.9V279.3H232.7V279.9ZM234.7 279.9V280.4H236.1V279.9ZM235.9 279.9V275.2H237.2V279.9ZM237.0 279.9V275.5H238.4V279.9ZM238.2 279.9V286.1H239.5V279.9ZM240.4 279.9V280.2H241.8V279.9ZM241.6 279.9V280.0H243.0V279.9ZM243.9 279.9V280.0H245.2V279.9ZM245.0 279.9V279.8H246.4V279.9ZM246.2 279.9V279.5H247.5V279.9ZM248.4 279.9V278.0H249.8V279.9ZM250.7 279.9V280.0H252.1V279.9ZM251.9 279.9V298.7H253.2V279.9ZM253.0 279.9V279.8H254.4V279.9ZM254.2 279.9V279.7H255.5V279.9ZM256.5 279.9V280.0H257.8V279.9ZM257.6 279.9V279.6H259.0V279.9ZM258.7 279.9V279.5H260.1V279.9ZM259.9 279.9V279.8H261.3V279.9ZM262.2 279.9V280.3H263.5V279.9ZM264.5 279.9V279.8H265.8V279.9ZM265.6 279.9V280.0H267.0V279.9ZM266.7 279.9V279.3H268.1V279.9ZM271.3 279.9V284.9H272.7V279.9ZM273.6 279.9V273.6H275.0V279.9ZM274.7 279.9V279.7H276.1V279.9ZM277.0 279.9V279.7H278.4V279.9ZM278.2 279.9V280.2H279.5V279.9ZM281.6 279.9V284.9H283.0V279.9ZM285.0 279.9V280.2H286.4V279.9ZM287.3 279.9V279.6H288.7V279.9ZM290.8 279.9V280.3H292.1V279.9ZM293.0 279.9V279.2H294.4V279.9ZM294.2 279.9V273.6H295.6V279.9ZM296.5 279.9V279.8H297.8V279.9ZM298.8 279.9V248.2H300.1V279.9ZM299.9 279.9V280.2H301.3V279.9ZM301.0 279.9V279.9H302.4V279.9ZM302.2 279.9V279.6H303.6V279.9ZM303.3 279.9V279.8H304.7V279.9ZM304.5 279.9V279.8H305.9V279.9ZM305.6 279.9V279.6H307.0V279.9ZM306.8 279.9V280.0H308.1V279.9ZM309.1 279.9V279.6H310.4V279.9ZM311.3 279.9V279.6H312.7V279.9ZM312.5 279.9V280.2H313.9V279.9ZM313.6 279.9V279.6H315.0V279.9ZM317.1 279.9V280.0H318.4V279.9ZM318.2 279.9V277.0H319.6V279.9ZM319.3 279.9V280.0H320.7V279.9ZM320.5 279.9V280.3H321.9V279.9ZM321.6 279.9V279.2H323.0V279.9ZM322.8 279.9V270.8H324.1V279.9ZM325.1 279.9V279.7H326.4V279.9ZM327.3 279.9V289.6H328.7V279.9ZM328.5 279.9V280.3H329.9V279.9ZM331.9 279.9V280.0H333.3V279.9ZM333.1 279.9V279.8H334.4V279.9ZM334.2 279.9V280.0H335.6V279.9ZM335.4 279.9V279.8H336.7V279.9ZM336.5 279.9V279.7H337.9V279.9ZM337.6 279.9V287.7H339.0V279.9ZM339.9 279.9V279.6H341.3V279.9ZM343.4 279.9V280.3H344.7V279.9ZM346.8 279.9V294.9H348.2V279.9ZM347.9 279.9V280.2H349.3V279.9ZM350.2 279.9V279.9H351.6V279.9ZM351.4 279.9V278.0H352.7V279.9ZM352.5 279.9V279.8H353.9V279.9ZM353.6 279.9V279.5H355.0V279.9ZM354.8 279.9V279.1H356.2V279.9ZM358.2 279.9V279.7H359.6V279.9ZM359.4 279.9V279.4H360.7V279.9ZM361.7 279.9V241.6H363.0V279.9Z" fill="#983a12"/>
<path d="M222.1 279.9V280.1H223.5V279.9M223.3 279.9V305.0H224.7V279.9M224.4 279.9V284.9H225.8V279.9M225.6 279.9V286.8H226.9V279.9M226.7 279.9V280.2H228.1V279.9M227.9 279.9V280.1H229.2V279.9M230.1 279.9V280.2H231.5V279.9M231.3 279.9V279.3H232.7V279.9M234.7 279.9V280.4H236.1V279.9M235.9 279.9V275.2H237.2V279.9M237.0 279.9V275.5H238.4V279.9M238.2 279.9V286.1H239.5V279.9M240.4 279.9V280.2H241.8V279.9M241.6 279.9V280.0H243.0V279.9M243.9 279.9V280.0H245.2V279.9M245.0 279.9V279.8H246.4V279.9M246.2 279.9V279.5H247.5V279.9M248.4 279.9V278.0H249.8V279.9M250.7 279.9V280.0H252.1V279.9M251.9 279.9V298.7H253.2V279.9M253.0 279.9V279.8H254.4V279.9M254.2 279.9V279.7H255.5V279.9M256.5 279.9V280.0H257.8V279.9M257.6 279.9V279.6H259.0V279.9M258.7 279.9V279.5H260.1V279.9M259.9 279.9V279.8H261.3V279.9M262.2 279.9V280.3H263.5V279.9M264.5 279.9V279.8H265.8V279.9M265.6 279.9V280.0H267.0V279.9M266.7 279.9V279.3H268.1V279.9M271.3 279.9V284.9H272.7V279.9M273.6 279.9V273.6H275.0V279.9M274.7 279.9V279.7H276.1V279.9M277.0 279.9V279.7H278.4V279.9M278.2 279.9V280.2H279.5V279.9M281.6 279.9V284.9H283.0V279.9M285.0 279.9V280.2H286.4V279.9M287.3 279.9V279.6H288.7V279.9M290.8 279.9V280.3H292.1V279.9M293.0 279.9V279.2H294.4V279.9M294.2 279.9V273.6H295.6V279.9M296.5 279.9V279.8H297.8V279.9M298.8 279.9V248.2H300.1V279.9M299.9 279.9V280.2H301.3V279.9M301.0 279.9V279.9H302.4V279.9M302.2 279.9V279.6H303.6V279.9M303.3 279.9V279.8H304.7V279.9M304.5 279.9V279.8H305.9V279.9M305.6 279.9V279.6H307.0V279.9M306.8 279.9V280.0H308.1V279.9M309.1 279.9V279.6H310.4V279.9M311.3 279.9V279.6H312.7V279.9M312.5 279.9V280.2H313.9V279.9M313.6 279.9V279.6H315.0V279.9M317.1 279.9V280.0H318.4V279.9M318.2 279.9V277.0H319.6V279.9M319.3 279.9V280.0H320.7V279.9M320.5 279.9V280.3H321.9V279.9M321.6 279.9V279.2H323.0V279.9M322.8 279.9V270.8H324.1V279.9M325.1 279.9V279.7H326.4V279.9M327.3 279.9V289.6H328.7V279.9M328.5 279.9V280.3H329.9V279.9M331.9 279.9V280.0H333.3V279.9M333.1 279.9V279.8H334.4V279.9M334.2 279.9V280.0H335.6V279.9M335.4 279.9V279.8H336.7V279.9M336.5 279.9V279.7H337.9V279.9M337.6 279.9V287.7H339.0V279.9M339.9 279.9V279.6H341.3V279.9M343.4 279.9V280.3H344.7V279.9M346.8 279.9V294.9H348.2V279.9M347.9 279.9V280.2H349.3V279.9M350.2 279.9V279.9H351.6V279.9M351.4 279.9V278.0H352.7V279.9M352.5 279.9V279.8H353.9V279.9M353.6 279.9V279.5H355.0V279.9M354.8 279.9V279.1H356.2V279.9M358.2 279.9V279.7H359.6V279.9M359.4 279.9V279.4H360.7V279.9M361.7 279.9V241.6H363.0V279.9" fill="none" stroke="#000" stroke-opacity="0.55" stroke-width="0.4"/>
<path d="M221.0 279.9V279.8H222.4V279.9ZM222.1 279.9V242.9H223.5V279.9ZM224.4 279.9V279.7H225.8V279.9ZM225.6 279.9V279.4H226.9V279.9ZM226.7 279.9V242.9H228.1V279.9ZM227.9 279.9V277.0H229.2V279.9ZM229.0 279.9V279.8H230.4V279.9ZM231.3 279.9V280.0H232.7V279.9ZM234.7 279.9V280.0H236.1V279.9ZM235.9 279.9V279.8H237.2V279.9ZM237.0 279.9V279.7H238.4V279.9ZM238.2 279.9V279.8H239.5V279.9ZM241.6 279.9V279.8H243.0V279.9ZM245.0 279.9V280.2H246.4V279.9ZM246.2 279.9V279.6H247.5V279.9ZM247.3 279.9V279.8H248.7V279.9ZM249.6 279.9V279.2H251.0V279.9ZM250.7 279.9V279.4H252.1V279.9ZM253.0 279.9V279.9H254.4V279.9ZM254.2 279.9V279.8H255.5V279.9ZM255.3 279.9V279.9H256.7V279.9ZM256.5 279.9V267.3H257.8V279.9ZM257.6 279.9V279.5H259.0V279.9ZM258.7 279.9V280.0H260.1V279.9ZM259.9 279.9V279.6H261.3V279.9ZM261.0 279.9V277.0H262.4V279.9ZM262.2 279.9V280.6H263.5V279.9ZM263.3 279.9V279.8H264.7V279.9ZM265.6 279.9V280.5H267.0V279.9ZM271.3 279.9V279.3H272.7V279.9ZM272.5 279.9V274.2H273.8V279.9ZM273.6 279.9V279.8H275.0V279.9ZM274.7 279.9V279.6H276.1V279.9ZM275.9 279.9V286.8H277.3V279.9ZM275.9 279.9V275.2H277.3V279.9ZM279.3 279.9V279.5H280.7V279.9ZM281.6 279.9V279.6H283.0V279.9ZM283.9 279.9V279.8H285.3V279.9ZM286.2 279.9V280.2H287.6V279.9ZM287.3 279.9V279.5H288.7V279.9ZM289.6 279.9V281.8H291.0V279.9ZM290.8 279.9V280.1H292.1V279.9ZM294.2 279.9V279.8H295.6V279.9ZM295.3 279.9V280.1H296.7V279.9ZM298.8 279.9V304.3H300.1V279.9ZM299.9 279.9V271.7H301.3V279.9ZM302.2 279.9V280.1H303.6V279.9ZM303.3 279.9V287.7H304.7V279.9ZM305.6 279.9V279.2H307.0V279.9ZM306.8 279.9V280.2H308.1V279.9ZM307.9 279.9V267.3H309.3V279.9ZM309.1 279.9V279.9H310.4V279.9ZM310.2 279.9V280.0H311.6V279.9ZM311.3 279.9V279.7H312.7V279.9ZM313.6 279.9V280.0H315.0V279.9ZM314.8 279.9V279.8H316.1V279.9ZM319.3 279.9V280.0H320.7V279.9ZM320.5 279.9V280.0H321.9V279.9ZM321.6 279.9V292.4H323.0V279.9ZM323.9 279.9V280.2H325.3V279.9ZM325.1 279.9V280.0H326.4V279.9ZM326.2 279.9V279.6H327.6V279.9ZM328.5 279.9V279.3H329.9V279.9ZM329.6 279.9V284.9H331.0V279.9ZM330.8 279.9V280.2H332.2V279.9ZM331.9 279.9V279.7H333.3V279.9ZM334.2 279.9V277.4H335.6V279.9ZM335.4 279.9V280.1H336.7V279.9ZM336.5 279.9V279.7H337.9V279.9ZM337.6 279.9V273.0H339.0V279.9ZM341.1 279.9V279.8H342.4V279.9ZM342.2 279.9V279.9H343.6V279.9ZM343.4 279.9V280.1H344.7V279.9ZM345.6 279.9V280.0H347.0V279.9ZM347.9 279.9V279.9H349.3V279.9ZM351.4 279.9V279.7H352.7V279.9ZM354.8 279.9V279.5H356.2V279.9ZM355.9 279.9V279.7H357.3V279.9ZM358.2 279.9V279.8H359.6V279.9ZM359.4 279.9V279.5H360.7V279.9ZM360.5 279.9V280.1H361.9V279.9ZM361.7 279.9V280.0H363.0V279.9ZM362.8 279.9V280.2H364.2V279.9Z" fill="#a67c16"/>
<path d="M221.0 279.9V279.8H222.4V279.9M222.1 279.9V242.9H223.5V279.9M224.4 279.9V279.7H225.8V279.9M225.6 279.9V279.4H226.9V279.9M226.7 279.9V242.9H228.1V279.9M227.9 279.9V277.0H229.2V279.9M229.0 279.9V279.8H230.4V279.9M231.3 279.9V280.0H232.7V279.9M234.7 279.9V280.0H236.1V279.9M235.9 279.9V279.8H237.2V279.9M237.0 279.9V279.7H238.4V279.9M238.2 279.9V279.8H239.5V279.9M241.6 279.9V279.8H243.0V279.9M245.0 279.9V280.2H246.4V279.9M246.2 279.9V279.6H247.5V279.9M247.3 279.9V279.8H248.7V279.9M249.6 279.9V279.2H251.0V279.9M250.7 279.9V279.4H252.1V279.9M253.0 279.9V279.9H254.4V279.9M254.2 279.9V279.8H255.5V279.9M255.3 279.9V279.9H256.7V279.9M256.5 279.9V267.3H257.8V279.9M257.6 279.9V279.5H259.0V279.9M258.7 279.9V280.0H260.1V279.9M259.9 279.9V279.6H261.3V279.9M261.0 279.9V277.0H262.4V279.9M262.2 279.9V280.6H263.5V279.9M263.3 279.9V279.8H264.7V279.9M265.6 279.9V280.5H267.0V279.9M271.3 279.9V279.3H272.7V279.9M272.5 279.9V274.2H273.8V279.9M273.6 279.9V279.8H275.0V279.9M274.7 279.9V279.6H276.1V279.9M275.9 279.9V286.8H277.3V279.9M275.9 279.9V275.2H277.3V279.9M279.3 279.9V279.5H280.7V279.9M281.6 279.9V279.6H283.0V279.9M283.9 279.9V279.8H285.3V279.9M286.2 279.9V280.2H287.6V279.9M287.3 279.9V279.5H288.7V279.9M289.6 279.9V281.8H291.0V279.9M290.8 279.9V280.1H292.1V279.9M294.2 279.9V279.8H295.6V279.9M295.3 279.9V280.1H296.7V279.9M298.8 279.9V304.3H300.1V279.9M299.9 279.9V271.7H301.3V279.9M302.2 279.9V280.1H303.6V279.9M303.3 279.9V287.7H304.7V279.9M305.6 279.9V279.2H307.0V279.9M306.8 279.9V280.2H308.1V279.9M307.9 279.9V267.3H309.3V279.9M309.1 279.9V279.9H310.4V279.9M310.2 279.9V280.0H311.6V279.9M311.3 279.9V279.7H312.7V279.9M313.6 279.9V280.0H315.0V279.9M314.8 279.9V279.8H316.1V279.9M319.3 279.9V280.0H320.7V279.9M320.5 279.9V280.0H321.9V279.9M321.6 279.9V292.4H323.0V279.9M323.9 279.9V280.2H325.3V279.9M325.1 279.9V280.0H326.4V279.9M326.2 279.9V279.6H327.6V279.9M328.5 279.9V279.3H329.9V279.9M329.6 279.9V284.9H331.0V279.9M330.8 279.9V280.2H332.2V279.9M331.9 279.9V279.7H333.3V279.9M334.2 279.9V277.4H335.6V279.9M335.4 279.9V280.1H336.7V279.9M336.5 279.9V279.7H337.9V279.9M337.6 279.9V273.0H339.0V279.9M341.1 279.9V279.8H342.4V279.9M342.2 279.9V279.9H343.6V279.9M343.4 279.9V280.1H344.7V279.9M345.6 279.9V280.0H347.0V279.9M347.9 279.9V279.9H349.3V279.9M351.4 279.9V279.7H352.7V279.9M354.8 279.9V279.5H356.2V279.9M355.9 279.9V279.7H357.3V279.9M358.2 279.9V279.8H359.6V279.9M359.4 279.9V279.5H360.7V279.9M360.5 279.9V280.1H361.9V279.9M361.7 279.9V280.0H363.0V279.9M362.8 279.9V280.2H364.2V279.9" fill="none" stroke="#000" stroke-opacity="0.55" stroke-width="0.4"/>
<path d="M222.1 279.9V280.1H223.5V279.9ZM223.3 279.9V280.3H224.7V279.9ZM224.4 279.9V266.1H225.8V279.9ZM227.9 279.9V279.6H229.2V279.9ZM229.0 279.9V279.5H230.4V279.9ZM230.1 279.9V262.6H231.5V279.9ZM232.4 279.9V280.2H233.8V279.9ZM233.6 279.9V256.7H235.0V279.9ZM234.7 279.9V280.2H236.1V279.9ZM235.9 279.9V279.6H237.2V279.9ZM237.0 279.9V279.6H238.4V279.9ZM238.2 279.9V279.8H239.5V279.9ZM239.3 279.9V280.1H240.7V279.9ZM240.4 279.9V275.2H241.8V279.9ZM242.7 279.9V280.2H244.1V279.9ZM245.0 279.9V280.2H246.4V279.9ZM247.3 279.9V277.0H248.7V279.9ZM248.4 279.9V280.0H249.8V279.9ZM249.6 279.9V280.1H251.0V279.9ZM251.9 279.9V279.9H253.2V279.9ZM254.2 279.9V279.3H255.5V279.9ZM256.5 279.9V288.7H257.8V279.9ZM257.6 279.9V279.8H259.0V279.9ZM258.7 279.9V279.7H260.1V279.9ZM259.9 279.9V280.7H261.3V279.9ZM261.0 279.9V291.2H262.4V279.9ZM262.2 279.9V284.9H263.5V279.9ZM263.3 279.9V281.8H264.7V279.9ZM264.5 279.9V280.5H265.8V279.9ZM267.9 279.9V280.1H269.3V279.9ZM269.0 279.9V279.8H270.4V279.9ZM270.2 279.9V310.3H271.5V279.9ZM271.3 279.9V279.6H272.7V279.9ZM272.5 279.9V280.2H273.8V279.9ZM273.6 279.9V279.8H275.0V279.9ZM275.9 279.9V279.4H277.3V279.9ZM277.0 279.9V275.2H278.4V279.9ZM278.2 279.9V280.1H279.5V279.9ZM279.3 279.9V280.4H280.7V279.9ZM282.8 279.9V280.0H284.1V279.9ZM286.2 279.9V279.5H287.6V279.9ZM288.5 279.9V280.0H289.8V279.9ZM289.6 279.9V280.3H291.0V279.9ZM294.2 279.9V288.3H295.6V279.9ZM296.5 279.9V279.9H297.8V279.9ZM298.8 279.9V294.3H300.1V279.9ZM302.2 279.9V307.5H303.6V279.9ZM304.5 279.9V279.3H305.9V279.9ZM305.6 279.9V284.3H307.0V279.9ZM307.9 279.9V280.2H309.3V279.9ZM309.1 279.9V270.8H310.4V279.9ZM309.1 279.9V284.3H310.4V279.9ZM313.6 279.9V280.5H315.0V279.9ZM315.9 279.9V279.8H317.3V279.9ZM317.1 279.9V279.8H318.4V279.9ZM319.3 279.9V280.0H320.7V279.9ZM320.5 279.9V279.6H321.9V279.9ZM322.8 279.9V279.2H324.1V279.9ZM323.9 279.9V280.0H325.3V279.9ZM328.5 279.9V255.4H329.9V279.9ZM329.6 279.9V279.7H331.0V279.9ZM331.9 279.9V280.1H333.3V279.9ZM333.1 279.9V279.8H334.4V279.9ZM334.2 279.9V279.7H335.6V279.9ZM336.5 279.9V280.2H337.9V279.9ZM338.8 279.9V279.5H340.2V279.9ZM339.9 279.9V280.2H341.3V279.9ZM341.1 279.9V280.4H342.4V279.9ZM342.2 279.9V280.1H343.6V279.9ZM343.4 279.9V280.4H344.7V279.9ZM345.6 279.9V279.6H347.0V279.9ZM349.1 279.9V279.9H350.4V279.9ZM350.2 279.9V279.3H351.6V279.9ZM352.5 279.9V280.0H353.9V279.9ZM353.6 279.9V286.1H355.0V279.9ZM354.8 279.9V280.0H356.2V279.9ZM355.9 279.9V279.8H357.3V279.9ZM357.1 279.9V280.0H358.5V279.9ZM358.2 279.9V280.1H359.6V279.9ZM359.4 279.9V280.2H360.7V279.9ZM360.5 279.9V279.5H361.9V279.9ZM362.8 279.9V280.2H364.2V279.9ZM363.9 279.9V287.7H365.3V279.9ZM365.1 279.9V279.2H366.0V279.9Z" fill="#582163"/>
<path d="M222.1 279.9V280.1H223.5V279.9M223.3 279.9V280.3H224.7V279.9M224.4 279.9V266.1H225.8V279.9M227.9 279.9V279.6H229.2V279.9M229.0 279.9V279.5H230.4V279.9M230.1 279.9V262.6H231.5V279.9M232.4 279.9V280.2H233.8V279.9M233.6 279.9V256.7H235.0V279.9M234.7 279.9V280.2H236.1V279.9M235.9 279.9V279.6H237.2V279.9M237.0 279.9V279.6H238.4V279.9M238.2 279.9V279.8H239.5V279.9M239.3 279.9V280.1H240.7V279.9M240.4 279.9V275.2H241.8V279.9M242.7 279.9V280.2H244.1V279.9M245.0 279.9V280.2H246.4V279.9M247.3 279.9V277.0H248.7V279.9M248.4 279.9V280.0H249.8V279.9M249.6 279.9V280.1H251.0V279.9M251.9 279.9V279.9H253.2V279.9M254.2 279.9V279.3H255.5V279.9M256.5 279.9V288.7H257.8V279.9M257.6 279.9V279.8H259.0V279.9M258.7 279.9V279.7H260.1V279.9M259.9 279.9V280.7H261.3V279.9M261.0 279.9V291.2H262.4V279.9M262.2 279.9V284.9H263.5V279.9M263.3 279.9V281.8H264.7V279.9M264.5 279.9V280.5H265.8V279.9M267.9 279.9V280.1H269.3V279.9M269.0 279.9V279.8H270.4V279.9M270.2 279.9V310.3H271.5V279.9M271.3 279.9V279.6H272.7V279.9M272.5 279.9V280.2H273.8V279.9M273.6 279.9V279.8H275.0V279.9M275.9 279.9V279.4H277.3V279.9M277.0 279.9V275.2H278.4V279.9M278.2 279.9V280.1H279.5V279.9M279.3 279.9V280.4H280.7V279.9M282.8 279.9V280.0H284.1V279.9M286.2 279.9V279.5H287.6V279.9M288.5 279.9V280.0H289.8V279.9M289.6 279.9V280.3H291.0V279.9M294.2 279.9V288.3H295.6V279.9M296.5 279.9V279.9H297.8V279.9M298.8 279.9V294.3H300.1V279.9M302.2 279.9V307.5H303.6V279.9M304.5 279.9V279.3H305.9V279.9M305.6 279.9V284.3H307.0V279.9M307.9 279.9V280.2H309.3V279.9M309.1 279.9V270.8H310.4V279.9M309.1 279.9V284.3H310.4V279.9M313.6 279.9V280.5H315.0V279.9M315.9 279.9V279.8H317.3V279.9M317.1 279.9V279.8H318.4V279.9M319.3 279.9V280.0H320.7V279.9M320.5 279.9V279.6H321.9V279.9M322.8 279.9V279.2H324.1V279.9M323.9 279.9V280.0H325.3V279.9M328.5 279.9V255.4H329.9V279.9M329.6 279.9V279.7H331.0V279.9M331.9 279.9V280.1H333.3V279.9M333.1 279.9V279.8H334.4V279.9M334.2 279.9V279.7H335.6V279.9M336.5 279.9V280.2H337.9V279.9M338.8 279.9V279.5H340.2V279.9M339.9 279.9V280.2H341.3V279.9M341.1 279.9V280.4H342.4V279.9M342.2 279.9V280.1H343.6V279.9M343.4 279.9V280.4H344.7V279.9M345.6 279.9V279.6H347.0V279.9M349.1 279.9V279.9H350.4V279.9M350.2 279.9V279.3H351.6V279.9M352.5 279.9V280.0H353.9V279.9M353.6 279.9V286.1H355.0V279.9M354.8 279.9V280.0H356.2V279.9M355.9 279.9V279.8H357.3V279.9M357.1 279.9V280.0H358.5V279.9M358.2 279.9V280.1H359.6V279.9M359.4 279.9V280.2H360.7V279.9M360.5 279.9V279.5H361.9V279.9M362.8 279.9V280.2H364.2V279.9M363.9 279.9V287.7H365.3V279.9M365.1 279.9V279.2H366.0V279.9" fill="none" stroke="#000" stroke-opacity="0.55" stroke-width="0.4"/>
</g>
<line x1="219.4" x2="366.0" y1="279.87" y2="279.87" stroke="#111" stroke-width="0.45"/>
<rect x="219.4" y="229.7" width="146.60" height="87.80" fill="none" stroke="#666" stroke-width="0.45"/>
<path d="M219.40 317.5v-1.2M219.40 229.7v1.2" stroke="#555" stroke-width="0.4"/>
<text transform="translate(219.40 323.40) scale(1.32 1)" font-size="4.0" text-anchor="middle" font-weight="normal" fill="#383838">0</text>
<path d="M242.27 317.5v-1.2M242.27 229.7v1.2" stroke="#555" stroke-width="0.4"/>
<text transform="translate(242.27 323.40) scale(1.32 1)" font-size="4.0" text-anchor="middle" font-weight="normal" fill="#383838">20</text>
<path d="M265.14 317.5v-1.2M265.14 229.7v1.2" stroke="#555" stroke-width="0.4"/>
<text transform="translate(265.14 323.40) scale(1.32 1)" font-size="4.0" text-anchor="middle" font-weight="normal" fill="#383838">40</text>
<path d="M288.01 317.5v-1.2M288.01 229.7v1.2" stroke="#555" stroke-width="0.4"/>
<text transform="translate(288.01 323.40) scale(1.32 1)" font-size="4.0" text-anchor="middle" font-weight="normal" fill="#383838">60</text>
<path d="M310.88 317.5v-1.2M310.88 229.7v1.2" stroke="#555" stroke-width="0.4"/>
<text transform="translate(310.88 323.40) scale(1.32 1)" font-size="4.0" text-anchor="middle" font-weight="normal" fill="#383838">80</text>
<path d="M333.75 317.5v-1.2M333.75 229.7v1.2" stroke="#555" stroke-width="0.4"/>
<text transform="translate(333.75 323.40) scale(1.32 1)" font-size="4.0" text-anchor="middle" font-weight="normal" fill="#383838">100</text>
<path d="M356.62 317.5v-1.2M356.62 229.7v1.2" stroke="#555" stroke-width="0.4"/>
<text transform="translate(356.62 323.40) scale(1.32 1)" font-size="4.0" text-anchor="middle" font-weight="normal" fill="#383838">120</text>
<path d="M219.4 317.50h1.2M366.0 317.50h-1.2" stroke="#555" stroke-width="0.4"/>
<text transform="translate(218.40 318.85) scale(1.32 1)" font-size="4.0" text-anchor="end" font-weight="normal" fill="#383838">-0.6</text>
<path d="M219.4 304.96h1.2M366.0 304.96h-1.2" stroke="#555" stroke-width="0.4"/>
<text transform="translate(218.40 306.31) scale(1.32 1)" font-size="4.0" text-anchor="end" font-weight="normal" fill="#383838">-0.4</text>
<path d="M219.4 292.41h1.2M366.0 292.41h-1.2" stroke="#555" stroke-width="0.4"/>
<text transform="translate(218.40 293.76) scale(1.32 1)" font-size="4.0" text-anchor="end" font-weight="normal" fill="#383838">-0.2</text>
<path d="M219.4 279.87h1.2M366.0 279.87h-1.2" stroke="#555" stroke-width="0.4"/>
<text transform="translate(218.40 281.22) scale(1.32 1)" font-size="4.0" text-anchor="end" font-weight="normal" fill="#383838">0</text>
<path d="M219.4 267.33h1.2M366.0 267.33h-1.2" stroke="#555" stroke-width="0.4"/>
<text transform="translate(218.40 268.68) scale(1.32 1)" font-size="4.0" text-anchor="end" font-weight="normal" fill="#383838">0.2</text>
<path d="M219.4 254.79h1.2M366.0 254.79h-1.2" stroke="#555" stroke-width="0.4"/>
<text transform="translate(218.40 256.14) scale(1.32 1)" font-size="4.0" text-anchor="end" font-weight="normal" fill="#383838">0.4</text>
<path d="M219.4 242.24h1.2M366.0 242.24h-1.2" stroke="#555" stroke-width="0.4"/>
<text transform="translate(218.40 243.59) scale(1.32 1)" font-size="4.0" text-anchor="end" font-weight="normal" fill="#383838">0.6</text>
<path d="M219.4 229.70h1.2M366.0 229.70h-1.2" stroke="#555" stroke-width="0.4"/>
<text transform="translate(218.40 231.05) scale(1.32 1)" font-size="4.0" text-anchor="end" font-weight="normal" fill="#383838">0.8</text>
<text transform="translate(294.70 328.10) scale(1.32 1)" font-size="4.35" text-anchor="middle" font-weight="normal" fill="#333">Feature number</text>
<text transform="translate(207.10 272.30) rotate(-90) scale(1 1.32)" font-size="4.35" text-anchor="middle" font-weight="normal" fill="#333">Feature value</text>
<text transform="translate(298.00 228.40) scale(1.32 1)" font-size="4.55" text-anchor="middle" font-weight="bold" fill="#000">Features after Layer 11</text>
<text transform="translate(198.00 326.55) scale(1.4 1)" font-size="7.0" text-anchor="start" font-weight="bold" fill="#000" font-family="'DejaVu Sans','Liberation Sans',sans-serif" letter-spacing="0.3">(f)</text>
<rect x="322.8" y="231.5" width="38.4" height="17.5" fill="#fff" stroke="#444" stroke-width="0.4"/>
<rect x="324.0" y="232.50" width="13.8" height="2.9" fill="#0072bd"/>
<text transform="translate(338.70 235.15) scale(1.32 1)" font-size="3.4" text-anchor="start" font-weight="normal" fill="#222">Best HVHA</text>
<rect x="324.0" y="236.70" width="13.8" height="2.9" fill="#d95319"/>
<text transform="translate(338.70 239.35) scale(1.32 1)" font-size="3.4" text-anchor="start" font-weight="normal" fill="#222">Best HVLA</text>
<rect x="324.0" y="240.90" width="13.8" height="2.9" fill="#edb120"/>
<text transform="translate(338.70 243.55) scale(1.32 1)" font-size="3.4" text-anchor="start" font-weight="normal" fill="#222">Best LVHA</text>
<rect x="324.0" y="245.10" width="13.8" height="2.9" fill="#7e2f8e"/>
<text transform="translate(338.70 247.75) scale(1.32 1)" font-size="3.4" text-anchor="start" font-weight="normal" fill="#222">Best LVLA</text>
<g>
<path d="M31.0 381.8V358.6H31.6V381.8ZM31.6 381.8V355.8H32.2V381.8ZM39.6 381.8V359.0H40.2V381.8ZM40.8 381.0V402.8H41.3V381.0ZM42.5 381.8V351.8H43.0V381.8ZM47.0 381.0V405.0H47.6V381.0ZM48.2 381.0V404.6H48.7V381.0ZM56.7 381.0V406.7H57.3V381.0ZM57.9 381.0V406.4H58.4V381.0ZM60.2 381.8V355.5H60.7V381.8ZM68.2 381.0V407.1H68.7V381.0ZM71.0 381.0V401.5H71.6V381.0ZM71.6 381.8V356.3H72.1V381.8ZM74.5 381.0V405.7H75.0V381.0ZM76.2 381.0V401.9H76.7V381.0ZM76.7 381.0V405.1H77.3V381.0ZM84.2 381.0V407.3H84.7V381.0ZM84.7 381.0V403.7H85.3V381.0ZM90.4 381.0V404.6H91.0V381.0ZM93.3 381.8V356.2H93.8V381.8ZM104.7 381.0V404.5H105.3V381.0ZM105.3 381.8V356.7H105.8V381.8ZM108.2 381.8V354.2H108.7V381.8ZM108.7 381.0V406.3H109.3V381.0ZM131.0 381.0V405.1H131.5V381.0ZM133.3 381.8V357.8H133.8V381.8ZM134.4 381.8V357.5H135.0V381.8ZM140.1 381.8V359.1H140.7V381.8ZM149.9 381.8V356.3H150.4V381.8ZM151.0 381.0V405.7H151.5V381.0ZM152.7 381.8V359.1H153.3V381.8ZM159.0 381.0V402.4H159.5V381.0ZM160.1 381.8V357.0H160.7V381.8ZM163.0 381.0V404.7H163.5V381.0ZM164.1 381.8V354.4H164.7V381.8ZM170.4 381.8V358.6H171.0V381.8ZM174.4 381.8V357.9H175.0V381.8Z" fill="#0070b9"/>
<path d="M30.5 381.0V412.7H31.0V381.0ZM32.8 381.8V353.9H33.3V381.8ZM36.8 381.8V355.1H37.3V381.8ZM37.3 381.8V353.7H37.9V381.8ZM38.5 381.0V403.0H39.0V381.0ZM41.3 381.8V355.0H41.9V381.8ZM43.6 381.8V354.5H44.2V381.8ZM44.2 381.8V353.1H44.7V381.8ZM45.3 381.0V408.1H45.9V381.0ZM45.9 381.8V353.4H46.4V381.8ZM46.5 381.0V405.2H47.0V381.0ZM48.7 381.8V352.5H49.3V381.8ZM49.3 381.0V408.8H49.9V381.0ZM55.0 381.0V404.5H55.6V381.0ZM57.3 381.0V406.4H57.9V381.0ZM59.6 381.8V351.8H60.1V381.8ZM63.0 381.8V351.2H63.6V381.8ZM65.9 381.8V355.6H66.4V381.8ZM67.0 381.0V402.8H67.6V381.0ZM67.6 381.0V406.9H68.1V381.0ZM72.2 381.8V353.5H72.7V381.8ZM73.9 381.0V416.8H74.4V381.0ZM75.6 381.8V351.4H76.1V381.8ZM79.0 381.8V359.1H79.6V381.8ZM80.2 381.8V350.9H80.7V381.8ZM81.9 381.8V358.6H82.4V381.8ZM82.5 381.0V407.7H83.0V381.0ZM83.0 381.8V355.9H83.6V381.8ZM85.9 381.0V401.7H86.4V381.0ZM87.0 381.8V353.2H87.6V381.8ZM91.6 381.8V358.4H92.1V381.8ZM92.2 381.0V403.0H92.7V381.0ZM94.4 381.0V401.3H95.0V381.0ZM95.0 381.0V402.7H95.6V381.0ZM97.3 381.0V403.1H97.8V381.0ZM97.9 381.0V409.4H98.4V381.0ZM100.2 381.0V407.4H100.7V381.0ZM100.7 381.8V357.6H101.3V381.8ZM101.9 381.8V353.2H102.4V381.8ZM102.4 381.8V357.2H103.0V381.8ZM105.9 381.8V352.9H106.4V381.8ZM109.9 381.8V355.4H110.4V381.8ZM111.0 381.8V359.0H111.6V381.8ZM111.6 381.8V358.3H112.1V381.8ZM112.2 381.8V352.3H112.7V381.8ZM115.0 381.0V404.1H115.6V381.0ZM117.3 381.0V410.5H117.8V381.0ZM117.9 381.0V405.3H118.4V381.0ZM118.4 381.0V409.7H119.0V381.0ZM119.0 381.0V413.9H119.6V381.0ZM119.6 381.0V403.4H120.1V381.0ZM121.3 381.8V358.5H121.8V381.8ZM121.9 381.8V358.6H122.4V381.8ZM124.1 381.0V410.7H124.7V381.0ZM124.7 381.8V354.5H125.3V381.8ZM126.4 381.0V406.1H127.0V381.0ZM128.7 381.8V351.0H129.3V381.8ZM131.6 381.0V404.9H132.1V381.0ZM136.7 381.8V351.0H137.3V381.8ZM139.6 381.8V350.5H140.1V381.8ZM141.9 381.8V358.8H142.4V381.8ZM143.0 381.0V403.4H143.5V381.0ZM144.1 381.8V359.3H144.7V381.8ZM144.7 381.0V407.3H145.3V381.0ZM147.0 381.0V406.2H147.5V381.0ZM148.1 381.8V352.1H148.7V381.8ZM148.7 381.0V401.3H149.3V381.0ZM150.4 381.8V355.1H151.0V381.8ZM153.3 381.8V356.1H153.8V381.8ZM153.9 381.8V358.5H154.4V381.8ZM155.0 381.8V357.8H155.5V381.8ZM156.1 381.8V359.0H156.7V381.8ZM157.3 381.0V405.0H157.8V381.0ZM157.9 381.0V410.1H158.4V381.0ZM160.7 381.8V355.6H161.2V381.8ZM164.7 381.0V410.3H165.2V381.0ZM167.0 381.0V404.8H167.5V381.0ZM167.6 381.8V357.7H168.1V381.8ZM169.3 381.0V403.2H169.8V381.0ZM169.8 381.0V404.6H170.4V381.0ZM172.1 381.8V353.0H172.7V381.8ZM172.7 381.8V355.3H173.2V381.8ZM173.3 381.8V353.4H173.8V381.8ZM173.8 381.0V402.2H174.4V381.0Z" fill="#d55118"/>
<path d="" fill="#e8ad1f"/>
<path d="M52.2 381.8V357.5H52.7V381.8ZM76.2 381.8V358.7H76.7V381.8ZM103.0 381.8V358.3H103.6V381.8ZM125.9 381.8V357.1H126.4V381.8ZM127.6 381.8V356.7H128.1V381.8ZM128.7 381.8V359.4H129.3V381.8ZM135.0 381.8V359.2H135.5V381.8ZM146.4 381.8V356.6H147.0V381.8ZM162.4 381.8V358.9H163.0V381.8ZM166.4 381.8V356.7H167.0V381.8Z" fill="#7b2e8b"/>
</g>
<g>
<path d="M30.2 381.0V391.9H31.2V381.0ZM30.8 381.8V371.6H31.8V381.8ZM31.4 381.8V370.9H32.4V381.8ZM32.0 381.8V375.7H33.0V381.8ZM32.5 381.0V391.2H33.5V381.0ZM33.1 381.8V373.0H34.1V381.8ZM33.7 381.8V371.4H34.7V381.8ZM34.2 381.8V361.5H35.2V381.8ZM34.8 381.0V396.6H35.8V381.0ZM35.4 381.8V366.5H36.4V381.8ZM36.0 381.0V394.6H37.0V381.0ZM36.5 381.0V392.3H37.5V381.0ZM37.1 381.8V364.8H38.1V381.8ZM37.7 381.0V392.0H38.7V381.0ZM38.2 381.8V371.2H39.2V381.8ZM38.8 381.0V392.2H39.8V381.0ZM39.4 381.8V370.1H40.4V381.8ZM40.0 381.0V391.0H41.0V381.0ZM40.5 381.0V389.7H41.5V381.0ZM41.1 381.8V370.2H42.1V381.8ZM41.7 381.8V368.6H42.7V381.8ZM42.2 381.8V367.3H43.2V381.8ZM42.8 381.8V365.8H43.8V381.8ZM43.4 381.0V399.2H44.4V381.0ZM44.0 381.8V363.9H45.0V381.8ZM45.1 381.8V362.5H46.1V381.8ZM45.7 381.0V384.1H46.7V381.0ZM46.2 381.0V391.6H47.2V381.0ZM46.8 381.0V392.7H47.8V381.0ZM47.4 381.8V374.3H48.4V381.8ZM48.0 381.0V394.4H48.9V381.0ZM49.1 381.0V383.0H50.1V381.0ZM49.7 381.0V397.8H50.7V381.0ZM50.2 381.0V389.6H51.2V381.0ZM51.9 381.0V399.1H52.9V381.0ZM52.5 381.8V365.8H53.5V381.8ZM53.1 381.0V398.1H54.1V381.0ZM53.7 381.8V366.0H54.7V381.8ZM54.2 381.8V366.5H55.2V381.8ZM54.8 381.0V398.8H55.8V381.0ZM55.9 381.8V371.2H56.9V381.8ZM56.5 381.0V393.6H57.5V381.0ZM57.1 381.8V378.2H58.1V381.8ZM57.7 381.0V391.4H58.7V381.0ZM58.2 381.8V373.3H59.2V381.8ZM59.4 381.8V368.2H60.4V381.8ZM59.9 381.8V371.0H60.9V381.8ZM60.5 381.8V362.8H61.5V381.8ZM61.1 381.0V392.6H62.1V381.0ZM61.7 381.0V387.9H62.7V381.0ZM62.2 381.0V388.3H63.2V381.0ZM62.8 381.8V360.2H63.8V381.8ZM63.9 381.8V365.4H64.9V381.8ZM64.5 381.0V393.5H65.5V381.0ZM65.1 381.0V388.8H66.1V381.0ZM66.8 381.0V391.8H67.8V381.0ZM67.4 381.0V388.1H68.4V381.0ZM67.9 381.0V395.8H68.9V381.0ZM68.5 381.0V383.0H69.5V381.0ZM69.1 381.8V369.2H70.1V381.8ZM69.7 381.8V370.3H70.7V381.8ZM70.8 381.0V393.4H71.8V381.0ZM71.4 381.8V368.0H72.4V381.8ZM72.5 381.8V359.5H73.5V381.8ZM73.7 381.8V378.6H74.7V381.8ZM74.2 381.0V390.5H75.2V381.0ZM74.8 381.8V362.5H75.8V381.8ZM75.4 381.0V393.3H76.4V381.0ZM75.9 381.0V389.0H76.9V381.0ZM76.5 381.0V392.9H77.5V381.0ZM77.1 381.8V367.4H78.1V381.8ZM78.2 381.8V380.2H79.2V381.8ZM79.4 381.8V378.9H80.4V381.8ZM80.5 381.8V361.5H81.5V381.8ZM81.1 381.0V395.9H82.1V381.0ZM82.2 381.0V392.4H83.2V381.0ZM82.8 381.8V369.8H83.8V381.8ZM83.9 381.0V396.5H84.9V381.0ZM84.5 381.0V389.5H85.5V381.0ZM85.1 381.8V370.7H86.1V381.8ZM85.6 381.0V399.0H86.6V381.0ZM86.8 381.0V390.6H87.8V381.0ZM87.4 381.0V395.8H88.4V381.0ZM87.9 381.8V360.3H88.9V381.8ZM88.5 381.0V382.9H89.5V381.0ZM89.1 381.0V398.3H90.1V381.0ZM90.2 381.0V393.9H91.2V381.0ZM90.8 381.0V396.9H91.8V381.0ZM91.4 381.0V387.1H92.4V381.0ZM91.9 381.8V377.6H92.9V381.8ZM93.1 381.8V371.2H94.1V381.8ZM93.6 381.8V360.6H94.6V381.8ZM94.2 381.8V375.8H95.2V381.8ZM95.4 381.8V376.4H96.4V381.8ZM95.9 381.0V394.5H96.9V381.0ZM96.5 381.0V390.6H97.5V381.0ZM97.1 381.8V365.2H98.1V381.8ZM97.6 381.8V361.2H98.6V381.8ZM98.2 381.8V366.1H99.2V381.8ZM98.8 381.8V373.6H99.8V381.8ZM99.4 381.8V367.5H100.4V381.8ZM99.9 381.0V398.5H100.9V381.0ZM101.6 381.8V376.8H102.6V381.8ZM102.2 381.0V387.4H103.2V381.0ZM102.8 381.0V397.5H103.8V381.0ZM103.4 381.0V392.2H104.4V381.0ZM103.9 381.8V375.7H104.9V381.8ZM104.5 381.0V395.2H105.5V381.0ZM105.1 381.8V372.0H106.1V381.8ZM105.6 381.8V378.4H106.6V381.8ZM106.2 381.8V370.8H107.2V381.8ZM106.8 381.0V387.8H107.8V381.0ZM107.4 381.8V368.6H108.4V381.8ZM107.9 381.8V365.7H108.9V381.8ZM108.5 381.0V394.4H109.5V381.0ZM109.1 381.8V377.0H110.1V381.8ZM109.6 381.8V371.5H110.6V381.8ZM110.2 381.0V393.0H111.2V381.0ZM111.9 381.0V385.4H112.9V381.0ZM113.1 381.0V390.2H114.1V381.0ZM113.6 381.8V359.8H114.6V381.8ZM114.8 381.8V361.8H115.8V381.8ZM115.4 381.0V390.5H116.4V381.0ZM115.9 381.0V393.1H116.9V381.0ZM116.5 381.0V398.7H117.5V381.0ZM117.1 381.8V379.4H118.1V381.8ZM117.6 381.8V373.1H118.6V381.8ZM118.2 381.0V382.7H119.2V381.0ZM118.8 381.8V363.4H119.8V381.8ZM119.4 381.0V390.0H120.4V381.0ZM119.9 381.0V382.0H120.9V381.0ZM120.5 381.0V394.9H121.5V381.0ZM121.1 381.0V386.6H122.1V381.0ZM121.6 381.0V387.3H122.6V381.0ZM122.2 381.8V373.8H123.2V381.8ZM122.8 381.8V370.0H123.8V381.8ZM123.3 381.8V367.6H124.3V381.8ZM123.9 381.0V387.1H124.9V381.0ZM124.5 381.8V367.4H125.5V381.8ZM125.1 381.0V392.5H126.1V381.0ZM125.6 381.0V393.0H126.6V381.0ZM126.2 381.0V383.8H127.2V381.0ZM126.8 381.0V393.3H127.8V381.0ZM127.3 381.0V390.4H128.3V381.0ZM127.9 381.8V370.9H128.9V381.8ZM128.5 381.0V386.1H129.5V381.0ZM129.6 381.0V394.9H130.6V381.0ZM130.2 381.0V383.7H131.2V381.0ZM130.8 381.0V390.4H131.8V381.0ZM131.3 381.8V370.0H132.3V381.8ZM131.9 381.8V363.4H132.9V381.8ZM132.5 381.8V360.1H133.5V381.8ZM133.1 381.8V370.4H134.1V381.8ZM133.6 381.8V360.3H134.6V381.8ZM134.2 381.8V367.7H135.2V381.8ZM135.3 381.0V383.5H136.3V381.0ZM135.9 381.0V391.6H136.9V381.0ZM137.6 381.8V367.8H138.6V381.8ZM138.8 381.8V371.6H139.8V381.8ZM139.3 381.8V368.8H140.3V381.8ZM139.9 381.8V373.1H140.9V381.8ZM140.5 381.8V369.1H141.5V381.8ZM141.6 381.0V395.4H142.6V381.0ZM142.2 381.8V371.6H143.2V381.8ZM142.8 381.0V390.3H143.8V381.0ZM143.3 381.0V399.6H144.3V381.0ZM143.9 381.0V394.6H144.9V381.0ZM144.5 381.8V371.0H145.5V381.8ZM145.6 381.8V368.4H146.6V381.8ZM146.2 381.8V361.4H147.2V381.8ZM146.8 381.0V398.8H147.8V381.0ZM148.5 381.0V392.1H149.5V381.0ZM149.1 381.0V383.5H150.1V381.0ZM149.6 381.8V368.9H150.6V381.8ZM150.2 381.8V369.4H151.2V381.8ZM150.8 381.0V391.5H151.8V381.0ZM151.3 381.8V370.8H152.3V381.8ZM151.9 381.0V386.9H152.9V381.0ZM152.5 381.8V368.9H153.5V381.8ZM153.1 381.8V373.8H154.1V381.8ZM153.6 381.0V392.5H154.6V381.0ZM154.8 381.0V389.6H155.8V381.0ZM155.3 381.8V373.6H156.3V381.8ZM155.9 381.0V387.0H156.9V381.0ZM156.5 381.8V367.9H157.5V381.8ZM157.1 381.8V378.1H158.1V381.8ZM157.6 381.0V384.5H158.6V381.0ZM158.2 381.0V389.8H159.2V381.0ZM158.8 381.0V391.8H159.8V381.0ZM159.3 381.8V368.2H160.3V381.8ZM159.9 381.8V372.4H160.9V381.8ZM160.5 381.8V371.4H161.5V381.8ZM161.0 381.0V390.3H162.0V381.0ZM162.2 381.8V370.7H163.2V381.8ZM162.8 381.0V390.1H163.8V381.0ZM163.3 381.8V359.7H164.3V381.8ZM163.9 381.8V366.0H164.9V381.8ZM165.0 381.0V393.9H166.0V381.0ZM165.6 381.8V379.3H166.6V381.8ZM166.2 381.0V391.5H167.2V381.0ZM166.8 381.0V398.6H167.8V381.0ZM167.3 381.8V374.2H168.3V381.8ZM167.9 381.0V395.4H168.9V381.0ZM168.5 381.8V378.6H169.5V381.8ZM169.0 381.0V396.5H170.0V381.0ZM169.6 381.0V393.3H170.6V381.0ZM170.2 381.8V370.8H171.2V381.8ZM170.8 381.0V395.5H171.8V381.0ZM171.3 381.0V384.7H172.3V381.0ZM172.5 381.0V381.8H173.5V381.0ZM173.6 381.8V368.6H174.6V381.8ZM174.2 381.8V368.3H175.2V381.8ZM174.8 381.0V389.0H175.8V381.0ZM175.3 381.8V366.7H176.3V381.8Z" fill="#006ab0"/>
<path d="M29.7 381.0V397.6H30.7V381.0ZM30.2 381.0V398.6H31.2V381.0ZM30.8 381.8V376.8H31.8V381.8ZM31.4 381.0V399.0H32.4V381.0ZM32.0 381.8V371.0H33.0V381.8ZM32.5 381.8V366.1H33.5V381.8ZM33.1 381.8V367.2H34.1V381.8ZM33.7 381.0V399.4H34.7V381.0ZM34.8 381.0V392.9H35.8V381.0ZM35.4 381.8V365.6H36.4V381.8ZM36.5 381.8V371.4H37.5V381.8ZM37.1 381.8V368.4H38.1V381.8ZM37.7 381.8V364.9H38.7V381.8ZM38.2 381.0V392.0H39.2V381.0ZM40.0 381.0V399.6H41.0V381.0ZM40.5 381.0V399.4H41.5V381.0ZM41.1 381.8V368.0H42.1V381.8ZM41.7 381.0V399.6H42.7V381.0ZM42.2 381.0V387.9H43.2V381.0ZM42.8 381.8V371.9H43.8V381.8ZM43.4 381.8V366.3H44.4V381.8ZM44.0 381.8V371.3H45.0V381.8ZM44.5 381.8V362.8H45.5V381.8ZM45.1 381.0V397.1H46.1V381.0ZM45.7 381.8V370.4H46.7V381.8ZM46.2 381.0V394.5H47.2V381.0ZM46.8 381.8V364.4H47.8V381.8ZM47.4 381.0V393.7H48.4V381.0ZM48.0 381.8V373.0H48.9V381.8ZM48.5 381.8V369.9H49.5V381.8ZM49.1 381.0V393.2H50.1V381.0ZM49.7 381.8V362.0H50.7V381.8ZM50.2 381.0V387.3H51.2V381.0ZM50.8 381.0V389.3H51.8V381.0ZM51.4 381.0V397.3H52.4V381.0ZM51.9 381.8V368.1H52.9V381.8ZM52.5 381.8V381.3H53.5V381.8ZM53.1 381.8V362.9H54.1V381.8ZM53.7 381.0V397.7H54.7V381.0ZM54.2 381.0V387.4H55.2V381.0ZM54.8 381.0V394.0H55.8V381.0ZM55.4 381.8V372.4H56.4V381.8ZM56.5 381.8V366.3H57.5V381.8ZM57.1 381.0V391.5H58.1V381.0ZM57.7 381.8V379.8H58.7V381.8ZM58.2 381.0V382.8H59.2V381.0ZM58.8 381.0V393.7H59.8V381.0ZM59.4 381.8V370.4H60.4V381.8ZM59.9 381.0V390.0H60.9V381.0ZM60.5 381.8V374.1H61.5V381.8ZM61.1 381.8V379.2H62.1V381.8ZM62.2 381.0V391.2H63.2V381.0ZM62.8 381.8V366.6H63.8V381.8ZM63.4 381.0V388.6H64.4V381.0ZM63.9 381.0V391.8H64.9V381.0ZM64.5 381.0V393.5H65.5V381.0ZM65.1 381.0V389.5H66.1V381.0ZM65.7 381.8V369.5H66.7V381.8ZM66.2 381.0V389.8H67.2V381.0ZM66.8 381.0V392.7H67.8V381.0ZM67.4 381.0V390.8H68.4V381.0ZM67.9 381.0V388.5H68.9V381.0ZM69.1 381.8V369.2H70.1V381.8ZM69.7 381.0V400.1H70.7V381.0ZM70.2 381.8V373.6H71.2V381.8ZM70.8 381.0V395.3H71.8V381.0ZM71.4 381.8V368.6H72.4V381.8ZM71.9 381.8V366.5H72.9V381.8ZM72.5 381.8V366.9H73.5V381.8ZM73.1 381.0V392.8H74.1V381.0ZM73.7 381.0V401.3H74.7V381.0ZM74.2 381.8V374.6H75.2V381.8ZM74.8 381.0V387.6H75.8V381.0ZM75.4 381.8V367.5H76.4V381.8ZM75.9 381.0V393.1H76.9V381.0ZM76.5 381.0V388.6H77.5V381.0ZM77.1 381.0V394.2H78.1V381.0ZM77.7 381.8V372.9H78.7V381.8ZM78.2 381.8V370.2H79.2V381.8ZM78.8 381.8V373.0H79.8V381.8ZM79.4 381.8V370.2H80.4V381.8ZM79.9 381.8V367.3H80.9V381.8ZM80.5 381.0V381.9H81.5V381.0ZM81.7 381.8V369.0H82.7V381.8ZM82.2 381.0V394.2H83.2V381.0ZM82.8 381.8V371.7H83.8V381.8ZM83.4 381.8V378.3H84.4V381.8ZM83.9 381.8V366.1H84.9V381.8ZM84.5 381.0V384.2H85.5V381.0ZM85.1 381.8V365.5H86.1V381.8ZM85.6 381.0V392.8H86.6V381.0ZM86.2 381.8V369.9H87.2V381.8ZM86.8 381.8V364.7H87.8V381.8ZM87.4 381.8V362.5H88.4V381.8ZM87.9 381.0V392.3H88.9V381.0ZM88.5 381.0V387.9H89.5V381.0ZM89.1 381.8V367.2H90.1V381.8ZM89.6 381.0V397.9H90.6V381.0ZM90.2 381.8V372.1H91.2V381.8ZM90.8 381.8V367.1H91.8V381.8ZM91.4 381.8V367.9H92.4V381.8ZM91.9 381.0V391.8H92.9V381.0ZM92.5 381.8V372.0H93.5V381.8ZM93.1 381.0V393.5H94.1V381.0ZM93.6 381.8V367.5H94.6V381.8ZM94.2 381.0V390.7H95.2V381.0ZM94.8 381.0V392.8H95.8V381.0ZM95.4 381.0V398.8H96.4V381.0ZM95.9 381.8V366.0H96.9V381.8ZM96.5 381.8V373.5H97.5V381.8ZM97.1 381.0V393.1H98.1V381.0ZM97.6 381.0V393.9H98.6V381.0ZM98.2 381.8V369.7H99.2V381.8ZM98.8 381.0V388.8H99.8V381.0ZM99.9 381.0V396.6H100.9V381.0ZM100.5 381.8V372.9H101.5V381.8ZM101.1 381.8V378.5H102.1V381.8ZM101.6 381.8V368.0H102.6V381.8ZM102.2 381.8V372.7H103.2V381.8ZM102.8 381.8V367.7H103.8V381.8ZM103.4 381.8V361.3H104.4V381.8ZM103.9 381.0V400.4H104.9V381.0ZM104.5 381.0V391.6H105.5V381.0ZM105.1 381.8V364.7H106.1V381.8ZM105.6 381.8V364.4H106.6V381.8ZM106.2 381.0V394.8H107.2V381.0ZM106.8 381.0V388.6H107.8V381.0ZM107.4 381.0V399.4H108.4V381.0ZM107.9 381.0V398.2H108.9V381.0ZM108.5 381.0V394.4H109.5V381.0ZM109.1 381.8V362.4H110.1V381.8ZM109.6 381.8V372.0H110.6V381.8ZM110.2 381.0V394.7H111.2V381.0ZM110.8 381.8V370.9H111.8V381.8ZM111.4 381.8V369.3H112.4V381.8ZM111.9 381.8V370.5H112.9V381.8ZM112.5 381.8V369.4H113.5V381.8ZM113.1 381.8V360.9H114.1V381.8ZM114.2 381.8V378.4H115.2V381.8ZM114.8 381.0V391.0H115.8V381.0ZM115.4 381.0V399.2H116.4V381.0ZM115.9 381.8V369.8H116.9V381.8ZM116.5 381.0V389.0H117.5V381.0ZM117.1 381.0V392.3H118.1V381.0ZM117.6 381.0V394.8H118.6V381.0ZM118.2 381.0V397.8H119.2V381.0ZM118.8 381.0V400.3H119.8V381.0ZM119.4 381.0V393.2H120.4V381.0ZM119.9 381.8V363.8H120.9V381.8ZM121.1 381.8V370.1H122.1V381.8ZM121.6 381.8V373.0H122.6V381.8ZM122.2 381.0V385.4H123.2V381.0ZM122.8 381.8V377.6H123.8V381.8ZM123.9 381.0V395.2H124.9V381.0ZM124.5 381.8V366.9H125.5V381.8ZM125.1 381.0V390.5H126.1V381.0ZM125.6 381.0V390.2H126.6V381.0ZM126.2 381.0V390.2H127.2V381.0ZM126.8 381.8V374.5H127.8V381.8ZM127.3 381.8V362.4H128.3V381.8ZM127.9 381.0V399.1H128.9V381.0ZM128.5 381.8V370.1H129.5V381.8ZM129.1 381.0V390.0H130.1V381.0ZM129.6 381.8V372.2H130.6V381.8ZM130.2 381.8V360.7H131.2V381.8ZM130.8 381.8V369.1H131.8V381.8ZM131.3 381.0V391.9H132.3V381.0ZM131.9 381.0V391.9H132.9V381.0ZM132.5 381.8V368.3H133.5V381.8ZM133.1 381.0V396.8H134.1V381.0ZM133.6 381.0V385.9H134.6V381.0ZM134.2 381.0V393.7H135.2V381.0ZM134.8 381.0V385.6H135.8V381.0ZM135.3 381.8V366.0H136.3V381.8ZM135.9 381.8V370.0H136.9V381.8ZM136.5 381.8V368.8H137.5V381.8ZM137.1 381.0V387.9H138.1V381.0ZM137.6 381.8V380.6H138.6V381.8ZM138.2 381.8V363.2H139.2V381.8ZM138.8 381.0V397.1H139.8V381.0ZM139.3 381.8V364.6H140.3V381.8ZM139.9 381.0V393.7H140.9V381.0ZM140.5 381.0V399.1H141.5V381.0ZM141.1 381.8V367.1H142.1V381.8ZM141.6 381.8V372.6H142.6V381.8ZM142.2 381.0V399.4H143.2V381.0ZM142.8 381.0V389.2H143.8V381.0ZM143.3 381.8V366.2H144.3V381.8ZM143.9 381.8V368.3H144.9V381.8ZM144.5 381.0V392.0H145.5V381.0ZM145.1 381.0V392.6H146.1V381.0ZM145.6 381.8V370.7H146.6V381.8ZM146.2 381.0V399.0H147.2V381.0ZM146.8 381.0V392.4H147.8V381.0ZM147.3 381.0V390.3H148.3V381.0ZM147.9 381.8V364.0H148.9V381.8ZM148.5 381.0V391.9H149.5V381.0ZM149.1 381.8V363.5H150.1V381.8ZM149.6 381.8V372.2H150.6V381.8ZM150.2 381.8V369.0H151.2V381.8ZM150.8 381.8V368.4H151.8V381.8ZM151.3 381.0V388.9H152.3V381.0ZM151.9 381.8V367.7H152.9V381.8ZM152.5 381.8V368.2H153.5V381.8ZM153.1 381.8V371.9H154.1V381.8ZM153.6 381.8V369.8H154.6V381.8ZM154.2 381.0V394.4H155.2V381.0ZM154.8 381.8V371.4H155.8V381.8ZM155.9 381.8V372.0H156.9V381.8ZM156.5 381.0V394.2H157.5V381.0ZM157.1 381.0V392.3H158.1V381.0ZM157.6 381.0V392.8H158.6V381.0ZM158.2 381.0V388.5H159.2V381.0ZM158.8 381.0V389.3H159.8V381.0ZM159.3 381.0V387.6H160.3V381.0ZM159.9 381.8V360.3H160.9V381.8ZM160.5 381.8V372.2H161.5V381.8ZM161.0 381.0V394.1H162.0V381.0ZM161.6 381.8V369.2H162.6V381.8ZM162.2 381.0V399.6H163.2V381.0ZM162.8 381.0V392.6H163.8V381.0ZM163.9 381.0V393.3H164.9V381.0ZM164.5 381.0V395.2H165.5V381.0ZM165.0 381.8V361.7H166.0V381.8ZM165.6 381.0V391.7H166.6V381.0ZM166.2 381.8V370.2H167.2V381.8ZM166.8 381.0V394.1H167.8V381.0ZM167.3 381.8V372.1H168.3V381.8ZM168.5 381.8V364.5H169.5V381.8ZM169.0 381.0V394.2H170.0V381.0ZM169.6 381.0V391.7H170.6V381.0ZM170.2 381.0V400.5H171.2V381.0ZM171.3 381.8V372.6H172.3V381.8ZM171.9 381.8V368.0H172.9V381.8ZM172.5 381.8V367.7H173.5V381.8ZM173.0 381.8V366.2H174.0V381.8ZM173.6 381.0V389.7H174.6V381.0ZM174.2 381.0V392.0H175.2V381.0ZM174.8 381.0V384.2H175.8V381.0Z" fill="#ca4d17"/>
<path d="M29.7 381.8V380.1H30.7V381.8ZM31.4 381.8V372.4H32.4V381.8ZM33.1 381.0V390.9H34.1V381.0ZM33.7 381.0V383.9H34.7V381.0ZM34.2 381.0V385.0H35.2V381.0ZM36.0 381.0V392.3H37.0V381.0ZM36.5 381.0V393.4H37.5V381.0ZM37.1 381.0V392.5H38.1V381.0ZM37.7 381.0V390.9H38.7V381.0ZM38.8 381.8V377.3H39.8V381.8ZM39.4 381.0V387.2H40.4V381.0ZM40.5 381.0V392.6H41.5V381.0ZM41.1 381.0V391.9H42.1V381.0ZM41.7 381.8V365.1H42.7V381.8ZM42.2 381.8V373.7H43.2V381.8ZM42.8 381.0V397.0H43.8V381.0ZM43.4 381.8V363.5H44.4V381.8ZM44.5 381.0V382.0H45.5V381.0ZM46.2 381.8V380.4H47.2V381.8ZM46.8 381.8V369.5H47.8V381.8ZM47.4 381.8V372.6H48.4V381.8ZM48.0 381.8V370.9H48.9V381.8ZM48.5 381.8V369.5H49.5V381.8ZM49.1 381.8V364.1H50.1V381.8ZM49.7 381.0V381.8H50.7V381.0ZM50.2 381.8V363.5H51.2V381.8ZM50.8 381.8V372.4H51.8V381.8ZM51.4 381.8V370.4H52.4V381.8ZM51.9 381.0V390.9H52.9V381.0ZM52.5 381.0V395.8H53.5V381.0ZM53.1 381.0V388.5H54.1V381.0ZM53.7 381.0V387.1H54.7V381.0ZM54.2 381.8V378.9H55.2V381.8ZM54.8 381.8V371.7H55.8V381.8ZM55.4 381.8V367.6H56.4V381.8ZM55.9 381.8V370.9H56.9V381.8ZM56.5 381.0V385.7H57.5V381.0ZM57.1 381.0V400.2H58.1V381.0ZM58.2 381.0V389.2H59.2V381.0ZM58.8 381.0V382.2H59.8V381.0ZM59.9 381.0V385.4H60.9V381.0ZM60.5 381.0V388.6H61.5V381.0ZM61.7 381.0V389.9H62.7V381.0ZM62.2 381.8V369.6H63.2V381.8ZM62.8 381.0V387.2H63.8V381.0ZM63.4 381.8V376.7H64.4V381.8ZM63.9 381.0V391.3H64.9V381.0ZM64.5 381.8V361.6H65.5V381.8ZM65.7 381.0V392.4H66.7V381.0ZM66.2 381.0V394.2H67.2V381.0ZM66.8 381.0V383.0H67.8V381.0ZM67.4 381.8V378.3H68.4V381.8ZM67.9 381.8V370.2H68.9V381.8ZM68.5 381.0V392.8H69.5V381.0ZM69.7 381.0V384.9H70.7V381.0ZM70.2 381.8V376.2H71.2V381.8ZM71.4 381.0V386.7H72.4V381.0ZM71.9 381.8V371.5H72.9V381.8ZM72.5 381.0V389.1H73.5V381.0ZM73.1 381.0V382.6H74.1V381.0ZM73.7 381.0V393.5H74.7V381.0ZM74.2 381.8V376.5H75.2V381.8ZM74.8 381.0V392.5H75.8V381.0ZM75.4 381.0V400.2H76.4V381.0ZM76.5 381.0V390.6H77.5V381.0ZM77.7 381.0V386.7H78.7V381.0ZM78.8 381.0V387.2H79.8V381.0ZM79.9 381.8V366.9H80.9V381.8ZM80.5 381.0V395.4H81.5V381.0ZM81.1 381.0V386.3H82.1V381.0ZM81.7 381.8V369.6H82.7V381.8ZM82.2 381.0V398.2H83.2V381.0ZM82.8 381.0V386.5H83.8V381.0ZM83.4 381.8V359.9H84.4V381.8ZM83.9 381.0V385.5H84.9V381.0ZM85.6 381.8V371.4H86.6V381.8ZM86.2 381.0V392.7H87.2V381.0ZM87.4 381.8V374.2H88.4V381.8ZM87.9 381.8V371.5H88.9V381.8ZM89.1 381.8V361.5H90.1V381.8ZM89.6 381.8V368.2H90.6V381.8ZM90.8 381.8V376.1H91.8V381.8ZM91.4 381.8V368.6H92.4V381.8ZM91.9 381.0V390.1H92.9V381.0ZM92.5 381.8V376.7H93.5V381.8ZM93.1 381.8V368.5H94.1V381.8ZM93.6 381.0V392.4H94.6V381.0ZM94.8 381.8V377.3H95.8V381.8ZM95.4 381.8V370.5H96.4V381.8ZM96.5 381.8V369.2H97.5V381.8ZM97.1 381.0V394.0H98.1V381.0ZM97.6 381.8V379.6H98.6V381.8ZM98.2 381.0V387.9H99.2V381.0ZM98.8 381.8V375.3H99.8V381.8ZM99.4 381.0V387.8H100.4V381.0ZM100.5 381.0V391.5H101.5V381.0ZM101.1 381.0V391.1H102.1V381.0ZM101.6 381.8V361.2H102.6V381.8ZM102.2 381.8V377.7H103.2V381.8ZM102.8 381.8V368.3H103.8V381.8ZM103.4 381.8V368.3H104.4V381.8ZM104.5 381.0V391.5H105.5V381.0ZM105.1 381.8V378.9H106.1V381.8ZM106.2 381.0V385.2H107.2V381.0ZM106.8 381.8V367.2H107.8V381.8ZM107.9 381.8V372.8H108.9V381.8ZM108.5 381.8V371.8H109.5V381.8ZM109.1 381.0V398.5H110.1V381.0ZM109.6 381.8V379.5H110.6V381.8ZM110.2 381.8V370.5H111.2V381.8ZM110.8 381.0V384.7H111.8V381.0ZM111.4 381.8V371.0H112.4V381.8ZM112.5 381.0V391.3H113.5V381.0ZM113.1 381.8V366.8H114.1V381.8ZM113.6 381.8V367.7H114.6V381.8ZM114.2 381.8V365.5H115.2V381.8ZM114.8 381.0V394.6H115.8V381.0ZM115.4 381.8V373.8H116.4V381.8ZM115.9 381.0V385.8H116.9V381.0ZM117.1 381.8V374.6H118.1V381.8ZM117.6 381.8V367.1H118.6V381.8ZM118.2 381.0V399.8H119.2V381.0ZM119.4 381.8V369.0H120.4V381.8ZM120.5 381.0V382.5H121.5V381.0ZM121.1 381.0V389.5H122.1V381.0ZM121.6 381.8V368.4H122.6V381.8ZM122.2 381.0V387.8H123.2V381.0ZM123.3 381.8V372.1H124.3V381.8ZM123.9 381.0V389.9H124.9V381.0ZM124.5 381.0V390.2H125.5V381.0ZM127.9 381.0V392.0H128.9V381.0ZM129.1 381.0V385.0H130.1V381.0ZM129.6 381.8V373.5H130.6V381.8ZM131.9 381.8V376.9H132.9V381.8ZM133.1 381.8V362.2H134.1V381.8ZM134.8 381.0V396.6H135.8V381.0ZM135.3 381.0V393.1H136.3V381.0ZM135.9 381.0V390.6H136.9V381.0ZM136.5 381.8V375.7H137.5V381.8ZM137.1 381.0V388.6H138.1V381.0ZM138.2 381.0V388.8H139.2V381.0ZM138.8 381.8V366.2H139.8V381.8ZM139.9 381.8V381.2H140.9V381.8ZM140.5 381.0V387.1H141.5V381.0ZM141.1 381.0V393.7H142.1V381.0ZM141.6 381.8V377.1H142.6V381.8ZM142.8 381.0V393.4H143.8V381.0ZM143.3 381.0V394.5H144.3V381.0ZM143.9 381.0V387.0H144.9V381.0ZM145.1 381.8V373.2H146.1V381.8ZM146.2 381.0V391.4H147.2V381.0ZM146.8 381.0V393.0H147.8V381.0ZM147.3 381.0V389.3H148.3V381.0ZM147.9 381.8V376.3H148.9V381.8ZM148.5 381.0V388.0H149.5V381.0ZM149.1 381.0V392.6H150.1V381.0ZM149.6 381.0V389.0H150.6V381.0ZM150.2 381.0V387.3H151.2V381.0ZM150.8 381.8V366.6H151.8V381.8ZM153.1 381.8V375.4H154.1V381.8ZM153.6 381.0V382.7H154.6V381.0ZM154.2 381.0V386.7H155.2V381.0ZM155.3 381.0V392.8H156.3V381.0ZM155.9 381.8V371.5H156.9V381.8ZM157.6 381.8V361.5H158.6V381.8ZM158.2 381.8V370.5H159.2V381.8ZM159.3 381.0V385.4H160.3V381.0ZM159.9 381.8V378.1H160.9V381.8ZM161.0 381.8V362.0H162.0V381.8ZM161.6 381.0V395.3H162.6V381.0ZM162.8 381.8V380.3H163.8V381.8ZM163.3 381.0V381.8H164.3V381.0ZM163.9 381.8V373.5H164.9V381.8ZM164.5 381.0V391.4H165.5V381.0ZM165.0 381.0V392.7H166.0V381.0ZM165.6 381.8V366.3H166.6V381.8ZM166.8 381.8V371.8H167.8V381.8ZM167.3 381.8V370.8H168.3V381.8ZM167.9 381.0V392.5H168.9V381.0ZM169.0 381.8V375.8H170.0V381.8ZM169.6 381.0V386.6H170.6V381.0ZM170.2 381.8V371.6H171.2V381.8ZM170.8 381.0V383.9H171.8V381.0ZM171.9 381.8V367.4H172.9V381.8ZM173.0 381.8V375.7H174.0V381.8ZM173.6 381.0V395.0H174.6V381.0ZM174.8 381.8V363.8H175.8V381.8ZM175.3 381.8V363.8H176.3V381.8Z" fill="#dca51e"/>
<path d="M29.7 381.8V360.7H30.7V381.8ZM30.2 381.0V395.3H31.2V381.0ZM30.8 381.0V400.1H31.8V381.0ZM32.0 381.8V359.8H33.0V381.8ZM32.5 381.8V363.2H33.5V381.8ZM34.2 381.8V365.5H35.2V381.8ZM34.8 381.8V372.6H35.8V381.8ZM35.4 381.0V393.0H36.4V381.0ZM36.0 381.8V368.5H37.0V381.8ZM37.1 381.0V398.3H38.1V381.0ZM38.2 381.0V389.0H39.2V381.0ZM38.8 381.8V361.0H39.8V381.8ZM39.4 381.0V390.2H40.4V381.0ZM40.0 381.8V366.3H41.0V381.8ZM44.0 381.0V392.1H45.0V381.0ZM44.5 381.0V392.2H45.5V381.0ZM45.1 381.0V387.3H46.1V381.0ZM45.7 381.8V363.9H46.7V381.8ZM46.2 381.8V362.4H47.2V381.8ZM48.5 381.0V398.3H49.5V381.0ZM50.8 381.8V363.1H51.8V381.8ZM51.4 381.8V364.7H52.4V381.8ZM51.9 381.8V372.5H52.9V381.8ZM54.8 381.8V371.2H55.8V381.8ZM55.4 381.0V394.0H56.4V381.0ZM55.9 381.0V394.1H56.9V381.0ZM56.5 381.0V399.3H57.5V381.0ZM57.7 381.8V364.9H58.7V381.8ZM58.8 381.8V370.8H59.8V381.8ZM59.4 381.8V369.6H60.4V381.8ZM61.1 381.8V368.6H62.1V381.8ZM61.7 381.8V371.2H62.7V381.8ZM63.4 381.8V361.8H64.4V381.8ZM65.1 381.8V366.9H66.1V381.8ZM65.7 381.0V387.7H66.7V381.0ZM66.2 381.8V369.0H67.2V381.8ZM67.4 381.8V369.5H68.4V381.8ZM68.5 381.8V368.7H69.5V381.8ZM69.1 381.0V393.3H70.1V381.0ZM70.2 381.0V393.9H71.2V381.0ZM70.8 381.8V374.4H71.8V381.8ZM71.4 381.0V388.2H72.4V381.0ZM71.9 381.8V365.5H72.9V381.8ZM73.1 381.8V365.0H74.1V381.8ZM75.4 381.8V367.0H76.4V381.8ZM75.9 381.8V369.0H76.9V381.8ZM77.1 381.8V362.0H78.1V381.8ZM77.7 381.0V399.1H78.7V381.0ZM78.2 381.0V390.2H79.2V381.0ZM78.8 381.0V387.7H79.8V381.0ZM79.4 381.0V397.3H80.4V381.0ZM79.9 381.0V389.8H80.9V381.0ZM81.1 381.8V368.7H82.1V381.8ZM81.7 381.0V394.9H82.7V381.0ZM82.2 381.8V367.2H83.2V381.8ZM82.8 381.0V396.8H83.8V381.0ZM83.4 381.0V391.3H84.4V381.0ZM83.9 381.0V400.5H84.9V381.0ZM84.5 381.8V373.4H85.5V381.8ZM85.1 381.0V397.8H86.1V381.0ZM86.2 381.0V387.2H87.2V381.0ZM86.8 381.8V369.3H87.8V381.8ZM87.9 381.8V362.2H88.9V381.8ZM88.5 381.8V361.6H89.5V381.8ZM89.6 381.8V363.1H90.6V381.8ZM90.2 381.0V395.6H91.2V381.0ZM92.5 381.0V397.3H93.5V381.0ZM93.1 381.8V360.8H94.1V381.8ZM94.2 381.8V361.7H95.2V381.8ZM94.8 381.8V367.4H95.8V381.8ZM95.9 381.0V389.0H96.9V381.0ZM97.1 381.0V398.6H98.1V381.0ZM97.6 381.0V389.7H98.6V381.0ZM99.4 381.0V398.7H100.4V381.0ZM99.9 381.8V360.7H100.9V381.8ZM100.5 381.8V369.9H101.5V381.8ZM101.1 381.8V373.0H102.1V381.8ZM101.6 381.0V388.2H102.6V381.0ZM102.8 381.8V371.2H103.8V381.8ZM103.9 381.8V363.3H104.9V381.8ZM105.6 381.0V400.4H106.6V381.0ZM107.4 381.8V373.8H108.4V381.8ZM110.8 381.0V395.1H111.8V381.0ZM111.4 381.8V366.8H112.4V381.8ZM111.9 381.8V366.2H112.9V381.8ZM112.5 381.8V368.6H113.5V381.8ZM113.6 381.0V394.4H114.6V381.0ZM114.2 381.0V389.1H115.2V381.0ZM114.8 381.0V388.6H115.8V381.0ZM116.5 381.8V371.5H117.5V381.8ZM117.1 381.0V395.6H118.1V381.0ZM117.6 381.0V396.8H118.6V381.0ZM118.8 381.0V390.6H119.8V381.0ZM119.4 381.8V365.1H120.4V381.8ZM119.9 381.0V393.2H120.9V381.0ZM120.5 381.8V374.7H121.5V381.8ZM122.8 381.0V398.2H123.8V381.0ZM123.3 381.0V396.1H124.3V381.0ZM124.5 381.0V399.0H125.5V381.0ZM125.1 381.8V367.5H126.1V381.8ZM125.6 381.8V368.3H126.6V381.8ZM126.2 381.8V362.2H127.2V381.8ZM126.8 381.8V369.6H127.8V381.8ZM127.3 381.8V372.7H128.3V381.8ZM128.5 381.8V368.6H129.5V381.8ZM129.1 381.8V373.4H130.1V381.8ZM130.2 381.0V399.7H131.2V381.0ZM130.8 381.0V389.4H131.8V381.0ZM131.3 381.0V400.5H132.3V381.0ZM132.5 381.0V399.6H133.5V381.0ZM133.6 381.0V391.3H134.6V381.0ZM134.2 381.8V371.7H135.2V381.8ZM134.8 381.8V372.9H135.8V381.8ZM136.5 381.8V374.6H137.5V381.8ZM137.1 381.8V369.0H138.1V381.8ZM137.6 381.0V392.3H138.6V381.0ZM138.2 381.0V389.9H139.2V381.0ZM139.3 381.0V391.1H140.3V381.0ZM139.9 381.8V373.9H140.9V381.8ZM141.1 381.0V395.3H142.1V381.0ZM142.2 381.8V368.5H143.2V381.8ZM143.9 381.8V364.5H144.9V381.8ZM144.5 381.0V389.0H145.5V381.0ZM145.1 381.8V370.0H146.1V381.8ZM145.6 381.0V391.3H146.6V381.0ZM146.2 381.8V369.6H147.2V381.8ZM146.8 381.8V372.1H147.8V381.8ZM147.3 381.8V363.0H148.3V381.8ZM147.9 381.0V394.7H148.9V381.0ZM151.3 381.8V361.6H152.3V381.8ZM151.9 381.0V389.0H152.9V381.0ZM152.5 381.0V391.3H153.5V381.0ZM154.2 381.8V373.9H155.2V381.8ZM154.8 381.0V399.8H155.8V381.0ZM155.3 381.0V391.8H156.3V381.0ZM156.5 381.8V369.7H157.5V381.8ZM157.1 381.8V360.0H158.1V381.8ZM158.8 381.8V363.6H159.8V381.8ZM160.5 381.0V396.6H161.5V381.0ZM161.6 381.8V373.9H162.6V381.8ZM162.2 381.8V372.7H163.2V381.8ZM162.8 381.8V363.9H163.8V381.8ZM163.3 381.0V394.1H164.3V381.0ZM164.5 381.8V374.0H165.5V381.8ZM166.2 381.8V368.5H167.2V381.8ZM167.9 381.8V360.8H168.9V381.8ZM168.5 381.0V398.9H169.5V381.0ZM169.0 381.8V361.4H170.0V381.8ZM170.8 381.8V372.4H171.8V381.8ZM171.3 381.0V388.6H172.3V381.0ZM171.9 381.0V390.8H172.9V381.0ZM172.5 381.0V397.1H173.5V381.0ZM173.0 381.0V400.0H174.0V381.0ZM174.2 381.0V393.1H175.2V381.0ZM175.3 381.0V395.2H176.3V381.0Z" fill="#752c84"/>
</g>
<rect x="29.6" y="337.5" width="146.80" height="87.80" fill="none" stroke="#666" stroke-width="0.45"/>
<path d="M29.60 425.3v-1.2M29.60 337.5v1.2" stroke="#555" stroke-width="0.4"/>
<text transform="translate(29.60 431.20) scale(1.32 1)" font-size="4.0" text-anchor="middle" font-weight="normal" fill="#383838">0</text>
<path d="M58.16 425.3v-1.2M58.16 337.5v1.2" stroke="#555" stroke-width="0.4"/>
<text transform="translate(58.16 431.20) scale(1.32 1)" font-size="4.0" text-anchor="middle" font-weight="normal" fill="#383838">50</text>
<path d="M86.72 425.3v-1.2M86.72 337.5v1.2" stroke="#555" stroke-width="0.4"/>
<text transform="translate(86.72 431.20) scale(1.32 1)" font-size="4.0" text-anchor="middle" font-weight="normal" fill="#383838">100</text>
<path d="M115.28 425.3v-1.2M115.28 337.5v1.2" stroke="#555" stroke-width="0.4"/>
<text transform="translate(115.28 431.20) scale(1.32 1)" font-size="4.0" text-anchor="middle" font-weight="normal" fill="#383838">150</text>
<path d="M143.84 425.3v-1.2M143.84 337.5v1.2" stroke="#555" stroke-width="0.4"/>
<text transform="translate(143.84 431.20) scale(1.32 1)" font-size="4.0" text-anchor="middle" font-weight="normal" fill="#383838">200</text>
<path d="M172.40 425.3v-1.2M172.40 337.5v1.2" stroke="#555" stroke-width="0.4"/>
<text transform="translate(172.40 431.20) scale(1.32 1)" font-size="4.0" text-anchor="middle" font-weight="normal" fill="#383838">250</text>
<path d="M29.6 425.30h1.2M176.4 425.30h-1.2" stroke="#555" stroke-width="0.4"/>
<text transform="translate(28.60 426.65) scale(1.32 1)" font-size="4.0" text-anchor="end" font-weight="normal" fill="#383838">-0.4</text>
<path d="M29.6 414.32h1.2M176.4 414.32h-1.2" stroke="#555" stroke-width="0.4"/>
<text transform="translate(28.60 415.68) scale(1.32 1)" font-size="4.0" text-anchor="end" font-weight="normal" fill="#383838">-0.3</text>
<path d="M29.6 403.35h1.2M176.4 403.35h-1.2" stroke="#555" stroke-width="0.4"/>
<text transform="translate(28.60 404.70) scale(1.32 1)" font-size="4.0" text-anchor="end" font-weight="normal" fill="#383838">-0.2</text>
<path d="M29.6 392.38h1.2M176.4 392.38h-1.2" stroke="#555" stroke-width="0.4"/>
<text transform="translate(28.60 393.73) scale(1.32 1)" font-size="4.0" text-anchor="end" font-weight="normal" fill="#383838">-0.1</text>
<path d="M29.6 381.40h1.2M176.4 381.40h-1.2" stroke="#555" stroke-width="0.4"/>
<text transform="translate(28.60 382.75) scale(1.32 1)" font-size="4.0" text-anchor="end" font-weight="normal" fill="#383838">0</text>
<path d="M29.6 370.43h1.2M176.4 370.43h-1.2" stroke="#555" stroke-width="0.4"/>
<text transform="translate(28.60 371.78) scale(1.32 1)" font-size="4.0" text-anchor="end" font-weight="normal" fill="#383838">0.1</text>
<path d="M29.6 359.45h1.2M176.4 359.45h-1.2" stroke="#555" stroke-width="0.4"/>
<text transform="translate(28.60 360.80) scale(1.32 1)" font-size="4.0" text-anchor="end" font-weight="normal" fill="#383838">0.2</text>
<path d="M29.6 348.48h1.2M176.4 348.48h-1.2" stroke="#555" stroke-width="0.4"/>
<text transform="translate(28.60 349.83) scale(1.32 1)" font-size="4.0" text-anchor="end" font-weight="normal" fill="#383838">0.3</text>
<path d="M29.6 337.50h1.2M176.4 337.50h-1.2" stroke="#555" stroke-width="0.4"/>
<text transform="translate(28.60 338.85) scale(1.32 1)" font-size="4.0" text-anchor="end" font-weight="normal" fill="#383838">0.4</text>
<text transform="translate(105.00 435.90) scale(1.32 1)" font-size="4.35" text-anchor="middle" font-weight="normal" fill="#333">Feature number</text>
<text transform="translate(17.60 380.10) rotate(-90) scale(1 1.32)" font-size="4.35" text-anchor="middle" font-weight="normal" fill="#333">Feature value</text>
<text transform="translate(108.00 336.20) scale(1.32 1)" font-size="4.55" text-anchor="middle" font-weight="bold" fill="#000">Features after Layer 12</text>
<text transform="translate(7.40 434.35) scale(1.4 1)" font-size="7.0" text-anchor="start" font-weight="bold" fill="#000" font-family="'DejaVu Sans','Liberation Sans',sans-serif" letter-spacing="0.3">(g)</text>
<rect x="83.8" y="339.2" width="38.4" height="17.5" fill="#fff" stroke="#444" stroke-width="0.4"/>
<rect x="85.0" y="340.20" width="13.8" height="2.9" fill="#0072bd"/>
<text transform="translate(99.70 342.85) scale(1.32 1)" font-size="3.4" text-anchor="start" font-weight="normal" fill="#222">Best HVHA</text>
<rect x="85.0" y="344.40" width="13.8" height="2.9" fill="#d95319"/>
<text transform="translate(99.70 347.05) scale(1.32 1)" font-size="3.4" text-anchor="start" font-weight="normal" fill="#222">Best HVLA</text>
<rect x="85.0" y="348.60" width="13.8" height="2.9" fill="#edb120"/>
<text transform="translate(99.70 351.25) scale(1.32 1)" font-size="3.4" text-anchor="start" font-weight="normal" fill="#222">Best LVHA</text>
<rect x="85.0" y="352.80" width="13.8" height="2.9" fill="#7e2f8e"/>
<text transform="translate(99.70 355.45) scale(1.32 1)" font-size="3.4" text-anchor="start" font-weight="normal" fill="#222">Best LVLA</text>
<g>
<path d="M219.8 381.4V385.1H221.2V381.4ZM221.0 381.4V388.8H222.4V381.4ZM222.1 381.4V379.5H223.5V381.4ZM223.3 381.4V374.2H224.7V381.4ZM224.4 381.4V359.9H225.8V381.4ZM225.6 381.4V383.5H227.0V381.4ZM226.7 381.4V387.0H228.1V381.4ZM227.9 381.4V403.4H229.2V381.4ZM229.0 381.4V404.7H230.4V381.4ZM230.1 381.4V374.2H231.5V381.4ZM231.3 381.4V380.6H232.7V381.4ZM232.4 381.4V383.1H233.8V381.4ZM233.6 381.4V409.3H235.0V381.4ZM234.7 381.4V378.0H236.1V381.4ZM235.9 381.4V381.0H237.3V381.4ZM237.0 381.4V381.2H238.4V381.4ZM238.1 381.4V366.3H239.5V381.4ZM239.3 381.4V375.0H240.7V381.4ZM240.4 381.4V383.2H241.8V381.4ZM241.6 381.4V384.5H243.0V381.4ZM242.7 381.4V378.6H244.1V381.4ZM243.9 381.4V384.0H245.3V381.4ZM245.0 381.4V368.9H246.4V381.4ZM245.0 381.4V389.5H246.4V381.4ZM246.1 381.4V389.3H247.5V381.4ZM247.3 381.4V359.0H248.7V381.4ZM248.4 381.4V385.7H249.8V381.4ZM249.6 381.4V362.5H251.0V381.4ZM250.7 381.4V376.8H252.1V381.4ZM251.9 381.4V376.5H253.3V381.4ZM253.0 381.4V387.4H254.4V381.4ZM254.2 381.4V355.5H255.5V381.4ZM255.3 381.4V371.5H256.7V381.4ZM256.4 381.4V399.4H257.8V381.4ZM257.6 381.4V382.5H259.0V381.4ZM258.7 381.4V382.1H260.1V381.4ZM259.9 381.4V400.3H261.3V381.4ZM261.0 381.4V389.9H262.4V381.4ZM262.2 381.4V357.3H263.6V381.4ZM263.3 381.4V369.8H264.7V381.4ZM264.4 381.4V376.2H265.8V381.4ZM265.6 381.4V402.9H267.0V381.4ZM266.7 381.4V363.4H268.1V381.4ZM266.7 381.4V401.2H268.1V381.4ZM267.9 381.4V379.9H269.3V381.4ZM269.0 381.4V377.8H270.4V381.4ZM270.2 381.4V377.8H271.6V381.4ZM271.3 381.4V368.2H272.7V381.4ZM272.4 381.4V360.8H273.8V381.4ZM272.4 381.4V402.9H273.8V381.4ZM273.6 381.4V381.6H275.0V381.4ZM274.7 381.4V387.3H276.1V381.4ZM275.9 381.4V385.4H277.3V381.4ZM277.0 381.4V378.2H278.4V381.4ZM278.2 381.4V383.2H279.6V381.4ZM279.3 381.4V358.1H280.7V381.4ZM280.5 381.4V360.8H281.8V381.4ZM281.6 381.4V382.5H283.0V381.4ZM282.7 381.4V375.6H284.1V381.4ZM283.9 381.4V379.5H285.3V381.4ZM285.0 381.4V379.1H286.4V381.4ZM286.2 381.4V378.2H287.6V381.4ZM287.3 381.4V395.7H288.7V381.4ZM288.5 381.4V374.8H289.9V381.4ZM289.6 381.4V382.9H291.0V381.4ZM290.7 381.4V374.2H292.1V381.4ZM291.9 381.4V383.6H293.3V381.4ZM293.0 381.4V393.0H294.4V381.4ZM294.2 381.4V388.4H295.6V381.4ZM295.3 381.4V380.7H296.7V381.4ZM296.5 381.4V383.4H297.9V381.4ZM297.6 381.4V380.9H299.0V381.4ZM298.7 381.4V387.2H300.1V381.4ZM299.9 381.4V377.8H301.3V381.4ZM301.0 381.4V380.3H302.4V381.4ZM302.2 381.4V376.0H303.6V381.4ZM303.3 381.4V360.8H304.7V381.4ZM304.5 381.4V374.2H305.9V381.4ZM305.6 381.4V359.0H307.0V381.4ZM305.6 381.4V395.7H307.0V381.4ZM306.8 381.4V376.8H308.1V381.4ZM307.9 381.4V399.0H309.3V381.4ZM309.0 381.4V401.2H310.4V381.4ZM310.2 381.4V359.9H311.6V381.4ZM311.3 381.4V368.9H312.7V381.4ZM312.5 381.4V387.4H313.9V381.4ZM313.6 381.4V373.1H315.0V381.4ZM314.8 381.4V358.1H316.2V381.4ZM315.9 381.4V376.4H317.3V381.4ZM317.0 381.4V401.2H318.4V381.4ZM318.2 381.4V377.0H319.6V381.4ZM319.3 381.4V385.7H320.7V381.4ZM320.5 381.4V369.8H321.9V381.4ZM321.6 381.4V380.8H323.0V381.4ZM322.8 381.4V395.7H324.2V381.4ZM323.9 381.4V360.8H325.3V381.4ZM325.1 381.4V366.0H326.4V381.4ZM326.2 381.4V370.6H327.6V381.4ZM327.3 381.4V381.8H328.7V381.4ZM328.5 381.4V368.9H329.9V381.4ZM329.6 381.4V393.0H331.0V381.4ZM330.8 381.4V379.5H332.2V381.4ZM331.9 381.4V387.3H333.3V381.4ZM333.1 381.4V369.8H334.5V381.4ZM334.2 381.4V380.8H335.6V381.4ZM335.3 381.4V383.9H336.7V381.4ZM336.5 381.4V383.9H337.9V381.4ZM337.6 381.4V381.5H339.0V381.4ZM338.8 381.4V377.2H340.2V381.4ZM339.9 381.4V402.0H341.3V381.4ZM341.1 381.4V372.4H342.5V381.4ZM341.1 381.4V399.0H342.5V381.4ZM342.2 381.4V382.9H343.6V381.4ZM343.3 381.4V380.0H344.7V381.4ZM344.5 381.4V382.9H345.9V381.4ZM345.6 381.4V384.3H347.0V381.4ZM346.8 381.4V399.0H348.2V381.4ZM347.9 381.4V402.0H349.3V381.4ZM349.1 381.4V389.8H350.5V381.4ZM350.2 381.4V378.3H351.6V381.4ZM351.4 381.4V358.1H352.7V381.4ZM351.4 381.4V395.7H352.7V381.4ZM352.5 381.4V378.3H353.9V381.4ZM353.6 381.4V383.2H355.0V381.4ZM354.8 381.4V377.9H356.2V381.4ZM355.9 381.4V374.3H357.3V381.4ZM357.1 381.4V377.6H358.5V381.4ZM358.2 381.4V384.2H359.6V381.4ZM359.4 381.4V382.1H360.8V381.4ZM360.5 381.4V369.8H361.9V381.4ZM361.6 381.4V372.8H363.0V381.4ZM362.8 381.4V381.6H364.2V381.4ZM363.9 381.4V360.8H365.3V381.4ZM363.9 381.4V393.0H365.3V381.4ZM365.1 381.4V363.8H366.0V381.4Z" fill="#005084"/>
<path d="M219.8 381.4V385.1H221.2V381.4M221.0 381.4V388.8H222.4V381.4M222.1 381.4V379.5H223.5V381.4M223.3 381.4V374.2H224.7V381.4M224.4 381.4V359.9H225.8V381.4M225.6 381.4V383.5H227.0V381.4M226.7 381.4V387.0H228.1V381.4M227.9 381.4V403.4H229.2V381.4M229.0 381.4V404.7H230.4V381.4M230.1 381.4V374.2H231.5V381.4M231.3 381.4V380.6H232.7V381.4M232.4 381.4V383.1H233.8V381.4M233.6 381.4V409.3H235.0V381.4M234.7 381.4V378.0H236.1V381.4M235.9 381.4V381.0H237.3V381.4M237.0 381.4V381.2H238.4V381.4M238.1 381.4V366.3H239.5V381.4M239.3 381.4V375.0H240.7V381.4M240.4 381.4V383.2H241.8V381.4M241.6 381.4V384.5H243.0V381.4M242.7 381.4V378.6H244.1V381.4M243.9 381.4V384.0H245.3V381.4M245.0 381.4V368.9H246.4V381.4M245.0 381.4V389.5H246.4V381.4M246.1 381.4V389.3H247.5V381.4M247.3 381.4V359.0H248.7V381.4M248.4 381.4V385.7H249.8V381.4M249.6 381.4V362.5H251.0V381.4M250.7 381.4V376.8H252.1V381.4M251.9 381.4V376.5H253.3V381.4M253.0 381.4V387.4H254.4V381.4M254.2 381.4V355.5H255.5V381.4M255.3 381.4V371.5H256.7V381.4M256.4 381.4V399.4H257.8V381.4M257.6 381.4V382.5H259.0V381.4M258.7 381.4V382.1H260.1V381.4M259.9 381.4V400.3H261.3V381.4M261.0 381.4V389.9H262.4V381.4M262.2 381.4V357.3H263.6V381.4M263.3 381.4V369.8H264.7V381.4M264.4 381.4V376.2H265.8V381.4M265.6 381.4V402.9H267.0V381.4M266.7 381.4V363.4H268.1V381.4M266.7 381.4V401.2H268.1V381.4M267.9 381.4V379.9H269.3V381.4M269.0 381.4V377.8H270.4V381.4M270.2 381.4V377.8H271.6V381.4M271.3 381.4V368.2H272.7V381.4M272.4 381.4V360.8H273.8V381.4M272.4 381.4V402.9H273.8V381.4M273.6 381.4V381.6H275.0V381.4M274.7 381.4V387.3H276.1V381.4M275.9 381.4V385.4H277.3V381.4M277.0 381.4V378.2H278.4V381.4M278.2 381.4V383.2H279.6V381.4M279.3 381.4V358.1H280.7V381.4M280.5 381.4V360.8H281.8V381.4M281.6 381.4V382.5H283.0V381.4M282.7 381.4V375.6H284.1V381.4M283.9 381.4V379.5H285.3V381.4M285.0 381.4V379.1H286.4V381.4M286.2 381.4V378.2H287.6V381.4M287.3 381.4V395.7H288.7V381.4M288.5 381.4V374.8H289.9V381.4M289.6 381.4V382.9H291.0V381.4M290.7 381.4V374.2H292.1V381.4M291.9 381.4V383.6H293.3V381.4M293.0 381.4V393.0H294.4V381.4M294.2 381.4V388.4H295.6V381.4M295.3 381.4V380.7H296.7V381.4M296.5 381.4V383.4H297.9V381.4M297.6 381.4V380.9H299.0V381.4M298.7 381.4V387.2H300.1V381.4M299.9 381.4V377.8H301.3V381.4M301.0 381.4V380.3H302.4V381.4M302.2 381.4V376.0H303.6V381.4M303.3 381.4V360.8H304.7V381.4M304.5 381.4V374.2H305.9V381.4M305.6 381.4V359.0H307.0V381.4M305.6 381.4V395.7H307.0V381.4M306.8 381.4V376.8H308.1V381.4M307.9 381.4V399.0H309.3V381.4M309.0 381.4V401.2H310.4V381.4M310.2 381.4V359.9H311.6V381.4M311.3 381.4V368.9H312.7V381.4M312.5 381.4V387.4H313.9V381.4M313.6 381.4V373.1H315.0V381.4M314.8 381.4V358.1H316.2V381.4M315.9 381.4V376.4H317.3V381.4M317.0 381.4V401.2H318.4V381.4M318.2 381.4V377.0H319.6V381.4M319.3 381.4V385.7H320.7V381.4M320.5 381.4V369.8H321.9V381.4M321.6 381.4V380.8H323.0V381.4M322.8 381.4V395.7H324.2V381.4M323.9 381.4V360.8H325.3V381.4M325.1 381.4V366.0H326.4V381.4M326.2 381.4V370.6H327.6V381.4M327.3 381.4V381.8H328.7V381.4M328.5 381.4V368.9H329.9V381.4M329.6 381.4V393.0H331.0V381.4M330.8 381.4V379.5H332.2V381.4M331.9 381.4V387.3H333.3V381.4M333.1 381.4V369.8H334.5V381.4M334.2 381.4V380.8H335.6V381.4M335.3 381.4V383.9H336.7V381.4M336.5 381.4V383.9H337.9V381.4M337.6 381.4V381.5H339.0V381.4M338.8 381.4V377.2H340.2V381.4M339.9 381.4V402.0H341.3V381.4M341.1 381.4V372.4H342.5V381.4M341.1 381.4V399.0H342.5V381.4M342.2 381.4V382.9H343.6V381.4M343.3 381.4V380.0H344.7V381.4M344.5 381.4V382.9H345.9V381.4M345.6 381.4V384.3H347.0V381.4M346.8 381.4V399.0H348.2V381.4M347.9 381.4V402.0H349.3V381.4M349.1 381.4V389.8H350.5V381.4M350.2 381.4V378.3H351.6V381.4M351.4 381.4V358.1H352.7V381.4M351.4 381.4V395.7H352.7V381.4M352.5 381.4V378.3H353.9V381.4M353.6 381.4V383.2H355.0V381.4M354.8 381.4V377.9H356.2V381.4M355.9 381.4V374.3H357.3V381.4M357.1 381.4V377.6H358.5V381.4M358.2 381.4V384.2H359.6V381.4M359.4 381.4V382.1H360.8V381.4M360.5 381.4V369.8H361.9V381.4M361.6 381.4V372.8H363.0V381.4M362.8 381.4V381.6H364.2V381.4M363.9 381.4V360.8H365.3V381.4M363.9 381.4V393.0H365.3V381.4M365.1 381.4V363.8H366.0V381.4" fill="none" stroke="#000" stroke-opacity="0.6" stroke-width="0.45"/>
<path d="M219.8 381.4V356.4H221.2V381.4ZM221.0 381.4V407.3H222.4V381.4ZM222.1 381.4V382.0H223.5V381.4ZM223.3 381.4V379.5H224.7V381.4ZM224.4 381.4V412.8H225.8V381.4ZM225.6 381.4V388.3H227.0V381.4ZM226.7 381.4V344.7H228.1V381.4ZM227.9 381.4V377.8H229.2V381.4ZM229.0 381.4V380.1H230.4V381.4ZM230.1 381.4V381.6H231.5V381.4ZM231.3 381.4V408.2H232.7V381.4ZM232.4 381.4V350.9H233.8V381.4ZM233.6 381.4V369.8H235.0V381.4ZM234.7 381.4V381.4H236.1V381.4ZM235.9 381.4V412.8H237.3V381.4ZM237.0 381.4V409.9H238.4V381.4ZM238.1 381.4V383.5H239.5V381.4ZM239.3 381.4V379.5H240.7V381.4ZM240.4 381.4V387.3H241.8V381.4ZM241.6 381.4V378.6H243.0V381.4ZM242.7 381.4V369.8H244.1V381.4ZM242.7 381.4V415.4H244.1V381.4ZM243.9 381.4V382.3H245.3V381.4ZM245.0 381.4V382.9H246.4V381.4ZM246.1 381.4V403.8H247.5V381.4ZM247.3 381.4V378.9H248.7V381.4ZM248.4 381.4V371.5H249.8V381.4ZM248.4 381.4V402.0H249.8V381.4ZM249.6 381.4V383.7H251.0V381.4ZM250.7 381.4V385.4H252.1V381.4ZM251.9 381.4V378.7H253.3V381.4ZM253.0 381.4V405.5H254.4V381.4ZM254.2 381.4V411.9H255.5V381.4ZM255.3 381.4V380.7H256.7V381.4ZM256.4 381.4V380.3H257.8V381.4ZM257.6 381.4V382.9H259.0V381.4ZM258.7 381.4V386.4H260.1V381.4ZM259.9 381.4V383.3H261.3V381.4ZM261.0 381.4V404.7H262.4V381.4ZM262.2 381.4V409.3H263.6V381.4ZM263.3 381.4V379.9H264.7V381.4ZM264.4 381.4V357.3H265.8V381.4ZM265.6 381.4V366.0H267.0V381.4ZM266.7 381.4V374.2H268.1V381.4ZM267.9 381.4V375.9H269.3V381.4ZM269.0 381.4V384.6H270.4V381.4ZM270.2 381.4V383.4H271.6V381.4ZM271.3 381.4V379.2H272.7V381.4ZM272.4 381.4V379.5H273.8V381.4ZM273.6 381.4V356.4H275.0V381.4ZM274.7 381.4V365.4H276.1V381.4ZM275.9 381.4V378.0H277.3V381.4ZM277.0 381.4V381.4H278.4V381.4ZM278.2 381.4V343.9H279.6V381.4ZM279.3 381.4V386.6H280.7V381.4ZM280.5 381.4V411.0H281.8V381.4ZM281.6 381.4V379.9H283.0V381.4ZM282.7 381.4V377.4H284.1V381.4ZM283.9 381.4V393.0H285.3V381.4ZM285.0 381.4V379.0H286.4V381.4ZM286.2 381.4V354.6H287.6V381.4ZM287.3 381.4V376.8H288.7V381.4ZM288.5 381.4V350.9H289.9V381.4ZM289.6 381.4V383.0H291.0V381.4ZM290.7 381.4V383.9H292.1V381.4ZM291.9 381.4V383.0H293.3V381.4ZM293.0 381.4V358.1H294.4V381.4ZM294.2 381.4V405.5H295.6V381.4ZM295.3 381.4V378.4H296.7V381.4ZM296.5 381.4V403.8H297.9V381.4ZM297.6 381.4V409.3H299.0V381.4ZM298.7 381.4V407.7H300.1V381.4ZM299.9 381.4V387.4H301.3V381.4ZM301.0 381.4V382.2H302.4V381.4ZM302.2 381.4V366.3H303.6V381.4ZM303.3 381.4V383.5H304.7V381.4ZM304.5 381.4V380.2H305.9V381.4ZM306.8 381.4V369.8H308.1V381.4ZM307.9 381.4V378.8H309.3V381.4ZM309.0 381.4V360.8H310.4V381.4ZM310.2 381.4V378.7H311.6V381.4ZM311.3 381.4V386.1H312.7V381.4ZM312.5 381.4V352.6H313.9V381.4ZM313.6 381.4V350.9H315.0V381.4ZM313.6 381.4V401.2H315.0V381.4ZM314.8 381.4V403.8H316.2V381.4ZM315.9 381.4V379.7H317.3V381.4ZM317.0 381.4V382.7H318.4V381.4ZM318.2 381.4V355.5H319.6V381.4ZM319.3 381.4V378.9H320.7V381.4ZM320.5 381.4V382.9H321.9V381.4ZM321.6 381.4V383.3H323.0V381.4ZM322.8 381.4V378.3H324.2V381.4ZM323.9 381.4V384.3H325.3V381.4ZM326.2 381.4V394.8H327.6V381.4ZM327.3 381.4V381.6H328.7V381.4ZM328.5 381.4V383.8H329.9V381.4ZM329.6 381.4V349.1H331.0V381.4ZM330.8 381.4V360.8H332.2V381.4ZM331.9 381.4V355.5H333.3V381.4ZM333.1 381.4V402.0H334.5V381.4ZM334.2 381.4V380.3H335.6V381.4ZM335.3 381.4V399.4H336.7V381.4ZM336.5 381.4V379.0H337.9V381.4ZM337.6 381.4V377.8H339.0V381.4ZM338.8 381.4V361.6H340.2V381.4ZM339.9 381.4V363.4H341.3V381.4ZM341.1 381.4V380.1H342.5V381.4ZM342.2 381.4V383.7H343.6V381.4ZM343.3 381.4V383.4H344.7V381.4ZM344.5 381.4V394.8H345.9V381.4ZM345.6 381.4V379.5H347.0V381.4ZM346.8 381.4V378.9H348.2V381.4ZM347.9 381.4V363.4H349.3V381.4ZM349.1 381.4V359.0H350.5V381.4ZM349.1 381.4V404.7H350.5V381.4ZM350.2 381.4V361.6H351.6V381.4ZM351.4 381.4V379.9H352.7V381.4ZM352.5 381.4V380.2H353.9V381.4ZM353.6 381.4V379.9H355.0V381.4ZM354.8 381.4V402.0H356.2V381.4ZM355.9 381.4V404.7H357.3V381.4ZM357.1 381.4V368.9H358.5V381.4ZM358.2 381.4V382.2H359.6V381.4ZM359.4 381.4V356.4H360.8V381.4ZM360.5 381.4V376.4H361.9V381.4ZM361.6 381.4V402.9H363.0V381.4ZM362.8 381.4V380.4H364.2V381.4ZM363.9 381.4V383.7H365.3V381.4ZM365.1 381.4V384.8H366.0V381.4Z" fill="#983a12"/>
<path d="M219.8 381.4V356.4H221.2V381.4M221.0 381.4V407.3H222.4V381.4M222.1 381.4V382.0H223.5V381.4M223.3 381.4V379.5H224.7V381.4M224.4 381.4V412.8H225.8V381.4M225.6 381.4V388.3H227.0V381.4M226.7 381.4V344.7H228.1V381.4M227.9 381.4V377.8H229.2V381.4M229.0 381.4V380.1H230.4V381.4M230.1 381.4V381.6H231.5V381.4M231.3 381.4V408.2H232.7V381.4M232.4 381.4V350.9H233.8V381.4M233.6 381.4V369.8H235.0V381.4M234.7 381.4V381.4H236.1V381.4M235.9 381.4V412.8H237.3V381.4M237.0 381.4V409.9H238.4V381.4M238.1 381.4V383.5H239.5V381.4M239.3 381.4V379.5H240.7V381.4M240.4 381.4V387.3H241.8V381.4M241.6 381.4V378.6H243.0V381.4M242.7 381.4V369.8H244.1V381.4M242.7 381.4V415.4H244.1V381.4M243.9 381.4V382.3H245.3V381.4M245.0 381.4V382.9H246.4V381.4M246.1 381.4V403.8H247.5V381.4M247.3 381.4V378.9H248.7V381.4M248.4 381.4V371.5H249.8V381.4M248.4 381.4V402.0H249.8V381.4M249.6 381.4V383.7H251.0V381.4M250.7 381.4V385.4H252.1V381.4M251.9 381.4V378.7H253.3V381.4M253.0 381.4V405.5H254.4V381.4M254.2 381.4V411.9H255.5V381.4M255.3 381.4V380.7H256.7V381.4M256.4 381.4V380.3H257.8V381.4M257.6 381.4V382.9H259.0V381.4M258.7 381.4V386.4H260.1V381.4M259.9 381.4V383.3H261.3V381.4M261.0 381.4V404.7H262.4V381.4M262.2 381.4V409.3H263.6V381.4M263.3 381.4V379.9H264.7V381.4M264.4 381.4V357.3H265.8V381.4M265.6 381.4V366.0H267.0V381.4M266.7 381.4V374.2H268.1V381.4M267.9 381.4V375.9H269.3V381.4M269.0 381.4V384.6H270.4V381.4M270.2 381.4V383.4H271.6V381.4M271.3 381.4V379.2H272.7V381.4M272.4 381.4V379.5H273.8V381.4M273.6 381.4V356.4H275.0V381.4M274.7 381.4V365.4H276.1V381.4M275.9 381.4V378.0H277.3V381.4M277.0 381.4V381.4H278.4V381.4M278.2 381.4V343.9H279.6V381.4M279.3 381.4V386.6H280.7V381.4M280.5 381.4V411.0H281.8V381.4M281.6 381.4V379.9H283.0V381.4M282.7 381.4V377.4H284.1V381.4M283.9 381.4V393.0H285.3V381.4M285.0 381.4V379.0H286.4V381.4M286.2 381.4V354.6H287.6V381.4M287.3 381.4V376.8H288.7V381.4M288.5 381.4V350.9H289.9V381.4M289.6 381.4V383.0H291.0V381.4M290.7 381.4V383.9H292.1V381.4M291.9 381.4V383.0H293.3V381.4M293.0 381.4V358.1H294.4V381.4M294.2 381.4V405.5H295.6V381.4M295.3 381.4V378.4H296.7V381.4M296.5 381.4V403.8H297.9V381.4M297.6 381.4V409.3H299.0V381.4M298.7 381.4V407.7H300.1V381.4M299.9 381.4V387.4H301.3V381.4M301.0 381.4V382.2H302.4V381.4M302.2 381.4V366.3H303.6V381.4M303.3 381.4V383.5H304.7V381.4M304.5 381.4V380.2H305.9V381.4M306.8 381.4V369.8H308.1V381.4M307.9 381.4V378.8H309.3V381.4M309.0 381.4V360.8H310.4V381.4M310.2 381.4V378.7H311.6V381.4M311.3 381.4V386.1H312.7V381.4M312.5 381.4V352.6H313.9V381.4M313.6 381.4V350.9H315.0V381.4M313.6 381.4V401.2H315.0V381.4M314.8 381.4V403.8H316.2V381.4M315.9 381.4V379.7H317.3V381.4M317.0 381.4V382.7H318.4V381.4M318.2 381.4V355.5H319.6V381.4M319.3 381.4V378.9H320.7V381.4M320.5 381.4V382.9H321.9V381.4M321.6 381.4V383.3H323.0V381.4M322.8 381.4V378.3H324.2V381.4M323.9 381.4V384.3H325.3V381.4M326.2 381.4V394.8H327.6V381.4M327.3 381.4V381.6H328.7V381.4M328.5 381.4V383.8H329.9V381.4M329.6 381.4V349.1H331.0V381.4M330.8 381.4V360.8H332.2V381.4M331.9 381.4V355.5H333.3V381.4M333.1 381.4V402.0H334.5V381.4M334.2 381.4V380.3H335.6V381.4M335.3 381.4V399.4H336.7V381.4M336.5 381.4V379.0H337.9V381.4M337.6 381.4V377.8H339.0V381.4M338.8 381.4V361.6H340.2V381.4M339.9 381.4V363.4H341.3V381.4M341.1 381.4V380.1H342.5V381.4M342.2 381.4V383.7H343.6V381.4M343.3 381.4V383.4H344.7V381.4M344.5 381.4V394.8H345.9V381.4M345.6 381.4V379.5H347.0V381.4M346.8 381.4V378.9H348.2V381.4M347.9 381.4V363.4H349.3V381.4M349.1 381.4V359.0H350.5V381.4M349.1 381.4V404.7H350.5V381.4M350.2 381.4V361.6H351.6V381.4M351.4 381.4V379.9H352.7V381.4M352.5 381.4V380.2H353.9V381.4M353.6 381.4V379.9H355.0V381.4M354.8 381.4V402.0H356.2V381.4M355.9 381.4V404.7H357.3V381.4M357.1 381.4V368.9H358.5V381.4M358.2 381.4V382.2H359.6V381.4M359.4 381.4V356.4H360.8V381.4M360.5 381.4V376.4H361.9V381.4M361.6 381.4V402.9H363.0V381.4M362.8 381.4V380.4H364.2V381.4M363.9 381.4V383.7H365.3V381.4M365.1 381.4V384.8H366.0V381.4" fill="none" stroke="#000" stroke-opacity="0.6" stroke-width="0.45"/>
<path d="M219.8 381.4V396.5H221.2V381.4ZM221.0 381.4V361.6H222.4V381.4ZM222.1 381.4V365.4H223.5V381.4ZM222.1 381.4V396.5H223.5V381.4ZM223.3 381.4V383.8H224.7V381.4ZM224.4 381.4V383.2H225.8V381.4ZM225.6 381.4V359.0H227.0V381.4ZM226.7 381.4V383.0H228.1V381.4ZM227.9 381.4V381.4H229.2V381.4ZM229.0 381.4V363.4H230.4V381.4ZM230.1 381.4V386.4H231.5V381.4ZM231.3 381.4V369.8H232.7V381.4ZM232.4 381.4V385.8H233.8V381.4ZM233.6 381.4V379.3H235.0V381.4ZM234.7 381.4V384.4H236.1V381.4ZM235.9 381.4V387.6H237.3V381.4ZM237.0 381.4V357.3H238.4V381.4ZM238.1 381.4V384.6H239.5V381.4ZM239.3 381.4V379.2H240.7V381.4ZM240.4 381.4V378.5H241.8V381.4ZM241.6 381.4V393.0H243.0V381.4ZM242.7 381.4V384.9H244.1V381.4ZM243.9 381.4V370.6H245.3V381.4ZM245.0 381.4V384.4H246.4V381.4ZM246.1 381.4V384.2H247.5V381.4ZM247.3 381.4V375.7H248.7V381.4ZM248.4 381.4V382.4H249.8V381.4ZM249.6 381.4V374.2H251.0V381.4ZM250.7 381.4V360.8H252.1V381.4ZM251.9 381.4V393.0H253.3V381.4ZM253.0 381.4V360.8H254.4V381.4ZM254.2 381.4V382.0H255.5V381.4ZM255.3 381.4V381.8H256.7V381.4ZM256.4 381.4V380.3H257.8V381.4ZM257.6 381.4V364.3H259.0V381.4ZM258.7 381.4V367.1H260.1V381.4ZM259.9 381.4V381.9H261.3V381.4ZM261.0 381.4V376.0H262.4V381.4ZM262.2 381.4V387.3H263.6V381.4ZM263.3 381.4V386.6H264.7V381.4ZM264.4 381.4V375.9H265.8V381.4ZM265.6 381.4V380.7H267.0V381.4ZM266.7 381.4V375.7H268.1V381.4ZM267.9 381.4V365.4H269.3V381.4ZM269.0 381.4V367.1H270.4V381.4ZM269.0 381.4V393.0H270.4V381.4ZM270.2 381.4V383.6H271.6V381.4ZM271.3 381.4V401.2H272.7V381.4ZM272.4 381.4V384.0H273.8V381.4ZM273.6 381.4V403.8H275.0V381.4ZM274.7 381.4V396.5H276.1V381.4ZM275.9 381.4V364.3H277.3V381.4ZM277.0 381.4V383.7H278.4V381.4ZM278.2 381.4V371.7H279.6V381.4ZM279.3 381.4V374.8H280.7V381.4ZM280.5 381.4V376.2H281.8V381.4ZM281.6 381.4V370.6H283.0V381.4ZM281.6 381.4V399.4H283.0V381.4ZM282.7 381.4V362.5H284.1V381.4ZM282.7 381.4V396.8H284.1V381.4ZM283.9 381.4V367.1H285.3V381.4ZM285.0 381.4V383.7H286.4V381.4ZM286.2 381.4V391.3H287.6V381.4ZM287.3 381.4V379.4H288.7V381.4ZM288.5 381.4V376.9H289.9V381.4ZM289.6 381.4V382.6H291.0V381.4ZM290.7 381.4V380.0H292.1V381.4ZM291.9 381.4V360.8H293.3V381.4ZM293.0 381.4V384.3H294.4V381.4ZM294.2 381.4V389.9H295.6V381.4ZM295.3 381.4V361.6H296.7V381.4ZM296.5 381.4V368.9H297.9V381.4ZM297.6 381.4V377.4H299.0V381.4ZM298.7 381.4V382.9H300.1V381.4ZM299.9 381.4V376.1H301.3V381.4ZM301.0 381.4V368.9H302.4V381.4ZM301.0 381.4V392.2H302.4V381.4ZM302.2 381.4V378.8H303.6V381.4ZM303.3 381.4V376.0H304.7V381.4ZM304.5 381.4V381.6H305.9V381.4ZM305.6 381.4V375.3H307.0V381.4ZM306.8 381.4V384.4H308.1V381.4ZM307.9 381.4V372.4H309.3V381.4ZM309.0 381.4V383.7H310.4V381.4ZM310.2 381.4V396.5H311.6V381.4ZM311.3 381.4V385.0H312.7V381.4ZM312.5 381.4V382.6H313.9V381.4ZM313.6 381.4V372.5H315.0V381.4ZM314.8 381.4V371.6H316.2V381.4ZM315.9 381.4V359.9H317.3V381.4ZM317.0 381.4V370.6H318.4V381.4ZM318.2 381.4V397.4H319.6V381.4ZM319.3 381.4V365.4H320.7V381.4ZM319.3 381.4V394.6H320.7V381.4ZM320.5 381.4V382.2H321.9V381.4ZM321.6 381.4V380.0H323.0V381.4ZM322.8 381.4V380.3H324.2V381.4ZM323.9 381.4V396.8H325.3V381.4ZM325.1 381.4V398.5H326.4V381.4ZM326.2 381.4V382.7H327.6V381.4ZM327.3 381.4V372.4H328.7V381.4ZM327.3 381.4V401.2H328.7V381.4ZM328.5 381.4V384.0H329.9V381.4ZM329.6 381.4V378.7H331.0V381.4ZM330.8 381.4V396.8H332.2V381.4ZM331.9 381.4V398.5H333.3V381.4ZM333.1 381.4V378.9H334.5V381.4ZM334.2 381.4V385.4H335.6V381.4ZM335.3 381.4V382.6H336.7V381.4ZM336.5 381.4V383.4H337.9V381.4ZM337.6 381.4V367.1H339.0V381.4ZM338.8 381.4V393.0H340.2V381.4ZM339.9 381.4V378.7H341.3V381.4ZM341.1 381.4V383.4H342.5V381.4ZM342.2 381.4V383.6H343.6V381.4ZM343.3 381.4V382.2H344.7V381.4ZM344.5 381.4V374.2H345.9V381.4ZM345.6 381.4V379.4H347.0V381.4ZM346.8 381.4V375.6H348.2V381.4ZM347.9 381.4V384.4H349.3V381.4ZM349.1 381.4V381.3H350.5V381.4ZM350.2 381.4V375.1H351.6V381.4ZM351.4 381.4V381.8H352.7V381.4ZM352.5 381.4V384.9H353.9V381.4ZM353.6 381.4V374.2H355.0V381.4ZM354.8 381.4V359.0H356.2V381.4ZM355.9 381.4V385.2H357.3V381.4ZM357.1 381.4V382.5H358.5V381.4ZM358.2 381.4V378.8H359.6V381.4ZM359.4 381.4V396.5H360.8V381.4ZM360.5 381.4V394.6H361.9V381.4ZM362.8 381.4V367.1H364.2V381.4ZM363.9 381.4V380.9H365.3V381.4ZM365.1 381.4V382.7H366.0V381.4Z" fill="#a67c16"/>
<path d="M219.8 381.4V396.5H221.2V381.4M221.0 381.4V361.6H222.4V381.4M222.1 381.4V365.4H223.5V381.4M222.1 381.4V396.5H223.5V381.4M223.3 381.4V383.8H224.7V381.4M224.4 381.4V383.2H225.8V381.4M225.6 381.4V359.0H227.0V381.4M226.7 381.4V383.0H228.1V381.4M227.9 381.4V381.4H229.2V381.4M229.0 381.4V363.4H230.4V381.4M230.1 381.4V386.4H231.5V381.4M231.3 381.4V369.8H232.7V381.4M232.4 381.4V385.8H233.8V381.4M233.6 381.4V379.3H235.0V381.4M234.7 381.4V384.4H236.1V381.4M235.9 381.4V387.6H237.3V381.4M237.0 381.4V357.3H238.4V381.4M238.1 381.4V384.6H239.5V381.4M239.3 381.4V379.2H240.7V381.4M240.4 381.4V378.5H241.8V381.4M241.6 381.4V393.0H243.0V381.4M242.7 381.4V384.9H244.1V381.4M243.9 381.4V370.6H245.3V381.4M245.0 381.4V384.4H246.4V381.4M246.1 381.4V384.2H247.5V381.4M247.3 381.4V375.7H248.7V381.4M248.4 381.4V382.4H249.8V381.4M249.6 381.4V374.2H251.0V381.4M250.7 381.4V360.8H252.1V381.4M251.9 381.4V393.0H253.3V381.4M253.0 381.4V360.8H254.4V381.4M254.2 381.4V382.0H255.5V381.4M255.3 381.4V381.8H256.7V381.4M256.4 381.4V380.3H257.8V381.4M257.6 381.4V364.3H259.0V381.4M258.7 381.4V367.1H260.1V381.4M259.9 381.4V381.9H261.3V381.4M261.0 381.4V376.0H262.4V381.4M262.2 381.4V387.3H263.6V381.4M263.3 381.4V386.6H264.7V381.4M264.4 381.4V375.9H265.8V381.4M265.6 381.4V380.7H267.0V381.4M266.7 381.4V375.7H268.1V381.4M267.9 381.4V365.4H269.3V381.4M269.0 381.4V367.1H270.4V381.4M269.0 381.4V393.0H270.4V381.4M270.2 381.4V383.6H271.6V381.4M271.3 381.4V401.2H272.7V381.4M272.4 381.4V384.0H273.8V381.4M273.6 381.4V403.8H275.0V381.4M274.7 381.4V396.5H276.1V381.4M275.9 381.4V364.3H277.3V381.4M277.0 381.4V383.7H278.4V381.4M278.2 381.4V371.7H279.6V381.4M279.3 381.4V374.8H280.7V381.4M280.5 381.4V376.2H281.8V381.4M281.6 381.4V370.6H283.0V381.4M281.6 381.4V399.4H283.0V381.4M282.7 381.4V362.5H284.1V381.4M282.7 381.4V396.8H284.1V381.4M283.9 381.4V367.1H285.3V381.4M285.0 381.4V383.7H286.4V381.4M286.2 381.4V391.3H287.6V381.4M287.3 381.4V379.4H288.7V381.4M288.5 381.4V376.9H289.9V381.4M289.6 381.4V382.6H291.0V381.4M290.7 381.4V380.0H292.1V381.4M291.9 381.4V360.8H293.3V381.4M293.0 381.4V384.3H294.4V381.4M294.2 381.4V389.9H295.6V381.4M295.3 381.4V361.6H296.7V381.4M296.5 381.4V368.9H297.9V381.4M297.6 381.4V377.4H299.0V381.4M298.7 381.4V382.9H300.1V381.4M299.9 381.4V376.1H301.3V381.4M301.0 381.4V368.9H302.4V381.4M301.0 381.4V392.2H302.4V381.4M302.2 381.4V378.8H303.6V381.4M303.3 381.4V376.0H304.7V381.4M304.5 381.4V381.6H305.9V381.4M305.6 381.4V375.3H307.0V381.4M306.8 381.4V384.4H308.1V381.4M307.9 381.4V372.4H309.3V381.4M309.0 381.4V383.7H310.4V381.4M310.2 381.4V396.5H311.6V381.4M311.3 381.4V385.0H312.7V381.4M312.5 381.4V382.6H313.9V381.4M313.6 381.4V372.5H315.0V381.4M314.8 381.4V371.6H316.2V381.4M315.9 381.4V359.9H317.3V381.4M317.0 381.4V370.6H318.4V381.4M318.2 381.4V397.4H319.6V381.4M319.3 381.4V365.4H320.7V381.4M319.3 381.4V394.6H320.7V381.4M320.5 381.4V382.2H321.9V381.4M321.6 381.4V380.0H323.0V381.4M322.8 381.4V380.3H324.2V381.4M323.9 381.4V396.8H325.3V381.4M325.1 381.4V398.5H326.4V381.4M326.2 381.4V382.7H327.6V381.4M327.3 381.4V372.4H328.7V381.4M327.3 381.4V401.2H328.7V381.4M328.5 381.4V384.0H329.9V381.4M329.6 381.4V378.7H331.0V381.4M330.8 381.4V396.8H332.2V381.4M331.9 381.4V398.5H333.3V381.4M333.1 381.4V378.9H334.5V381.4M334.2 381.4V385.4H335.6V381.4M335.3 381.4V382.6H336.7V381.4M336.5 381.4V383.4H337.9V381.4M337.6 381.4V367.1H339.0V381.4M338.8 381.4V393.0H340.2V381.4M339.9 381.4V378.7H341.3V381.4M341.1 381.4V383.4H342.5V381.4M342.2 381.4V383.6H343.6V381.4M343.3 381.4V382.2H344.7V381.4M344.5 381.4V374.2H345.9V381.4M345.6 381.4V379.4H347.0V381.4M346.8 381.4V375.6H348.2V381.4M347.9 381.4V384.4H349.3V381.4M349.1 381.4V381.3H350.5V381.4M350.2 381.4V375.1H351.6V381.4M351.4 381.4V381.8H352.7V381.4M352.5 381.4V384.9H353.9V381.4M353.6 381.4V374.2H355.0V381.4M354.8 381.4V359.0H356.2V381.4M355.9 381.4V385.2H357.3V381.4M357.1 381.4V382.5H358.5V381.4M358.2 381.4V378.8H359.6V381.4M359.4 381.4V396.5H360.8V381.4M360.5 381.4V394.6H361.9V381.4M362.8 381.4V367.1H364.2V381.4M363.9 381.4V380.9H365.3V381.4M365.1 381.4V382.7H366.0V381.4" fill="none" stroke="#000" stroke-opacity="0.6" stroke-width="0.45"/>
<path d="M219.8 381.4V378.6H221.2V381.4ZM221.0 381.4V386.6H222.4V381.4ZM222.1 381.4V381.5H223.5V381.4ZM223.3 381.4V387.8H224.7V381.4ZM224.4 381.4V373.6H225.8V381.4ZM225.6 381.4V401.2H227.0V381.4ZM226.7 381.4V395.7H228.1V381.4ZM227.9 381.4V360.8H229.2V381.4ZM229.0 381.4V388.5H230.4V381.4ZM230.1 381.4V359.9H231.5V381.4ZM230.1 381.4V399.4H231.5V381.4ZM231.3 381.4V383.6H232.7V381.4ZM232.4 381.4V394.8H233.8V381.4ZM233.6 381.4V376.7H235.0V381.4ZM234.7 381.4V370.4H236.1V381.4ZM234.7 381.4V405.5H236.1V381.4ZM235.9 381.4V365.4H237.3V381.4ZM237.0 381.4V387.0H238.4V381.4ZM238.1 381.4V397.4H239.5V381.4ZM239.3 381.4V402.0H240.7V381.4ZM240.4 381.4V360.8H241.8V381.4ZM240.4 381.4V401.2H241.8V381.4ZM241.6 381.4V359.9H243.0V381.4ZM242.7 381.4V382.1H244.1V381.4ZM243.9 381.4V397.4H245.3V381.4ZM245.0 381.4V384.4H246.4V381.4ZM246.1 381.4V354.6H247.5V381.4ZM247.3 381.4V394.6H248.7V381.4ZM248.4 381.4V380.7H249.8V381.4ZM249.6 381.4V398.5H251.0V381.4ZM250.7 381.4V396.8H252.1V381.4ZM251.9 381.4V367.1H253.3V381.4ZM253.0 381.4V389.1H254.4V381.4ZM254.2 381.4V389.5H255.5V381.4ZM255.3 381.4V394.6H256.7V381.4ZM256.4 381.4V375.9H257.8V381.4ZM257.6 381.4V393.0H259.0V381.4ZM258.7 381.4V396.5H260.1V381.4ZM259.9 381.4V377.0H261.3V381.4ZM261.0 381.4V353.5H262.4V381.4ZM262.2 381.4V380.8H263.6V381.4ZM263.3 381.4V405.5H264.7V381.4ZM264.4 381.4V395.7H265.8V381.4ZM265.6 381.4V374.8H267.0V381.4ZM266.7 381.4V381.1H268.1V381.4ZM267.9 381.4V394.8H269.3V381.4ZM269.0 381.4V376.6H270.4V381.4ZM270.2 381.4V369.8H271.6V381.4ZM270.2 381.4V399.4H271.6V381.4ZM271.3 381.4V378.7H272.7V381.4ZM272.4 381.4V382.7H273.8V381.4ZM273.6 381.4V386.1H275.0V381.4ZM274.7 381.4V382.5H276.1V381.4ZM275.9 381.4V393.0H277.3V381.4ZM277.0 381.4V369.8H278.4V381.4ZM277.0 381.4V401.2H278.4V381.4ZM278.2 381.4V404.7H279.6V381.4ZM279.3 381.4V407.3H280.7V381.4ZM280.5 381.4V376.0H281.8V381.4ZM281.6 381.4V376.6H283.0V381.4ZM282.7 381.4V379.9H284.1V381.4ZM283.9 381.4V377.5H285.3V381.4ZM285.0 381.4V374.2H286.4V381.4ZM285.0 381.4V387.8H286.4V381.4ZM286.2 381.4V385.5H287.6V381.4ZM287.3 381.4V363.4H288.7V381.4ZM288.5 381.4V403.8H289.9V381.4ZM289.6 381.4V372.4H291.0V381.4ZM289.6 381.4V399.0H291.0V381.4ZM290.7 381.4V393.9H292.1V381.4ZM291.9 381.4V388.6H293.3V381.4ZM293.0 381.4V383.6H294.4V381.4ZM294.2 381.4V352.6H295.6V381.4ZM295.3 381.4V395.7H296.7V381.4ZM296.5 381.4V381.6H297.9V381.4ZM297.6 381.4V372.4H299.0V381.4ZM298.7 381.4V363.8H300.1V381.4ZM299.9 381.4V355.5H301.3V381.4ZM299.9 381.4V396.5H301.3V381.4ZM301.0 381.4V380.6H302.4V381.4ZM302.2 381.4V396.5H303.6V381.4ZM303.3 381.4V399.0H304.7V381.4ZM304.5 381.4V401.2H305.9V381.4ZM305.6 381.4V381.0H307.0V381.4ZM306.8 381.4V393.0H308.1V381.4ZM307.9 381.4V384.4H309.3V381.4ZM309.0 381.4V373.5H310.4V381.4ZM310.2 381.4V386.3H311.6V381.4ZM311.3 381.4V393.9H312.7V381.4ZM312.5 381.4V399.4H313.9V381.4ZM313.6 381.4V389.6H315.0V381.4ZM314.8 381.4V384.3H316.2V381.4ZM315.9 381.4V393.9H317.3V381.4ZM317.0 381.4V382.6H318.4V381.4ZM318.2 381.4V388.1H319.6V381.4ZM319.3 381.4V383.6H320.7V381.4ZM320.5 381.4V387.8H321.9V381.4ZM321.6 381.4V370.6H323.0V381.4ZM321.6 381.4V393.0H323.0V381.4ZM322.8 381.4V357.3H324.2V381.4ZM323.9 381.4V382.1H325.3V381.4ZM325.1 381.4V383.6H326.4V381.4ZM326.2 381.4V380.4H327.6V381.4ZM327.3 381.4V381.0H328.7V381.4ZM328.5 381.4V389.5H329.9V381.4ZM329.6 381.4V384.4H331.0V381.4ZM330.8 381.4V385.6H332.2V381.4ZM331.9 381.4V385.8H333.3V381.4ZM333.1 381.4V378.9H334.5V381.4ZM334.2 381.4V372.4H335.6V381.4ZM334.2 381.4V395.7H335.6V381.4ZM335.3 381.4V365.4H336.7V381.4ZM336.5 381.4V375.9H337.9V381.4ZM336.5 381.4V392.4H337.9V381.4ZM337.6 381.4V389.5H339.0V381.4ZM338.8 381.4V385.1H340.2V381.4ZM339.9 381.4V383.9H341.3V381.4ZM341.1 381.4V379.8H342.5V381.4ZM342.2 381.4V375.9H343.6V381.4ZM342.2 381.4V393.0H343.6V381.4ZM343.3 381.4V369.8H344.7V381.4ZM343.3 381.4V389.5H344.7V381.4ZM344.5 381.4V382.0H345.9V381.4ZM345.6 381.4V370.4H347.0V381.4ZM345.6 381.4V396.5H347.0V381.4ZM346.8 381.4V358.1H348.2V381.4ZM347.9 381.4V378.9H349.3V381.4ZM349.1 381.4V373.6H350.5V381.4ZM350.2 381.4V400.3H351.6V381.4ZM351.4 381.4V385.0H352.7V381.4ZM352.5 381.4V358.1H353.9V381.4ZM352.5 381.4V393.0H353.9V381.4ZM353.6 381.4V392.4H355.0V381.4ZM354.8 381.4V382.4H356.2V381.4ZM355.9 381.4V365.4H357.3V381.4ZM357.1 381.4V400.3H358.5V381.4ZM358.2 381.4V373.3H359.6V381.4ZM358.2 381.4V393.9H359.6V381.4ZM359.4 381.4V380.7H360.8V381.4ZM360.5 381.4V378.7H361.9V381.4ZM361.6 381.4V354.6H363.0V381.4ZM362.8 381.4V402.9H364.2V381.4ZM363.9 381.4V384.6H365.3V381.4ZM365.1 381.4V390.2H366.0V381.4Z" fill="#582163"/>
<path d="M219.8 381.4V378.6H221.2V381.4M221.0 381.4V386.6H222.4V381.4M222.1 381.4V381.5H223.5V381.4M223.3 381.4V387.8H224.7V381.4M224.4 381.4V373.6H225.8V381.4M225.6 381.4V401.2H227.0V381.4M226.7 381.4V395.7H228.1V381.4M227.9 381.4V360.8H229.2V381.4M229.0 381.4V388.5H230.4V381.4M230.1 381.4V359.9H231.5V381.4M230.1 381.4V399.4H231.5V381.4M231.3 381.4V383.6H232.7V381.4M232.4 381.4V394.8H233.8V381.4M233.6 381.4V376.7H235.0V381.4M234.7 381.4V370.4H236.1V381.4M234.7 381.4V405.5H236.1V381.4M235.9 381.4V365.4H237.3V381.4M237.0 381.4V387.0H238.4V381.4M238.1 381.4V397.4H239.5V381.4M239.3 381.4V402.0H240.7V381.4M240.4 381.4V360.8H241.8V381.4M240.4 381.4V401.2H241.8V381.4M241.6 381.4V359.9H243.0V381.4M242.7 381.4V382.1H244.1V381.4M243.9 381.4V397.4H245.3V381.4M245.0 381.4V384.4H246.4V381.4M246.1 381.4V354.6H247.5V381.4M247.3 381.4V394.6H248.7V381.4M248.4 381.4V380.7H249.8V381.4M249.6 381.4V398.5H251.0V381.4M250.7 381.4V396.8H252.1V381.4M251.9 381.4V367.1H253.3V381.4M253.0 381.4V389.1H254.4V381.4M254.2 381.4V389.5H255.5V381.4M255.3 381.4V394.6H256.7V381.4M256.4 381.4V375.9H257.8V381.4M257.6 381.4V393.0H259.0V381.4M258.7 381.4V396.5H260.1V381.4M259.9 381.4V377.0H261.3V381.4M261.0 381.4V353.5H262.4V381.4M262.2 381.4V380.8H263.6V381.4M263.3 381.4V405.5H264.7V381.4M264.4 381.4V395.7H265.8V381.4M265.6 381.4V374.8H267.0V381.4M266.7 381.4V381.1H268.1V381.4M267.9 381.4V394.8H269.3V381.4M269.0 381.4V376.6H270.4V381.4M270.2 381.4V369.8H271.6V381.4M270.2 381.4V399.4H271.6V381.4M271.3 381.4V378.7H272.7V381.4M272.4 381.4V382.7H273.8V381.4M273.6 381.4V386.1H275.0V381.4M274.7 381.4V382.5H276.1V381.4M275.9 381.4V393.0H277.3V381.4M277.0 381.4V369.8H278.4V381.4M277.0 381.4V401.2H278.4V381.4M278.2 381.4V404.7H279.6V381.4M279.3 381.4V407.3H280.7V381.4M280.5 381.4V376.0H281.8V381.4M281.6 381.4V376.6H283.0V381.4M282.7 381.4V379.9H284.1V381.4M283.9 381.4V377.5H285.3V381.4M285.0 381.4V374.2H286.4V381.4M285.0 381.4V387.8H286.4V381.4M286.2 381.4V385.5H287.6V381.4M287.3 381.4V363.4H288.7V381.4M288.5 381.4V403.8H289.9V381.4M289.6 381.4V372.4H291.0V381.4M289.6 381.4V399.0H291.0V381.4M290.7 381.4V393.9H292.1V381.4M291.9 381.4V388.6H293.3V381.4M293.0 381.4V383.6H294.4V381.4M294.2 381.4V352.6H295.6V381.4M295.3 381.4V395.7H296.7V381.4M296.5 381.4V381.6H297.9V381.4M297.6 381.4V372.4H299.0V381.4M298.7 381.4V363.8H300.1V381.4M299.9 381.4V355.5H301.3V381.4M299.9 381.4V396.5H301.3V381.4M301.0 381.4V380.6H302.4V381.4M302.2 381.4V396.5H303.6V381.4M303.3 381.4V399.0H304.7V381.4M304.5 381.4V401.2H305.9V381.4M305.6 381.4V381.0H307.0V381.4M306.8 381.4V393.0H308.1V381.4M307.9 381.4V384.4H309.3V381.4M309.0 381.4V373.5H310.4V381.4M310.2 381.4V386.3H311.6V381.4M311.3 381.4V393.9H312.7V381.4M312.5 381.4V399.4H313.9V381.4M313.6 381.4V389.6H315.0V381.4M314.8 381.4V384.3H316.2V381.4M315.9 381.4V393.9H317.3V381.4M317.0 381.4V382.6H318.4V381.4M318.2 381.4V388.1H319.6V381.4M319.3 381.4V383.6H320.7V381.4M320.5 381.4V387.8H321.9V381.4M321.6 381.4V370.6H323.0V381.4M321.6 381.4V393.0H323.0V381.4M322.8 381.4V357.3H324.2V381.4M323.9 381.4V382.1H325.3V381.4M325.1 381.4V383.6H326.4V381.4M326.2 381.4V380.4H327.6V381.4M327.3 381.4V381.0H328.7V381.4M328.5 381.4V389.5H329.9V381.4M329.6 381.4V384.4H331.0V381.4M330.8 381.4V385.6H332.2V381.4M331.9 381.4V385.8H333.3V381.4M333.1 381.4V378.9H334.5V381.4M334.2 381.4V372.4H335.6V381.4M334.2 381.4V395.7H335.6V381.4M335.3 381.4V365.4H336.7V381.4M336.5 381.4V375.9H337.9V381.4M336.5 381.4V392.4H337.9V381.4M337.6 381.4V389.5H339.0V381.4M338.8 381.4V385.1H340.2V381.4M339.9 381.4V383.9H341.3V381.4M341.1 381.4V379.8H342.5V381.4M342.2 381.4V375.9H343.6V381.4M342.2 381.4V393.0H343.6V381.4M343.3 381.4V369.8H344.7V381.4M343.3 381.4V389.5H344.7V381.4M344.5 381.4V382.0H345.9V381.4M345.6 381.4V370.4H347.0V381.4M345.6 381.4V396.5H347.0V381.4M346.8 381.4V358.1H348.2V381.4M347.9 381.4V378.9H349.3V381.4M349.1 381.4V373.6H350.5V381.4M350.2 381.4V400.3H351.6V381.4M351.4 381.4V385.0H352.7V381.4M352.5 381.4V358.1H353.9V381.4M352.5 381.4V393.0H353.9V381.4M353.6 381.4V392.4H355.0V381.4M354.8 381.4V382.4H356.2V381.4M355.9 381.4V365.4H357.3V381.4M357.1 381.4V400.3H358.5V381.4M358.2 381.4V373.3H359.6V381.4M358.2 381.4V393.9H359.6V381.4M359.4 381.4V380.7H360.8V381.4M360.5 381.4V378.7H361.9V381.4M361.6 381.4V354.6H363.0V381.4M362.8 381.4V402.9H364.2V381.4M363.9 381.4V384.6H365.3V381.4M365.1 381.4V390.2H366.0V381.4" fill="none" stroke="#000" stroke-opacity="0.6" stroke-width="0.45"/>
</g>
<line x1="219.4" x2="366.0" y1="381.40" y2="381.40" stroke="#111" stroke-width="0.3"/>
<rect x="219.4" y="337.5" width="146.60" height="87.80" fill="none" stroke="#666" stroke-width="0.45"/>
<path d="M219.40 425.3v-1.2M219.40 337.5v1.2" stroke="#555" stroke-width="0.4"/>
<text transform="translate(219.40 431.20) scale(1.32 1)" font-size="4.0" text-anchor="middle" font-weight="normal" fill="#383838">0</text>
<path d="M242.27 425.3v-1.2M242.27 337.5v1.2" stroke="#555" stroke-width="0.4"/>
<text transform="translate(242.27 431.20) scale(1.32 1)" font-size="4.0" text-anchor="middle" font-weight="normal" fill="#383838">20</text>
<path d="M265.14 425.3v-1.2M265.14 337.5v1.2" stroke="#555" stroke-width="0.4"/>
<text transform="translate(265.14 431.20) scale(1.32 1)" font-size="4.0" text-anchor="middle" font-weight="normal" fill="#383838">40</text>
<path d="M288.01 425.3v-1.2M288.01 337.5v1.2" stroke="#555" stroke-width="0.4"/>
<text transform="translate(288.01 431.20) scale(1.32 1)" font-size="4.0" text-anchor="middle" font-weight="normal" fill="#383838">60</text>
<path d="M310.88 425.3v-1.2M310.88 337.5v1.2" stroke="#555" stroke-width="0.4"/>
<text transform="translate(310.88 431.20) scale(1.32 1)" font-size="4.0" text-anchor="middle" font-weight="normal" fill="#383838">80</text>
<path d="M333.75 425.3v-1.2M333.75 337.5v1.2" stroke="#555" stroke-width="0.4"/>
<text transform="translate(333.75 431.20) scale(1.32 1)" font-size="4.0" text-anchor="middle" font-weight="normal" fill="#383838">100</text>
<path d="M356.62 425.3v-1.2M356.62 337.5v1.2" stroke="#555" stroke-width="0.4"/>
<text transform="translate(356.62 431.20) scale(1.32 1)" font-size="4.0" text-anchor="middle" font-weight="normal" fill="#383838">120</text>
<path d="M219.4 425.30h1.2M366.0 425.30h-1.2" stroke="#555" stroke-width="0.4"/>
<text transform="translate(218.40 426.65) scale(1.32 1)" font-size="4.0" text-anchor="end" font-weight="normal" fill="#383838">-2</text>
<path d="M219.4 414.32h1.2M366.0 414.32h-1.2" stroke="#555" stroke-width="0.4"/>
<text transform="translate(218.40 415.68) scale(1.32 1)" font-size="4.0" text-anchor="end" font-weight="normal" fill="#383838">-1.5</text>
<path d="M219.4 403.35h1.2M366.0 403.35h-1.2" stroke="#555" stroke-width="0.4"/>
<text transform="translate(218.40 404.70) scale(1.32 1)" font-size="4.0" text-anchor="end" font-weight="normal" fill="#383838">-1</text>
<path d="M219.4 392.38h1.2M366.0 392.38h-1.2" stroke="#555" stroke-width="0.4"/>
<text transform="translate(218.40 393.73) scale(1.32 1)" font-size="4.0" text-anchor="end" font-weight="normal" fill="#383838">-0.5</text>
<path d="M219.4 381.40h1.2M366.0 381.40h-1.2" stroke="#555" stroke-width="0.4"/>
<text transform="translate(218.40 382.75) scale(1.32 1)" font-size="4.0" text-anchor="end" font-weight="normal" fill="#383838">0</text>
<path d="M219.4 370.43h1.2M366.0 370.43h-1.2" stroke="#555" stroke-width="0.4"/>
<text transform="translate(218.40 371.78) scale(1.32 1)" font-size="4.0" text-anchor="end" font-weight="normal" fill="#383838">0.5</text>
<path d="M219.4 359.45h1.2M366.0 359.45h-1.2" stroke="#555" stroke-width="0.4"/>
<text transform="translate(218.40 360.80) scale(1.32 1)" font-size="4.0" text-anchor="end" font-weight="normal" fill="#383838">1</text>
<path d="M219.4 348.48h1.2M366.0 348.48h-1.2" stroke="#555" stroke-width="0.4"/>
<text transform="translate(218.40 349.83) scale(1.32 1)" font-size="4.0" text-anchor="end" font-weight="normal" fill="#383838">1.5</text>
<path d="M219.4 337.50h1.2M366.0 337.50h-1.2" stroke="#555" stroke-width="0.4"/>
<text transform="translate(218.40 338.85) scale(1.32 1)" font-size="4.0" text-anchor="end" font-weight="normal" fill="#383838">2</text>
<text transform="translate(294.70 435.90) scale(1.32 1)" font-size="4.35" text-anchor="middle" font-weight="normal" fill="#333">Feature number</text>
<text transform="translate(207.40 380.10) rotate(-90) scale(1 1.32)" font-size="4.35" text-anchor="middle" font-weight="normal" fill="#333">Feature value</text>
<text transform="translate(298.00 336.20) scale(1.32 1)" font-size="4.55" text-anchor="middle" font-weight="bold" fill="#000">Features after Layer 14</text>
<text transform="translate(198.00 434.35) scale(1.4 1)" font-size="7.0" text-anchor="start" font-weight="bold" fill="#000" font-family="'DejaVu Sans','Liberation Sans',sans-serif" letter-spacing="0.3">(h)</text>
<rect x="322.8" y="405.5" width="38.4" height="17.5" fill="#fff" stroke="#444" stroke-width="0.4"/>
<rect x="324.0" y="406.50" width="13.8" height="2.9" fill="#0072bd"/>
<text transform="translate(338.70 409.15) scale(1.32 1)" font-size="3.4" text-anchor="start" font-weight="normal" fill="#222">Best HVHA</text>
<rect x="324.0" y="410.70" width="13.8" height="2.9" fill="#d95319"/>
<text transform="translate(338.70 413.35) scale(1.32 1)" font-size="3.4" text-anchor="start" font-weight="normal" fill="#222">Best HVLA</text>
<rect x="324.0" y="414.90" width="13.8" height="2.9" fill="#edb120"/>
<text transform="translate(338.70 417.55) scale(1.32 1)" font-size="3.4" text-anchor="start" font-weight="normal" fill="#222">Best LVHA</text>
<rect x="324.0" y="419.10" width="13.8" height="2.9" fill="#7e2f8e"/>
<text transform="translate(338.70 421.75) scale(1.32 1)" font-size="3.4" text-anchor="start" font-weight="normal" fill="#222">Best LVLA</text>
<g>
<path d="" fill="#004775"/>
<path d="" fill="none" stroke="#000" stroke-opacity="0.5" stroke-width="0.3"/>
<path d="" fill="#873310"/>
<path d="" fill="none" stroke="#000" stroke-opacity="0.5" stroke-width="0.3"/>
<path d="" fill="#936e14"/>
<path d="" fill="none" stroke="#000" stroke-opacity="0.5" stroke-width="0.3"/>
<path d="" fill="#4e1d58"/>
<path d="" fill="none" stroke="#000" stroke-opacity="0.5" stroke-width="0.3"/>
</g>
<rect x="51.17" y="465.47" width="21.84" height="30.10" fill="#0072bd" stroke="#222" stroke-width="0.3"/>
<rect x="51.17" y="520.91" width="21.84" height="8.78" fill="#d95319" stroke="#222" stroke-width="0.3"/>
<rect x="51.17" y="495.57" width="21.84" height="25.34" fill="#7e2f8e" stroke="#222" stroke-width="0.3"/>
<rect x="78.47" y="452.42" width="21.84" height="43.15" fill="#d95319" stroke="#222" stroke-width="0.3"/>
<rect x="78.47" y="519.40" width="21.84" height="1.76" fill="#edb120" stroke="#222" stroke-width="0.3"/>
<rect x="78.47" y="495.57" width="21.84" height="23.83" fill="#7e2f8e" stroke="#222" stroke-width="0.3"/>
<rect x="105.77" y="470.49" width="21.84" height="25.09" fill="#edb120" stroke="#222" stroke-width="0.3"/>
<rect x="105.77" y="508.62" width="21.84" height="21.57" fill="#d95319" stroke="#222" stroke-width="0.3"/>
<rect x="105.77" y="495.57" width="21.84" height="13.04" fill="#7e2f8e" stroke="#222" stroke-width="0.3"/>
<rect x="133.07" y="460.45" width="21.84" height="35.12" fill="#7e2f8e" stroke="#222" stroke-width="0.3"/>
<rect x="133.07" y="495.57" width="21.84" height="25.34" fill="#edb120" stroke="#222" stroke-width="0.3"/>
<line x1="29.6" x2="176.4" y1="495.57" y2="495.57" stroke="#111" stroke-width="0.3"/>
<rect x="29.6" y="445.4" width="146.80" height="87.80" fill="none" stroke="#666" stroke-width="0.45"/>
<path d="M62.09 533.1999999999999v-1.2M62.09 445.4v1.2" stroke="#555" stroke-width="0.4"/>
<text transform="translate(62.09 539.10) scale(1.32 1)" font-size="4.0" text-anchor="middle" font-weight="normal" fill="#383838">1</text>
<path d="M89.39 533.1999999999999v-1.2M89.39 445.4v1.2" stroke="#555" stroke-width="0.4"/>
<text transform="translate(89.39 539.10) scale(1.32 1)" font-size="4.0" text-anchor="middle" font-weight="normal" fill="#383838">2</text>
<path d="M116.69 533.1999999999999v-1.2M116.69 445.4v1.2" stroke="#555" stroke-width="0.4"/>
<text transform="translate(116.69 539.10) scale(1.32 1)" font-size="4.0" text-anchor="middle" font-weight="normal" fill="#383838">3</text>
<path d="M143.99 533.1999999999999v-1.2M143.99 445.4v1.2" stroke="#555" stroke-width="0.4"/>
<text transform="translate(143.99 539.10) scale(1.32 1)" font-size="4.0" text-anchor="middle" font-weight="normal" fill="#383838">4</text>
<path d="M29.6 533.20h1.2M176.4 533.20h-1.2" stroke="#555" stroke-width="0.4"/>
<text transform="translate(28.60 534.55) scale(1.32 1)" font-size="4.0" text-anchor="end" font-weight="normal" fill="#383838">-15</text>
<path d="M29.6 520.66h1.2M176.4 520.66h-1.2" stroke="#555" stroke-width="0.4"/>
<text transform="translate(28.60 522.01) scale(1.32 1)" font-size="4.0" text-anchor="end" font-weight="normal" fill="#383838">-10</text>
<path d="M29.6 508.11h1.2M176.4 508.11h-1.2" stroke="#555" stroke-width="0.4"/>
<text transform="translate(28.60 509.46) scale(1.32 1)" font-size="4.0" text-anchor="end" font-weight="normal" fill="#383838">-5</text>
<path d="M29.6 495.57h1.2M176.4 495.57h-1.2" stroke="#555" stroke-width="0.4"/>
<text transform="translate(28.60 496.92) scale(1.32 1)" font-size="4.0" text-anchor="end" font-weight="normal" fill="#383838">0</text>
<path d="M29.6 483.03h1.2M176.4 483.03h-1.2" stroke="#555" stroke-width="0.4"/>
<text transform="translate(28.60 484.38) scale(1.32 1)" font-size="4.0" text-anchor="end" font-weight="normal" fill="#383838">5</text>
<path d="M29.6 470.49h1.2M176.4 470.49h-1.2" stroke="#555" stroke-width="0.4"/>
<text transform="translate(28.60 471.84) scale(1.32 1)" font-size="4.0" text-anchor="end" font-weight="normal" fill="#383838">10</text>
<path d="M29.6 457.94h1.2M176.4 457.94h-1.2" stroke="#555" stroke-width="0.4"/>
<text transform="translate(28.60 459.29) scale(1.32 1)" font-size="4.0" text-anchor="end" font-weight="normal" fill="#383838">15</text>
<path d="M29.6 445.40h1.2M176.4 445.40h-1.2" stroke="#555" stroke-width="0.4"/>
<text transform="translate(28.60 446.75) scale(1.32 1)" font-size="4.0" text-anchor="end" font-weight="normal" fill="#383838">20</text>
<text transform="translate(105.00 543.80) scale(1.32 1)" font-size="4.35" text-anchor="middle" font-weight="normal" fill="#333">Feature number</text>
<text transform="translate(18.50 488.00) rotate(-90) scale(1 1.32)" font-size="4.35" text-anchor="middle" font-weight="normal" fill="#333">Feature value</text>
<text transform="translate(108.00 444.10) scale(1.32 1)" font-size="4.55" text-anchor="middle" font-weight="bold" fill="#000">Features after Layer 16</text>
<text transform="translate(7.40 542.25) scale(1.4 1)" font-size="7.0" text-anchor="start" font-weight="bold" fill="#000" font-family="'DejaVu Sans','Liberation Sans',sans-serif" letter-spacing="0.3">(i)</text>
<rect x="35.0" y="469.6" width="38.4" height="17.5" fill="#fff" stroke="#444" stroke-width="0.4"/>
<rect x="36.2" y="470.60" width="13.8" height="2.9" fill="#0072bd"/>
<text transform="translate(50.90 473.25) scale(1.32 1)" font-size="3.4" text-anchor="start" font-weight="normal" fill="#222">Best HVHA</text>
<rect x="36.2" y="474.80" width="13.8" height="2.9" fill="#d95319"/>
<text transform="translate(50.90 477.45) scale(1.32 1)" font-size="3.4" text-anchor="start" font-weight="normal" fill="#222">Best HVLA</text>
<rect x="36.2" y="479.00" width="13.8" height="2.9" fill="#edb120"/>
<text transform="translate(50.90 481.65) scale(1.32 1)" font-size="3.4" text-anchor="start" font-weight="normal" fill="#222">Best LVHA</text>
<rect x="36.2" y="483.20" width="13.8" height="2.9" fill="#7e2f8e"/>
<text transform="translate(50.90 485.85) scale(1.32 1)" font-size="3.4" text-anchor="start" font-weight="normal" fill="#222">Best LVLA</text>
<g>
<path d="" fill="#004775"/>
<path d="" fill="none" stroke="#000" stroke-opacity="0.5" stroke-width="0.3"/>
<path d="" fill="#873310"/>
<path d="" fill="none" stroke="#000" stroke-opacity="0.5" stroke-width="0.3"/>
<path d="" fill="#936e14"/>
<path d="" fill="none" stroke="#000" stroke-opacity="0.5" stroke-width="0.3"/>
<path d="" fill="#4e1d58"/>
<path d="" fill="none" stroke="#000" stroke-opacity="0.5" stroke-width="0.3"/>
</g>
<rect x="241.27" y="445.40" width="21.76" height="87.80" fill="#0072bd" stroke="#222" stroke-width="0.3"/>
<rect x="268.47" y="445.40" width="21.76" height="87.80" fill="#d95319" stroke="#222" stroke-width="0.3"/>
<rect x="295.66" y="445.40" width="21.76" height="87.80" fill="#edb120" stroke="#222" stroke-width="0.3"/>
<rect x="322.86" y="445.40" width="21.76" height="87.80" fill="#7e2f8e" stroke="#222" stroke-width="0.3"/>
<rect x="219.4" y="445.4" width="146.60" height="87.80" fill="none" stroke="#666" stroke-width="0.45"/>
<path d="M252.15 533.1999999999999v-1.2M252.15 445.4v1.2" stroke="#555" stroke-width="0.4"/>
<text transform="translate(252.15 539.10) scale(1.32 1)" font-size="4.0" text-anchor="middle" font-weight="normal" fill="#383838">1</text>
<path d="M279.35 533.1999999999999v-1.2M279.35 445.4v1.2" stroke="#555" stroke-width="0.4"/>
<text transform="translate(279.35 539.10) scale(1.32 1)" font-size="4.0" text-anchor="middle" font-weight="normal" fill="#383838">2</text>
<path d="M306.54 533.1999999999999v-1.2M306.54 445.4v1.2" stroke="#555" stroke-width="0.4"/>
<text transform="translate(306.54 539.10) scale(1.32 1)" font-size="4.0" text-anchor="middle" font-weight="normal" fill="#383838">3</text>
<path d="M333.74 533.1999999999999v-1.2M333.74 445.4v1.2" stroke="#555" stroke-width="0.4"/>
<text transform="translate(333.74 539.10) scale(1.32 1)" font-size="4.0" text-anchor="middle" font-weight="normal" fill="#383838">4</text>
<path d="M219.4 533.20h1.2M366.0 533.20h-1.2" stroke="#555" stroke-width="0.4"/>
<text transform="translate(218.40 534.55) scale(1.32 1)" font-size="4.0" text-anchor="end" font-weight="normal" fill="#383838">0</text>
<path d="M219.4 524.42h1.2M366.0 524.42h-1.2" stroke="#555" stroke-width="0.4"/>
<text transform="translate(218.40 525.77) scale(1.32 1)" font-size="4.0" text-anchor="end" font-weight="normal" fill="#383838">0.1</text>
<path d="M219.4 515.64h1.2M366.0 515.64h-1.2" stroke="#555" stroke-width="0.4"/>
<text transform="translate(218.40 516.99) scale(1.32 1)" font-size="4.0" text-anchor="end" font-weight="normal" fill="#383838">0.2</text>
<path d="M219.4 506.86h1.2M366.0 506.86h-1.2" stroke="#555" stroke-width="0.4"/>
<text transform="translate(218.40 508.21) scale(1.32 1)" font-size="4.0" text-anchor="end" font-weight="normal" fill="#383838">0.3</text>
<path d="M219.4 498.08h1.2M366.0 498.08h-1.2" stroke="#555" stroke-width="0.4"/>
<text transform="translate(218.40 499.43) scale(1.32 1)" font-size="4.0" text-anchor="end" font-weight="normal" fill="#383838">0.4</text>
<path d="M219.4 489.30h1.2M366.0 489.30h-1.2" stroke="#555" stroke-width="0.4"/>
<text transform="translate(218.40 490.65) scale(1.32 1)" font-size="4.0" text-anchor="end" font-weight="normal" fill="#383838">0.5</text>
<path d="M219.4 480.52h1.2M366.0 480.52h-1.2" stroke="#555" stroke-width="0.4"/>
<text transform="translate(218.40 481.87) scale(1.32 1)" font-size="4.0" text-anchor="end" font-weight="normal" fill="#383838">0.6</text>
<path d="M219.4 471.74h1.2M366.0 471.74h-1.2" stroke="#555" stroke-width="0.4"/>
<text transform="translate(218.40 473.09) scale(1.32 1)" font-size="4.0" text-anchor="end" font-weight="normal" fill="#383838">0.7</text>
<path d="M219.4 462.96h1.2M366.0 462.96h-1.2" stroke="#555" stroke-width="0.4"/>
<text transform="translate(218.40 464.31) scale(1.32 1)" font-size="4.0" text-anchor="end" font-weight="normal" fill="#383838">0.8</text>
<path d="M219.4 454.18h1.2M366.0 454.18h-1.2" stroke="#555" stroke-width="0.4"/>
<text transform="translate(218.40 455.53) scale(1.32 1)" font-size="4.0" text-anchor="end" font-weight="normal" fill="#383838">0.9</text>
<path d="M219.4 445.40h1.2M366.0 445.40h-1.2" stroke="#555" stroke-width="0.4"/>
<text transform="translate(218.40 446.75) scale(1.32 1)" font-size="4.0" text-anchor="end" font-weight="normal" fill="#383838">1</text>
<text transform="translate(294.70 543.80) scale(1.32 1)" font-size="4.35" text-anchor="middle" font-weight="normal" fill="#333">Feature number</text>
<text transform="translate(207.90 488.00) rotate(-90) scale(1 1.32)" font-size="4.35" text-anchor="middle" font-weight="normal" fill="#333">Feature value</text>
<text transform="translate(298.00 444.10) scale(1.32 1)" font-size="4.55" text-anchor="middle" font-weight="bold" fill="#000">Features after Layer 18</text>
<text transform="translate(198.00 542.25) scale(1.4 1)" font-size="7.0" text-anchor="start" font-weight="bold" fill="#000" font-family="'DejaVu Sans','Liberation Sans',sans-serif" letter-spacing="0.3">(j)</text>
<rect x="322.8" y="469.6" width="38.4" height="18.2" fill="#fff" stroke="#444" stroke-width="0.4"/>
<rect x="324.0" y="470.70" width="13.8" height="2.9" fill="#0072bd"/>
<text transform="translate(338.70 473.35) scale(1.32 1)" font-size="3.4" text-anchor="start" font-weight="normal" fill="#222">Best HVHA</text>
<rect x="324.0" y="475.06" width="13.8" height="2.9" fill="#d95319"/>
<text transform="translate(338.70 477.71) scale(1.32 1)" font-size="3.4" text-anchor="start" font-weight="normal" fill="#222">Best HVLA</text>
<rect x="324.0" y="479.43" width="13.8" height="2.9" fill="#edb120"/>
<text transform="translate(338.70 482.08) scale(1.32 1)" font-size="3.4" text-anchor="start" font-weight="normal" fill="#222">Best LVHA</text>
<rect x="324.0" y="483.80" width="13.8" height="2.9" fill="#7e2f8e"/>
<text transform="translate(338.70 486.45) scale(1.32 1)" font-size="3.4" text-anchor="start" font-weight="normal" fill="#222">Best LVLA</text>
<g stroke="#0a0a0a" fill="none">
<line x1="194.55" x2="194.55" y1="5.9" y2="544.55" stroke-width="1.0"/>
<line x1="4.9" x2="384.35" y1="113.7" y2="113.7" stroke-width="1.25"/>
<line x1="4.9" x2="384.35" y1="221.6" y2="221.6" stroke-width="1.25"/>
<line x1="4.9" x2="384.35" y1="329.4" y2="329.4" stroke-width="1.25"/>
<line x1="4.9" x2="384.35" y1="437.1" y2="437.1" stroke-width="1.25"/>
<rect x="4.9" y="5.9" width="379.45" height="538.65" rx="1.2" stroke-width="1.7"/>
</g></svg></body></html>
